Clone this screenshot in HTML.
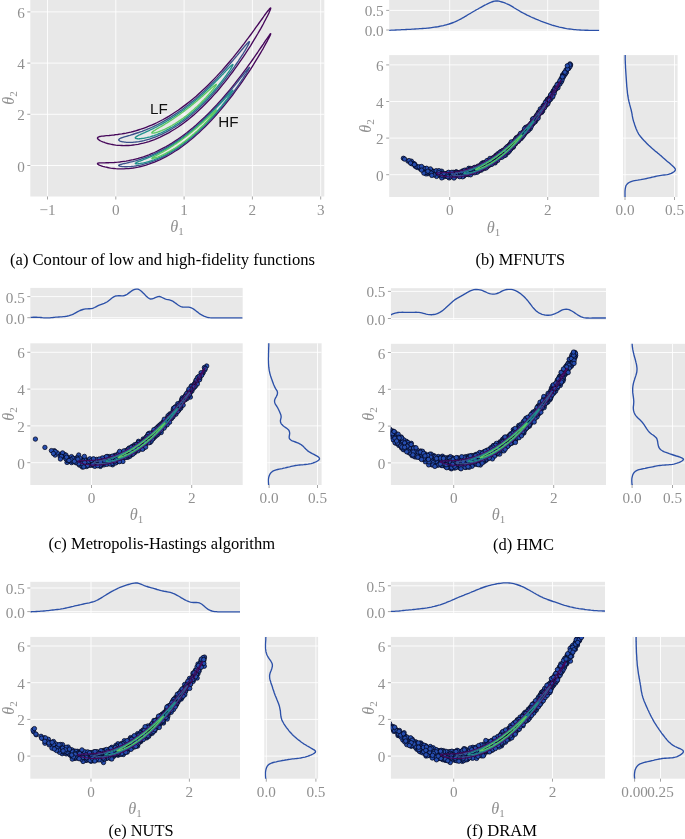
<!DOCTYPE html>
<html lang="en"><head><meta charset="utf-8"><title>MCMC sampler comparison</title>
<style>html,body{margin:0;padding:0;background:#fff}svg{display:block}.tk{font-family:"Liberation Serif",serif;font-size:15.2px;fill:#909090}.th{font-family:"Liberation Serif","DejaVu Serif",serif;font-size:16.2px;fill:#909090}.cap{font-family:"Liberation Serif",serif;font-size:16.6px;fill:#000}.lf{font-family:"Liberation Sans",sans-serif;font-size:15.2px;fill:#111}.dots circle{r:2.2px}</style></head><body>
<svg width="685" height="839" viewBox="0 0 685 839">
<rect width="685" height="839" fill="#fff"/>
<clipPath id="c1"><rect x="30.3" y="-2" width="294" height="198.5"/></clipPath>
<rect x="30.3" y="-2" width="294" height="198.5" fill="#e8e8e8"/>
<path d="M47.5 -2V196.5M115.8 -2V196.5M184.1 -2V196.5M252.4 -2V196.5M320.7 -2V196.5M30.3 165.5H324.3M30.3 114.3H324.3M30.3 63.1H324.3M30.3 11.9H324.3" stroke="#ffffff" stroke-width="0.85" fill="none"/>
<path d="M270.7 8.1L270.7 7.9L270.5 7.9L270.3 8.1L269.9 8.4L269.4 8.9L268.9 9.6L268.2 10.5L267.4 11.5L266.5 12.7L265.5 14L264.4 15.5L263.3 17.2L262 19L260.6 20.9L259.1 23L257.6 25.1L255.9 27.4L254.2 29.9L252.4 32.4L250.5 35L248.5 37.7L246.4 40.4L244.3 43.3L242.1 46.2L239.8 49.1L237.4 52.1L235 55.1L232.6 58.1L230 61.2L227.4 64.3L224.8 67.3L222.1 70.4L219.3 73.4L216.6 76.4L213.7 79.4L210.9 82.3L208 85.2L205.1 88L202.1 90.8L199.1 93.5L196.2 96.2L193.2 98.7L190.1 101.2L187.1 103.6L184.1 105.9L181.1 108.1L178.1 110.3L175 112.3L172 114.2L169.1 116.1L166.1 117.8L163.1 119.5L160.2 121L157.3 122.5L154.5 123.8L151.6 125.1L148.9 126.2L146.1 127.3L143.4 128.3L140.8 129.2L138.2 130L135.6 130.8L133.2 131.5L130.8 132.1L128.4 132.6L126.1 133.1L123.9 133.5L121.8 133.9L119.7 134.2L117.7 134.5L115.8 134.7L114 135L112.3 135.1L110.6 135.3L109.1 135.5L107.6 135.6L106.2 135.7L104.9 135.8L103.8 136L102.7 136.1L101.7 136.2L100.8 136.4L100 136.5L99.3 136.7L98.8 136.9L98.3 137.1L97.9 137.3L97.7 137.5L97.5 137.8L97.5 138.1L97.5 138.4L97.7 138.7L97.9 139L98.3 139.4L98.8 139.8L99.3 140.2L100 140.6L100.8 141L101.7 141.4L102.7 141.8L103.8 142.2L104.9 142.7L106.2 143.1L107.6 143.5L109.1 143.8L110.6 144.2L112.3 144.5L114 144.8L115.8 145.1L117.7 145.3L119.7 145.4L121.8 145.5L123.9 145.6L126.1 145.5L128.4 145.5L130.8 145.3L133.2 145L135.6 144.7L138.2 144.3L140.8 143.7L143.4 143.1L146.1 142.4L148.9 141.6L151.6 140.6L154.5 139.6L157.3 138.4L160.2 137.1L163.1 135.7L166.1 134.2L169.1 132.6L172 130.8L175 129L178.1 127L181.1 124.9L184.1 122.7L187.1 120.4L190.1 117.9L193.2 115.4L196.2 112.8L199.1 110L202.1 107.2L205.1 104.3L208 101.3L210.9 98.3L213.7 95.1L216.6 92L219.3 88.7L222.1 85.4L224.8 82.1L227.4 78.8L230 75.4L232.6 72L235 68.7L237.4 65.3L239.8 61.9L242.1 58.6L244.3 55.3L246.4 52.1L248.5 48.9L250.5 45.8L252.4 42.7L254.2 39.7L255.9 36.8L257.6 34L259.1 31.3L260.6 28.8L262 26.3L263.3 24L264.4 21.8L265.5 19.7L266.5 17.8L267.4 16.1L268.2 14.5L268.9 13.1L269.4 11.8L269.9 10.7L270.3 9.8L270.5 9.1L270.7 8.5L270.7 8.1Z" stroke="#46075a" stroke-width="1.35" fill="none" stroke-linejoin="round" clip-path="url(#c1)"/>
<path d="M249.5 41.8L249.4 41.7L249.3 41.6L249.1 41.7L248.8 41.9L248.5 42.2L248.1 42.6L247.5 43.1L246.9 43.8L246.3 44.5L245.5 45.4L244.7 46.3L243.8 47.4L242.9 48.5L241.8 49.8L240.7 51.1L239.5 52.5L238.3 54L237 55.6L235.6 57.2L234.2 58.9L232.7 60.7L231.1 62.5L229.5 64.4L227.8 66.3L226.1 68.3L224.4 70.2L222.5 72.3L220.7 74.3L218.7 76.4L216.8 78.5L214.8 80.5L212.8 82.6L210.7 84.7L208.6 86.8L206.5 88.8L204.3 90.9L202.1 92.9L199.9 94.9L197.7 96.9L195.5 98.9L193.2 100.8L190.9 102.6L188.7 104.5L186.4 106.2L184.1 108L181.8 109.7L179.5 111.3L177.3 112.9L175 114.4L172.7 115.9L170.5 117.3L168.3 118.6L166.1 119.9L163.9 121.2L161.7 122.4L159.6 123.5L157.5 124.6L155.4 125.6L153.4 126.6L151.4 127.5L149.5 128.3L147.5 129.1L145.7 129.9L143.8 130.6L142.1 131.3L140.4 131.9L138.7 132.5L137.1 133L135.5 133.5L134 134L132.6 134.5L131.2 134.9L129.9 135.3L128.7 135.6L127.5 136L126.4 136.3L125.3 136.6L124.4 136.9L123.5 137.2L122.7 137.5L121.9 137.7L121.3 138L120.7 138.2L120.1 138.5L119.7 138.7L119.4 138.9L119.1 139.2L118.9 139.4L118.8 139.6L118.7 139.9L118.8 140.1L118.9 140.3L119.1 140.5L119.4 140.7L119.7 140.9L120.1 141.1L120.7 141.3L121.3 141.5L121.9 141.6L122.7 141.8L123.5 141.9L124.4 142.1L125.3 142.2L126.4 142.3L127.5 142.3L128.7 142.3L129.9 142.3L131.2 142.3L132.6 142.3L134 142.1L135.5 142L137.1 141.8L138.7 141.6L140.4 141.3L142.1 141L143.8 140.6L145.7 140.1L147.5 139.6L149.5 139.1L151.4 138.4L153.4 137.7L155.4 137L157.5 136.1L159.6 135.2L161.7 134.3L163.9 133.2L166.1 132.1L168.3 130.9L170.5 129.7L172.7 128.3L175 126.9L177.3 125.5L179.5 123.9L181.8 122.3L184.1 120.6L186.4 118.9L188.7 117.1L190.9 115.2L193.2 113.3L195.5 111.3L197.7 109.3L199.9 107.2L202.1 105.1L204.3 102.9L206.5 100.7L208.6 98.5L210.7 96.3L212.8 94L214.8 91.7L216.8 89.4L218.7 87.1L220.7 84.8L222.5 82.5L224.4 80.2L226.1 78L227.8 75.7L229.5 73.5L231.1 71.3L232.7 69.2L234.2 67.1L235.6 65L237 63L238.3 61.1L239.5 59.2L240.7 57.4L241.8 55.7L242.9 54.1L243.8 52.5L244.7 51.1L245.5 49.7L246.3 48.4L246.9 47.3L247.5 46.2L248.1 45.2L248.5 44.4L248.8 43.6L249.1 43L249.3 42.5L249.4 42.1L249.5 41.8Z" stroke="#3b528b" stroke-width="1.35" fill="none" stroke-linejoin="round" clip-path="url(#c1)"/>
<path d="M232.9 64.6L232.9 64.5L232.8 64.5L232.6 64.5L232.4 64.6L232.2 64.8L231.8 65L231.5 65.3L231 65.7L230.5 66.2L230 66.7L229.4 67.4L228.7 68L228 68.8L227.2 69.6L226.4 70.4L225.5 71.4L224.6 72.3L223.6 73.4L222.6 74.4L221.5 75.6L220.4 76.7L219.2 77.9L218 79.2L216.8 80.4L215.5 81.8L214.2 83.1L212.8 84.5L211.4 85.8L210 87.2L208.5 88.6L207 90.1L205.5 91.5L204 92.9L202.4 94.4L200.8 95.8L199.2 97.3L197.6 98.7L195.9 100.1L194.2 101.5L192.6 102.9L190.9 104.3L189.2 105.6L187.5 107L185.8 108.3L184.1 109.6L182.4 110.8L180.7 112.1L179 113.3L177.3 114.5L175.6 115.6L174 116.7L172.3 117.8L170.6 118.9L169 119.9L167.4 120.8L165.8 121.8L164.2 122.7L162.7 123.6L161.2 124.4L159.7 125.2L158.2 126L156.8 126.8L155.4 127.5L154 128.1L152.7 128.8L151.4 129.4L150.2 130L149 130.6L147.8 131.1L146.7 131.6L145.6 132.1L144.6 132.6L143.6 133L142.7 133.4L141.8 133.8L141 134.2L140.2 134.6L139.5 134.9L138.8 135.2L138.2 135.5L137.7 135.8L137.2 136.1L136.7 136.4L136.4 136.6L136 136.8L135.8 137.1L135.6 137.3L135.4 137.5L135.3 137.6L135.3 137.8L135.3 138L135.4 138.1L135.6 138.3L135.8 138.4L136 138.5L136.4 138.6L136.7 138.6L137.2 138.7L137.7 138.7L138.2 138.8L138.8 138.8L139.5 138.7L140.2 138.7L141 138.6L141.8 138.5L142.7 138.4L143.6 138.3L144.6 138.1L145.6 137.9L146.7 137.7L147.8 137.4L149 137.1L150.2 136.8L151.4 136.4L152.7 136L154 135.6L155.4 135.1L156.8 134.6L158.2 134L159.7 133.4L161.2 132.8L162.7 132.1L164.2 131.3L165.8 130.6L167.4 129.7L169 128.9L170.6 127.9L172.3 127L174 126L175.6 124.9L177.3 123.8L179 122.7L180.7 121.5L182.4 120.3L184.1 119L185.8 117.7L187.5 116.4L189.2 115L190.9 113.6L192.6 112.2L194.2 110.7L195.9 109.3L197.6 107.8L199.2 106.2L200.8 104.7L202.4 103.1L204 101.6L205.5 100L207 98.4L208.5 96.8L210 95.2L211.4 93.7L212.8 92.1L214.2 90.5L215.5 89L216.8 87.5L218 86L219.2 84.5L220.4 83L221.5 81.6L222.6 80.3L223.6 78.9L224.6 77.6L225.5 76.4L226.4 75.2L227.2 74L228 72.9L228.7 71.9L229.4 70.9L230 70L230.5 69.1L231 68.3L231.5 67.6L231.8 67L232.2 66.4L232.4 65.9L232.6 65.5L232.8 65.1L232.9 64.8L232.9 64.6Z" stroke="#21918c" stroke-width="1.35" fill="none" stroke-linejoin="round" clip-path="url(#c1)"/>
<path d="M216.4 84.4L216.3 84.3L216.3 84.3L216.2 84.3L216 84.3L215.9 84.4L215.7 84.5L215.4 84.7L215.1 84.9L214.8 85.2L214.4 85.5L214 85.8L213.6 86.2L213.1 86.6L212.6 87L212 87.5L211.5 88L210.8 88.6L210.2 89.2L209.5 89.8L208.8 90.4L208.1 91.1L207.3 91.8L206.5 92.5L205.7 93.2L204.8 94L204 94.8L203.1 95.6L202.1 96.4L201.2 97.2L200.2 98.1L199.2 98.9L198.2 99.8L197.2 100.7L196.2 101.5L195.1 102.4L194.1 103.3L193 104.2L191.9 105.1L190.8 106L189.7 106.9L188.6 107.7L187.5 108.6L186.4 109.5L185.2 110.3L184.1 111.2L183 112L181.8 112.8L180.7 113.7L179.6 114.5L178.5 115.3L177.4 116L176.3 116.8L175.2 117.5L174.1 118.3L173.1 119L172 119.7L171 120.3L170 121L169 121.6L168 122.3L167 122.9L166.1 123.4L165.1 124L164.2 124.6L163.4 125.1L162.5 125.6L161.7 126.1L160.9 126.6L160.1 127L159.4 127.5L158.7 127.9L158 128.3L157.4 128.7L156.7 129L156.2 129.4L155.6 129.7L155.1 130.1L154.6 130.4L154.2 130.6L153.8 130.9L153.4 131.2L153.1 131.4L152.8 131.6L152.5 131.8L152.3 132L152.2 132.2L152 132.4L151.9 132.5L151.9 132.7L151.8 132.8L151.9 132.9L151.9 133L152 133L152.2 133.1L152.3 133.1L152.5 133.1L152.8 133.1L153.1 133.1L153.4 133.1L153.8 133.1L154.2 133L154.6 132.9L155.1 132.8L155.6 132.7L156.2 132.5L156.7 132.4L157.4 132.2L158 132L158.7 131.7L159.4 131.5L160.1 131.2L160.9 130.9L161.7 130.6L162.5 130.2L163.4 129.9L164.2 129.5L165.1 129.1L166.1 128.6L167 128.2L168 127.7L169 127.2L170 126.6L171 126L172 125.5L173.1 124.8L174.1 124.2L175.2 123.5L176.3 122.8L177.4 122.1L178.5 121.4L179.6 120.6L180.7 119.9L181.8 119.1L183 118.3L184.1 117.4L185.2 116.6L186.4 115.7L187.5 114.8L188.6 113.9L189.7 113L190.8 112.1L191.9 111.1L193 110.2L194.1 109.3L195.1 108.3L196.2 107.3L197.2 106.4L198.2 105.4L199.2 104.4L200.2 103.5L201.2 102.5L202.1 101.6L203.1 100.6L204 99.7L204.8 98.8L205.7 97.9L206.5 97L207.3 96.1L208.1 95.3L208.8 94.4L209.5 93.6L210.2 92.8L210.8 92.1L211.5 91.3L212 90.6L212.6 90L213.1 89.3L213.6 88.7L214 88.1L214.4 87.6L214.8 87.1L215.1 86.6L215.4 86.2L215.7 85.8L215.9 85.5L216 85.2L216.2 84.9L216.3 84.7L216.3 84.5L216.4 84.4Z" stroke="#5ec962" stroke-width="1.35" fill="none" stroke-linejoin="round" clip-path="url(#c1)"/>
<path d="M270.7 33.7L270.7 33.7L270.5 33.7L270.3 34L269.9 34.5L269.4 35.1L268.9 35.9L268.2 36.8L267.4 38L266.5 39.3L265.5 40.7L264.4 42.3L263.3 44.1L262 46L260.6 48L259.1 50.2L257.6 52.5L255.9 54.9L254.2 57.4L252.4 60L250.5 62.7L248.5 65.4L246.4 68.3L244.3 71.2L242.1 74.2L239.8 77.2L237.4 80.2L235 83.3L232.6 86.4L230 89.6L227.4 92.7L224.8 95.8L222.1 98.9L219.3 102L216.6 105L213.7 108L210.9 111L208 113.9L205.1 116.8L202.1 119.6L199.1 122.3L196.2 125L193.2 127.6L190.1 130L187.1 132.5L184.1 134.8L181.1 137L178.1 139.1L175 141.1L172 143.1L169.1 144.9L166.1 146.6L163.1 148.2L160.2 149.7L157.3 151.2L154.5 152.5L151.6 153.7L148.9 154.8L146.1 155.8L143.4 156.8L140.8 157.6L138.2 158.4L135.6 159.1L133.2 159.7L130.8 160.2L128.4 160.7L126.1 161.1L123.9 161.4L121.8 161.7L119.7 162L117.7 162.2L115.8 162.3L114 162.5L112.3 162.6L110.6 162.6L109.1 162.7L107.6 162.7L106.2 162.7L104.9 162.8L103.8 162.8L102.7 162.8L101.7 162.8L100.8 162.9L100 162.9L99.3 162.9L98.8 163L98.3 163.1L97.9 163.2L97.7 163.3L97.5 163.5L97.5 163.7L97.5 163.8L97.7 164.1L97.9 164.3L98.3 164.5L98.8 164.8L99.3 165.1L100 165.4L100.8 165.7L101.7 166L102.7 166.3L103.8 166.6L104.9 166.9L106.2 167.2L107.6 167.5L109.1 167.8L110.6 168.1L112.3 168.3L114 168.5L115.8 168.7L117.7 168.8L119.7 168.9L121.8 168.9L123.9 168.8L126.1 168.7L128.4 168.6L130.8 168.3L133.2 168L135.6 167.6L138.2 167.1L140.8 166.5L143.4 165.8L146.1 165.1L148.9 164.2L151.6 163.2L154.5 162.1L157.3 160.9L160.2 159.6L163.1 158.2L166.1 156.6L169.1 155L172 153.2L175 151.3L178.1 149.4L181.1 147.2L184.1 145L187.1 142.7L190.1 140.3L193.2 137.8L196.2 135.1L199.1 132.4L202.1 129.6L205.1 126.8L208 123.8L210.9 120.8L213.7 117.7L216.6 114.5L219.3 111.4L222.1 108.1L224.8 104.9L227.4 101.6L230 98.3L232.6 95L235 91.6L237.4 88.3L239.8 85.1L242.1 81.8L244.3 78.6L246.4 75.4L248.5 72.3L250.5 69.3L252.4 66.3L254.2 63.4L255.9 60.6L257.6 57.9L259.1 55.3L260.6 52.8L262 50.5L263.3 48.3L264.4 46.2L265.5 44.2L266.5 42.4L267.4 40.8L268.2 39.3L268.9 38L269.4 36.9L269.9 35.9L270.3 35.1L270.5 34.5L270.7 34L270.7 33.7Z" stroke="#46075a" stroke-width="1.35" fill="none" stroke-linejoin="round" clip-path="url(#c1)"/>
<path d="M249.5 67.4L249.4 67.4L249.3 67.4L249.1 67.6L248.8 67.8L248.5 68.2L248.1 68.7L247.5 69.3L246.9 70L246.3 70.9L245.5 71.8L244.7 72.8L243.8 74L242.9 75.2L241.8 76.5L240.7 77.9L239.5 79.4L238.3 81L237 82.6L235.6 84.3L234.2 86.1L232.7 87.9L231.1 89.8L229.5 91.7L227.8 93.7L226.1 95.7L224.4 97.8L222.5 99.9L220.7 101.9L218.7 104.1L216.8 106.2L214.8 108.3L212.8 110.4L210.7 112.5L208.6 114.7L206.5 116.8L204.3 118.8L202.1 120.9L199.9 122.9L197.7 124.9L195.5 126.9L193.2 128.8L190.9 130.7L188.7 132.5L186.4 134.3L184.1 136L181.8 137.7L179.5 139.3L177.3 140.9L175 142.4L172.7 143.9L170.5 145.3L168.3 146.6L166.1 147.9L163.9 149.1L161.7 150.3L159.6 151.4L157.5 152.4L155.4 153.4L153.4 154.3L151.4 155.2L149.5 156L147.5 156.8L145.7 157.5L143.8 158.1L142.1 158.7L140.4 159.3L138.7 159.8L137.1 160.3L135.5 160.8L134 161.2L132.6 161.6L131.2 161.9L129.9 162.2L128.7 162.5L127.5 162.8L126.4 163.1L125.3 163.3L124.4 163.5L123.5 163.7L122.7 163.9L121.9 164.1L121.3 164.3L120.7 164.4L120.1 164.6L119.7 164.7L119.4 164.9L119.1 165L118.9 165.2L118.8 165.3L118.7 165.5L118.8 165.6L118.9 165.7L119.1 165.8L119.4 166L119.7 166.1L120.1 166.2L120.7 166.3L121.3 166.4L121.9 166.5L122.7 166.6L123.5 166.6L124.4 166.7L125.3 166.7L126.4 166.7L127.5 166.7L128.7 166.6L129.9 166.6L131.2 166.5L132.6 166.3L134 166.2L135.5 166L137.1 165.7L138.7 165.4L140.4 165.1L142.1 164.7L143.8 164.2L145.7 163.7L147.5 163.2L149.5 162.6L151.4 161.9L153.4 161.2L155.4 160.4L157.5 159.5L159.6 158.6L161.7 157.6L163.9 156.5L166.1 155.4L168.3 154.1L170.5 152.9L172.7 151.5L175 150.1L177.3 148.6L179.5 147.1L181.8 145.5L184.1 143.8L186.4 142L188.7 140.2L190.9 138.4L193.2 136.5L195.5 134.5L197.7 132.5L199.9 130.4L202.1 128.3L204.3 126.2L206.5 124L208.6 121.8L210.7 119.6L212.8 117.4L214.8 115.1L216.8 112.9L218.7 110.6L220.7 108.4L222.5 106.1L224.4 103.9L226.1 101.7L227.8 99.5L229.5 97.3L231.1 95.2L232.7 93.1L234.2 91.1L235.6 89.1L237 87.2L238.3 85.3L239.5 83.5L240.7 81.8L241.8 80.2L242.9 78.6L243.8 77.1L244.7 75.7L245.5 74.5L246.3 73.3L246.9 72.2L247.5 71.2L248.1 70.3L248.5 69.6L248.8 68.9L249.1 68.4L249.3 67.9L249.4 67.6L249.5 67.4Z" stroke="#3b528b" stroke-width="1.35" fill="none" stroke-linejoin="round" clip-path="url(#c1)"/>
<path d="M232.9 90.2L232.9 90.2L232.8 90.2L232.6 90.3L232.4 90.4L232.2 90.7L231.8 91L231.5 91.4L231 91.8L230.5 92.4L230 93L229.4 93.6L228.7 94.4L228 95.2L227.2 96L226.4 97L225.5 97.9L224.6 99L223.6 100L222.6 101.2L221.5 102.3L220.4 103.5L219.2 104.8L218 106.1L216.8 107.4L215.5 108.8L214.2 110.1L212.8 111.5L211.4 112.9L210 114.4L208.5 115.8L207 117.3L205.5 118.7L204 120.2L202.4 121.7L200.8 123.1L199.2 124.6L197.6 126L195.9 127.5L194.2 128.9L192.6 130.3L190.9 131.7L189.2 133.1L187.5 134.4L185.8 135.7L184.1 137L182.4 138.3L180.7 139.5L179 140.7L177.3 141.9L175.6 143L174 144.1L172.3 145.2L170.6 146.2L169 147.2L167.4 148.2L165.8 149.1L164.2 150L162.7 150.8L161.2 151.6L159.7 152.4L158.2 153.2L156.8 153.9L155.4 154.6L154 155.2L152.7 155.8L151.4 156.4L150.2 156.9L149 157.4L147.8 157.9L146.7 158.4L145.6 158.8L144.6 159.2L143.6 159.6L142.7 160L141.8 160.3L141 160.7L140.2 161L139.5 161.2L138.8 161.5L138.2 161.7L137.7 162L137.2 162.2L136.7 162.4L136.4 162.6L136 162.8L135.8 162.9L135.6 163.1L135.4 163.2L135.3 163.3L135.3 163.4L135.3 163.5L135.4 163.6L135.6 163.7L135.8 163.7L136 163.8L136.4 163.8L136.7 163.8L137.2 163.8L137.7 163.8L138.2 163.7L138.8 163.7L139.5 163.6L140.2 163.5L141 163.4L141.8 163.2L142.7 163.1L143.6 162.9L144.6 162.6L145.6 162.4L146.7 162.1L147.8 161.8L149 161.5L150.2 161.1L151.4 160.7L152.7 160.2L154 159.8L155.4 159.2L156.8 158.7L158.2 158.1L159.7 157.4L161.2 156.8L162.7 156L164.2 155.3L165.8 154.5L167.4 153.6L169 152.7L170.6 151.8L172.3 150.8L174 149.8L175.6 148.7L177.3 147.6L179 146.5L180.7 145.3L182.4 144.1L184.1 142.8L185.8 141.5L187.5 140.2L189.2 138.8L190.9 137.4L192.6 136L194.2 134.6L195.9 133.1L197.6 131.6L199.2 130.1L200.8 128.6L202.4 127L204 125.5L205.5 123.9L207 122.4L208.5 120.8L210 119.3L211.4 117.7L212.8 116.2L214.2 114.7L215.5 113.2L216.8 111.7L218 110.3L219.2 108.8L220.4 107.4L221.5 106.1L222.6 104.7L223.6 103.4L224.6 102.2L225.5 101L226.4 99.8L227.2 98.8L228 97.7L228.7 96.7L229.4 95.8L230 95L230.5 94.2L231 93.4L231.5 92.8L231.8 92.2L232.2 91.7L232.4 91.2L232.6 90.9L232.8 90.6L232.9 90.4L232.9 90.2Z" stroke="#21918c" stroke-width="1.35" fill="none" stroke-linejoin="round" clip-path="url(#c1)"/>
<path d="M216.4 110L216.3 110L216.3 110L216.2 110L216 110.1L215.9 110.2L215.7 110.4L215.4 110.6L215.1 110.8L214.8 111.1L214.4 111.5L214 111.8L213.6 112.3L213.1 112.7L212.6 113.2L212 113.7L211.5 114.3L210.8 114.9L210.2 115.5L209.5 116.1L208.8 116.8L208.1 117.5L207.3 118.2L206.5 119L205.7 119.7L204.8 120.5L204 121.3L203.1 122.2L202.1 123L201.2 123.9L200.2 124.7L199.2 125.6L198.2 126.5L197.2 127.4L196.2 128.3L195.1 129.2L194.1 130.1L193 131L191.9 131.9L190.8 132.8L189.7 133.6L188.6 134.5L187.5 135.4L186.4 136.3L185.2 137.1L184.1 138L183 138.8L181.8 139.7L180.7 140.5L179.6 141.3L178.5 142L177.4 142.8L176.3 143.6L175.2 144.3L174.1 145L173.1 145.7L172 146.4L171 147L170 147.7L169 148.3L168 148.9L167 149.5L166.1 150.1L165.1 150.6L164.2 151.1L163.4 151.6L162.5 152.1L161.7 152.6L160.9 153L160.1 153.4L159.4 153.8L158.7 154.2L158 154.6L157.4 155L156.7 155.3L156.2 155.6L155.6 155.9L155.1 156.2L154.6 156.4L154.2 156.7L153.8 156.9L153.4 157.1L153.1 157.3L152.8 157.5L152.5 157.7L152.3 157.8L152.2 158L152 158.1L151.9 158.2L151.9 158.3L151.8 158.4L151.9 158.4L151.9 158.5L152 158.5L152.2 158.5L152.3 158.5L152.5 158.5L152.8 158.5L153.1 158.4L153.4 158.3L153.8 158.2L154.2 158.1L154.6 158L155.1 157.9L155.6 157.7L156.2 157.5L156.7 157.3L157.4 157.1L158 156.9L158.7 156.6L159.4 156.3L160.1 156L160.9 155.7L161.7 155.3L162.5 154.9L163.4 154.6L164.2 154.1L165.1 153.7L166.1 153.2L167 152.7L168 152.2L169 151.7L170 151.1L171 150.5L172 149.9L173.1 149.3L174.1 148.6L175.2 148L176.3 147.3L177.4 146.6L178.5 145.8L179.6 145L180.7 144.3L181.8 143.5L183 142.6L184.1 141.8L185.2 141L186.4 140.1L187.5 139.2L188.6 138.3L189.7 137.4L190.8 136.5L191.9 135.6L193 134.6L194.1 133.7L195.1 132.8L196.2 131.8L197.2 130.9L198.2 129.9L199.2 129L200.2 128L201.2 127.1L202.1 126.2L203.1 125.3L204 124.4L204.8 123.5L205.7 122.6L206.5 121.7L207.3 120.9L208.1 120.1L208.8 119.2L209.5 118.5L210.2 117.7L210.8 117L211.5 116.3L212 115.6L212.6 115L213.1 114.4L213.6 113.8L214 113.3L214.4 112.8L214.8 112.3L215.1 111.9L215.4 111.5L215.7 111.2L215.9 110.9L216 110.6L216.2 110.4L216.3 110.2L216.3 110.1L216.4 110Z" stroke="#5ec962" stroke-width="1.35" fill="none" stroke-linejoin="round" clip-path="url(#c1)"/>
<path d="M47.5 196.5v3M115.8 196.5v3M184.1 196.5v3M252.4 196.5v3M320.7 196.5v3" stroke="#8e8e8e" stroke-width="0.8" fill="none"/>
<text class="tk" x="47.5" y="214.9" text-anchor="middle">−1</text>
<text class="tk" x="115.8" y="214.9" text-anchor="middle">0</text>
<text class="tk" x="184.1" y="214.9" text-anchor="middle">1</text>
<text class="tk" x="252.4" y="214.9" text-anchor="middle">2</text>
<text class="tk" x="320.7" y="214.9" text-anchor="middle">3</text>
<path d="M30.3 165.5h-3M30.3 114.3h-3M30.3 63.1h-3M30.3 11.9h-3" stroke="#8e8e8e" stroke-width="0.8" fill="none"/>
<text class="tk" x="24.8" y="171.5" text-anchor="end">0</text>
<text class="tk" x="24.8" y="120.3" text-anchor="end">2</text>
<text class="tk" x="24.8" y="69.1" text-anchor="end">4</text>
<text class="tk" x="24.8" y="17.9" text-anchor="end">6</text>
<text class="th" x="177" y="231.5" text-anchor="middle"><tspan font-style="italic">θ</tspan><tspan font-size="11" dy="3.4">1</tspan></text>
<text class="th" x="9" y="102.5" text-anchor="middle" transform="rotate(-90 9 98)"><tspan font-style="italic">θ</tspan><tspan font-size="11" dy="3.4">2</tspan></text>
<text class="lf" x="150" y="114.2">LF</text>
<text class="lf" x="218.3" y="126.5">HF</text>
<text class="cap" x="10" y="265" textLength="305" lengthAdjust="spacingAndGlyphs">(a) Contour of low and high-fidelity functions</text>
<clipPath id="c2"><rect x="389.2" y="-3" width="210" height="34"/></clipPath>
<rect x="389.2" y="-3" width="210" height="34" fill="#e8e8e8"/>
<path d="M449.7 -3V31M547.7 -3V31M389.2 30H599.2M389.2 10.4H599.2" stroke="#ffffff" stroke-width="0.85" fill="none"/>
<path d="M388.2 30.3L389.7 30.3L391.2 30.2L392.7 30.1L394.2 30.1L395.7 30L397.2 29.9L398.7 29.9L400.2 29.8L401.7 29.7L403.2 29.6L404.7 29.6L406.2 29.5L407.6 29.4L409.1 29.4L410.6 29.3L412.1 29.2L413.6 29.1L415.1 29L416.6 28.9L418.1 28.8L419.6 28.7L421.1 28.6L422.6 28.5L424.1 28.4L425.6 28.3L427.1 28.1L428.6 28L430.1 27.8L431.6 27.6L433 27.4L434.5 27.2L436 27L437.5 26.8L439 26.5L440.4 26.2L441.9 25.9L443.4 25.6L444.8 25.2L446.3 24.8L447.7 24.4L449.1 24L450.6 23.5L452 23L453.4 22.5L454.8 21.9L456.1 21.3L457.5 20.7L458.8 20L460.1 19.3L461.5 18.6L462.8 17.8L464.1 17.1L465.4 16.3L466.6 15.6L467.9 14.8L469.2 14L470.5 13.3L471.8 12.5L473.1 11.7L474.4 11L475.7 10.2L477 9.5L478.3 8.8L479.6 8L480.9 7.3L482.2 6.6L483.5 5.9L484.8 5.2L486.2 4.5L487.5 3.8L488.9 3.2L490.2 2.6L491.6 2L493.1 1.5L494.5 1.1L496 1L497.5 1L499 1.2L500.5 1.6L501.9 2L503.3 2.4L504.8 2.9L506.1 3.5L507.5 4.1L508.8 4.7L510.2 5.4L511.5 6.1L512.8 6.9L514 7.7L515.3 8.5L516.6 9.3L517.9 10L519.2 10.8L520.5 11.6L521.8 12.3L523.1 13L524.4 13.7L525.8 14.4L527.1 15.1L528.4 15.7L529.8 16.3L531.2 17L532.5 17.6L533.9 18.2L535.3 18.8L536.7 19.4L538 19.9L539.4 20.5L540.8 21.1L542.2 21.6L543.6 22.2L545 22.7L546.4 23.2L547.8 23.7L549.3 24.2L550.7 24.6L552.1 25.1L553.5 25.5L555 25.9L556.4 26.3L557.9 26.7L559.3 27.1L560.8 27.4L562.2 27.7L563.7 28L565.2 28.3L566.7 28.6L568.1 28.8L569.6 29L571.1 29.2L572.6 29.4L574.1 29.6L575.6 29.7L577.1 29.8L578.6 29.9L580.1 30L581.6 30.1L583 30.1L584.5 30.2L586 30.2L587.5 30.2L589 30.3L590.5 30.3L592 30.3L593.5 30.3L595 30.3L596.5 30.3L598 30.3L599.5 30.3" stroke="#2b50a8" stroke-width="1.35" fill="none" stroke-linejoin="round" clip-path="url(#c2)"/>
<path d="M389.2 30h-3M389.2 10.4h-3" stroke="#8e8e8e" stroke-width="0.8" fill="none"/>
<text class="tk" x="383.7" y="36" text-anchor="end">0.0</text>
<text class="tk" x="383.7" y="16.4" text-anchor="end">0.5</text>
<clipPath id="c3"><rect x="389.2" y="55.1" width="210" height="141.9"/></clipPath>
<rect x="389.2" y="55.1" width="210" height="141.9" fill="#e8e8e8"/>
<path d="M449.7 55.1V197M547.7 55.1V197M389.2 174.7H599.2M389.2 138.1H599.2M389.2 101.5H599.2M389.2 64.9H599.2" stroke="#ffffff" stroke-width="0.85" fill="none"/>
<g class="dots" fill="#264eb0" stroke="#03061c" stroke-width="0.75" clip-path="url(#c3)"><circle cx="548.2" cy="98.7" r="2.2"/><circle cx="501" cy="155.7" r="2.2"/><circle cx="489.8" cy="164.2" r="2.2"/><circle cx="492.3" cy="162.1" r="2.2"/><circle cx="493.3" cy="161" r="2.2"/><circle cx="540.6" cy="111.7" r="2.2"/><circle cx="513.8" cy="143.1" r="2.2"/><circle cx="532.7" cy="124" r="2.2"/><circle cx="408" cy="161.1" r="2.2"/><circle cx="509.3" cy="145" r="2.2"/><circle cx="530.8" cy="125.4" r="2.2"/><circle cx="557.7" cy="85.9" r="2.2"/><circle cx="500.6" cy="154.2" r="2.2"/><circle cx="449.2" cy="173.3" r="2.2"/><circle cx="517" cy="141" r="2.2"/><circle cx="482.1" cy="167.9" r="2.2"/><circle cx="447" cy="175.9" r="2.2"/><circle cx="481.5" cy="165.7" r="2.2"/><circle cx="530.8" cy="123.5" r="2.2"/><circle cx="535.1" cy="121.8" r="2.2"/><circle cx="521" cy="138.6" r="2.2"/><circle cx="468.9" cy="173.4" r="2.2"/><circle cx="465.4" cy="174.7" r="2.2"/><circle cx="497.5" cy="156.8" r="2.2"/><circle cx="457.3" cy="174" r="2.2"/><circle cx="538.5" cy="112.3" r="2.2"/><circle cx="525.9" cy="130.3" r="2.2"/><circle cx="502.5" cy="152.1" r="2.2"/><circle cx="497.8" cy="158.2" r="2.2"/><circle cx="505" cy="153.1" r="2.2"/><circle cx="444.3" cy="174.5" r="2.2"/><circle cx="529.1" cy="125.6" r="2.2"/><circle cx="526.7" cy="131.5" r="2.2"/><circle cx="488.3" cy="162.3" r="2.2"/><circle cx="499.5" cy="154.8" r="2.2"/><circle cx="508.7" cy="148.8" r="2.2"/><circle cx="546" cy="103.8" r="2.2"/><circle cx="512.6" cy="144.9" r="2.2"/><circle cx="484.9" cy="164.3" r="2.2"/><circle cx="455.7" cy="175.4" r="2.2"/><circle cx="492.5" cy="159.6" r="2.2"/><circle cx="502.2" cy="156.1" r="2.2"/><circle cx="521.9" cy="137.3" r="2.2"/><circle cx="512.8" cy="143.6" r="2.2"/><circle cx="519.3" cy="138.6" r="2.2"/><circle cx="505.5" cy="151.9" r="2.2"/><circle cx="499.1" cy="157.7" r="2.2"/><circle cx="449.2" cy="175.6" r="2.2"/><circle cx="536.9" cy="117.6" r="2.2"/><circle cx="462.2" cy="173" r="2.2"/><circle cx="524.7" cy="133.3" r="2.2"/><circle cx="501.1" cy="151.5" r="2.2"/><circle cx="472.3" cy="172.5" r="2.2"/><circle cx="531.7" cy="122.8" r="2.2"/><circle cx="505.6" cy="149.8" r="2.2"/><circle cx="503.6" cy="152.6" r="2.2"/><circle cx="524.2" cy="134.5" r="2.2"/><circle cx="506.9" cy="149.3" r="2.2"/><circle cx="454.6" cy="173.2" r="2.2"/><circle cx="488.3" cy="164" r="2.2"/><circle cx="503.3" cy="154.9" r="2.2"/><circle cx="553" cy="94.1" r="2.2"/><circle cx="511.5" cy="145.2" r="2.2"/><circle cx="535.4" cy="117.4" r="2.2"/><circle cx="456.2" cy="171.7" r="2.2"/><circle cx="528.4" cy="127.4" r="2.2"/><circle cx="466.7" cy="172.7" r="2.2"/><circle cx="541.5" cy="108.6" r="2.2"/><circle cx="469.1" cy="171.1" r="2.2"/><circle cx="512.7" cy="142.1" r="2.2"/><circle cx="453.4" cy="175.1" r="2.2"/><circle cx="435" cy="172.5" r="2.2"/><circle cx="487.3" cy="164.5" r="2.2"/><circle cx="480.1" cy="166.1" r="2.2"/><circle cx="492.2" cy="160.9" r="2.2"/><circle cx="493.9" cy="162.4" r="2.2"/><circle cx="482.8" cy="163.8" r="2.2"/><circle cx="528.6" cy="129.6" r="2.2"/><circle cx="527" cy="129.6" r="2.2"/><circle cx="403.4" cy="158.3" r="2.2"/><circle cx="471" cy="171.5" r="2.2"/><circle cx="491.2" cy="159.4" r="2.2"/><circle cx="506.5" cy="150.6" r="2.2"/><circle cx="452.9" cy="173.3" r="2.2"/><circle cx="478.1" cy="169.9" r="2.2"/><circle cx="515.3" cy="142.2" r="2.2"/><circle cx="459" cy="175.5" r="2.2"/><circle cx="537.6" cy="116.1" r="2.2"/><circle cx="552.2" cy="93" r="2.2"/><circle cx="526.8" cy="127.2" r="2.2"/><circle cx="472.8" cy="170.4" r="2.2"/><circle cx="494.9" cy="158.5" r="2.2"/><circle cx="465.5" cy="173.6" r="2.2"/><circle cx="503.8" cy="154" r="2.2"/><circle cx="559.1" cy="84.2" r="2.2"/><circle cx="489.2" cy="163.1" r="2.2"/><circle cx="518.2" cy="138.5" r="2.2"/><circle cx="471.3" cy="172.4" r="2.2"/><circle cx="546.5" cy="104.8" r="2.2"/><circle cx="462.6" cy="174.3" r="2.2"/><circle cx="520.2" cy="136.6" r="2.2"/><circle cx="536" cy="120.4" r="2.2"/><circle cx="510.9" cy="148.9" r="2.2"/><circle cx="564" cy="73.3" r="2.2"/><circle cx="480.3" cy="168.1" r="2.2"/><circle cx="514.5" cy="141" r="2.2"/><circle cx="484.2" cy="165.4" r="2.2"/><circle cx="460.6" cy="172.7" r="2.2"/><circle cx="521.8" cy="134.4" r="2.2"/><circle cx="543.1" cy="107.7" r="2.2"/><circle cx="508.2" cy="147.8" r="2.2"/><circle cx="490.1" cy="161.2" r="2.2"/><circle cx="538.4" cy="115" r="2.2"/><circle cx="495" cy="157.5" r="2.2"/><circle cx="451.5" cy="174.8" r="2.2"/><circle cx="525.6" cy="131.4" r="2.2"/><circle cx="489.1" cy="161.3" r="2.2"/><circle cx="524.7" cy="131.7" r="2.2"/><circle cx="503.7" cy="151.6" r="2.2"/><circle cx="510" cy="146.9" r="2.2"/><circle cx="449.9" cy="174.8" r="2.2"/><circle cx="516.5" cy="139.5" r="2.2"/><circle cx="475.6" cy="167.5" r="2.2"/><circle cx="503" cy="150.3" r="2.2"/><circle cx="529.6" cy="126.5" r="2.2"/><circle cx="508.1" cy="146.3" r="2.2"/><circle cx="546.4" cy="101.2" r="2.2"/><circle cx="427.9" cy="173.7" r="2.2"/><circle cx="495.8" cy="161.1" r="2.2"/><circle cx="510.2" cy="145.7" r="2.2"/><circle cx="534.2" cy="119.4" r="2.2"/><circle cx="444.8" cy="175.5" r="2.2"/><circle cx="490.4" cy="162.6" r="2.2"/><circle cx="476" cy="169.7" r="2.2"/><circle cx="553.3" cy="90.8" r="2.2"/><circle cx="477.3" cy="170.8" r="2.2"/><circle cx="486.1" cy="164.1" r="2.2"/><circle cx="544.8" cy="104.4" r="2.2"/><circle cx="473.3" cy="171.6" r="2.2"/><circle cx="568.7" cy="68.4" r="2.2"/><circle cx="459.6" cy="172.4" r="2.2"/><circle cx="445.7" cy="173.9" r="2.2"/><circle cx="458.8" cy="174.3" r="2.2"/><circle cx="496" cy="159.4" r="2.2"/><circle cx="507.6" cy="148.6" r="2.2"/><circle cx="534" cy="121.4" r="2.2"/><circle cx="478.1" cy="168.5" r="2.2"/><circle cx="550.2" cy="97.1" r="2.2"/><circle cx="519.9" cy="137.8" r="2.2"/><circle cx="442.7" cy="174.7" r="2.2"/><circle cx="461.2" cy="174.6" r="2.2"/><circle cx="476.5" cy="168.7" r="2.2"/><circle cx="475.5" cy="170.6" r="2.2"/><circle cx="557.7" cy="84" r="2.2"/><circle cx="468.3" cy="170.1" r="2.2"/><circle cx="474.2" cy="168.5" r="2.2"/><circle cx="484.6" cy="167" r="2.2"/><circle cx="427.4" cy="170.3" r="2.2"/><circle cx="467.7" cy="171.8" r="2.2"/><circle cx="541.2" cy="109.9" r="2.2"/><circle cx="539.4" cy="113.8" r="2.2"/><circle cx="461.7" cy="175.6" r="2.2"/><circle cx="506.6" cy="151.9" r="2.2"/><circle cx="491.4" cy="162.9" r="2.2"/><circle cx="483.5" cy="167.1" r="2.2"/><circle cx="513.2" cy="147.2" r="2.2"/><circle cx="479.4" cy="169" r="2.2"/><circle cx="498.5" cy="155.2" r="2.2"/><circle cx="415.2" cy="166.3" r="2.2"/><circle cx="472" cy="171.5" r="2.2"/><circle cx="464.4" cy="173" r="2.2"/><circle cx="464.2" cy="171.8" r="2.2"/><circle cx="485.3" cy="162.8" r="2.2"/><circle cx="522.3" cy="132.9" r="2.2"/><circle cx="553.3" cy="92.3" r="2.2"/><circle cx="507.7" cy="151.1" r="2.2"/><circle cx="495.8" cy="155.5" r="2.2"/><circle cx="502.5" cy="153.8" r="2.2"/><circle cx="473" cy="169.2" r="2.2"/><circle cx="512.2" cy="146.1" r="2.2"/><circle cx="493.5" cy="158.7" r="2.2"/><circle cx="485.5" cy="166.4" r="2.2"/><circle cx="467.5" cy="170.8" r="2.2"/><circle cx="487" cy="161.7" r="2.2"/><circle cx="519" cy="135.8" r="2.2"/><circle cx="469.9" cy="173" r="2.2"/><circle cx="520.6" cy="135.3" r="2.2"/><circle cx="433.4" cy="171.2" r="2.2"/><circle cx="479" cy="167.9" r="2.2"/><circle cx="452.9" cy="176.3" r="2.2"/><circle cx="566.5" cy="72.1" r="2.2"/><circle cx="475.7" cy="171.9" r="2.2"/><circle cx="562.5" cy="75.1" r="2.2"/><circle cx="522.9" cy="134.8" r="2.2"/><circle cx="481.4" cy="166.8" r="2.2"/><circle cx="450.9" cy="176.1" r="2.2"/><circle cx="547.4" cy="99.4" r="2.2"/><circle cx="446.7" cy="173.3" r="2.2"/><circle cx="495.1" cy="159.8" r="2.2"/><circle cx="426.5" cy="170.8" r="2.2"/><circle cx="511.1" cy="146.2" r="2.2"/><circle cx="471.8" cy="170.2" r="2.2"/><circle cx="498.8" cy="156.2" r="2.2"/><circle cx="446.1" cy="176.2" r="2.2"/><circle cx="543.2" cy="105.6" r="2.2"/><circle cx="469.1" cy="172.2" r="2.2"/><circle cx="519" cy="137.1" r="2.2"/><circle cx="457.9" cy="173" r="2.2"/><circle cx="533.4" cy="120.4" r="2.2"/><circle cx="501.8" cy="154.5" r="2.2"/><circle cx="473.5" cy="172.6" r="2.2"/><circle cx="544.2" cy="106.6" r="2.2"/><circle cx="456.7" cy="175" r="2.2"/><circle cx="565" cy="74.4" r="2.2"/><circle cx="465.9" cy="170.3" r="2.2"/><circle cx="431.3" cy="170.4" r="2.2"/><circle cx="476.7" cy="167.4" r="2.2"/><circle cx="448.4" cy="174.8" r="2.2"/><circle cx="522.1" cy="135.5" r="2.2"/><circle cx="509.1" cy="146.3" r="2.2"/><circle cx="440.8" cy="174.2" r="2.2"/><circle cx="489.2" cy="165.1" r="2.2"/><circle cx="439.4" cy="171.8" r="2.2"/><circle cx="506.9" cy="146.9" r="2.2"/><circle cx="523.4" cy="133" r="2.2"/><circle cx="518" cy="140.3" r="2.2"/><circle cx="547.8" cy="100.6" r="2.2"/><circle cx="501.2" cy="152.9" r="2.2"/><circle cx="465.6" cy="172.4" r="2.2"/><circle cx="497.1" cy="159" r="2.2"/><circle cx="510.7" cy="147.6" r="2.2"/><circle cx="531.9" cy="124.6" r="2.2"/><circle cx="474.8" cy="169.6" r="2.2"/><circle cx="478.1" cy="166.1" r="2.2"/><circle cx="495.6" cy="156.4" r="2.2"/><circle cx="550.4" cy="95.7" r="2.2"/><circle cx="548.4" cy="101.9" r="2.2"/><circle cx="545.3" cy="105.9" r="2.2"/><circle cx="537.9" cy="117.2" r="2.2"/><circle cx="436" cy="174.3" r="2.2"/><circle cx="482.7" cy="165.7" r="2.2"/><circle cx="483" cy="162.7" r="2.2"/><circle cx="455.2" cy="174.4" r="2.2"/><circle cx="559.5" cy="82.6" r="2.2"/><circle cx="510.7" cy="143.4" r="2.2"/><circle cx="532.8" cy="121.9" r="2.2"/><circle cx="490.9" cy="164.4" r="2.2"/><circle cx="443.7" cy="175.3" r="2.2"/><circle cx="487.2" cy="163.1" r="2.2"/><circle cx="429.5" cy="170.2" r="2.2"/><circle cx="480.6" cy="165" r="2.2"/><circle cx="524.6" cy="130.2" r="2.2"/><circle cx="437.2" cy="173" r="2.2"/><circle cx="547" cy="102.4" r="2.2"/><circle cx="515.9" cy="141" r="2.2"/><circle cx="481.1" cy="168.8" r="2.2"/><circle cx="549.7" cy="98.6" r="2.2"/><circle cx="563.7" cy="74.3" r="2.2"/><circle cx="460.9" cy="176.1" r="2.2"/><circle cx="494.1" cy="160.4" r="2.2"/><circle cx="496.3" cy="157.5" r="2.2"/><circle cx="460.2" cy="174.8" r="2.2"/><circle cx="411.4" cy="161.2" r="2.2"/><circle cx="440.8" cy="173.1" r="2.2"/><circle cx="441.7" cy="171.2" r="2.2"/><circle cx="542.3" cy="110.1" r="2.2"/><circle cx="562.2" cy="78.2" r="2.2"/><circle cx="536.2" cy="116.5" r="2.2"/><circle cx="514.2" cy="142.1" r="2.2"/><circle cx="451.8" cy="173.4" r="2.2"/><circle cx="499.9" cy="156.2" r="2.2"/><circle cx="526" cy="128.6" r="2.2"/><circle cx="426.1" cy="173.9" r="2.2"/><circle cx="434.1" cy="172" r="2.2"/><circle cx="563.8" cy="75.4" r="2.2"/><circle cx="561.1" cy="80.5" r="2.2"/><circle cx="527.2" cy="128.6" r="2.2"/><circle cx="516.5" cy="137.6" r="2.2"/><circle cx="504.2" cy="150.4" r="2.2"/><circle cx="554.3" cy="91.5" r="2.2"/><circle cx="534.9" cy="118.3" r="2.2"/><circle cx="497.5" cy="154.8" r="2.2"/><circle cx="552.2" cy="95.4" r="2.2"/><circle cx="497.7" cy="160.4" r="2.2"/><circle cx="459.8" cy="173.8" r="2.2"/><circle cx="462.6" cy="171" r="2.2"/><circle cx="536.7" cy="115.1" r="2.2"/><circle cx="509.4" cy="148.1" r="2.2"/><circle cx="467.1" cy="173.7" r="2.2"/><circle cx="565" cy="72.1" r="2.2"/><circle cx="544.3" cy="105.5" r="2.2"/><circle cx="471.3" cy="168.9" r="2.2"/><circle cx="481.7" cy="163.6" r="2.2"/><circle cx="491.1" cy="161" r="2.2"/><circle cx="488.1" cy="166.1" r="2.2"/><circle cx="514.5" cy="144" r="2.2"/><circle cx="487.1" cy="166.5" r="2.2"/><circle cx="566.1" cy="69.8" r="2.2"/><circle cx="454.7" cy="177" r="2.2"/><circle cx="540.3" cy="108.9" r="2.2"/><circle cx="543.1" cy="108.7" r="2.2"/><circle cx="452" cy="175.9" r="2.2"/><circle cx="541.6" cy="112.4" r="2.2"/><circle cx="523.9" cy="131" r="2.2"/><circle cx="515.6" cy="143.6" r="2.2"/><circle cx="423.4" cy="169.4" r="2.2"/><circle cx="539.6" cy="111.3" r="2.2"/><circle cx="560" cy="83.9" r="2.2"/><circle cx="497.9" cy="153.7" r="2.2"/><circle cx="425.6" cy="170" r="2.2"/><circle cx="529.5" cy="128" r="2.2"/><circle cx="492.6" cy="158.1" r="2.2"/><circle cx="450.7" cy="174" r="2.2"/><circle cx="463.8" cy="176.1" r="2.2"/><circle cx="463.4" cy="173.2" r="2.2"/><circle cx="449.2" cy="177.9" r="2.2"/><circle cx="478.4" cy="171.2" r="2.2"/><circle cx="530.3" cy="128.6" r="2.2"/><circle cx="453.4" cy="172.4" r="2.2"/><circle cx="508.6" cy="150" r="2.2"/><circle cx="437.2" cy="174" r="2.2"/><circle cx="455.8" cy="172.7" r="2.2"/><circle cx="417.2" cy="167.5" r="2.2"/><circle cx="513.8" cy="145" r="2.2"/><circle cx="484.6" cy="168.4" r="2.2"/><circle cx="525.6" cy="127.4" r="2.2"/><circle cx="420.5" cy="169" r="2.2"/><circle cx="499.3" cy="153.8" r="2.2"/><circle cx="569.2" cy="65.7" r="2.2"/><circle cx="485.8" cy="165.1" r="2.2"/><circle cx="507.8" cy="152.7" r="2.2"/><circle cx="464" cy="174.4" r="2.2"/><circle cx="439.6" cy="173.9" r="2.2"/><circle cx="489.3" cy="160.1" r="2.2"/><circle cx="431.6" cy="171.6" r="2.2"/><circle cx="474.1" cy="171" r="2.2"/><circle cx="434.8" cy="173.7" r="2.2"/><circle cx="495.1" cy="162.9" r="2.2"/><circle cx="468.4" cy="174.6" r="2.2"/><circle cx="470.3" cy="170.7" r="2.2"/><circle cx="518.3" cy="141.3" r="2.2"/><circle cx="550.7" cy="94.7" r="2.2"/><circle cx="562.5" cy="76.4" r="2.2"/><circle cx="519.2" cy="139.7" r="2.2"/><circle cx="528.1" cy="126.4" r="2.2"/><circle cx="510.3" cy="144.4" r="2.2"/><circle cx="478.1" cy="167.1" r="2.2"/><circle cx="542.7" cy="111" r="2.2"/><circle cx="448" cy="173.3" r="2.2"/><circle cx="477.2" cy="172.3" r="2.2"/><circle cx="556.2" cy="87.5" r="2.2"/><circle cx="560.5" cy="81.8" r="2.2"/><circle cx="523.5" cy="132" r="2.2"/><circle cx="483.1" cy="168.3" r="2.2"/><circle cx="540" cy="112.9" r="2.2"/><circle cx="561.5" cy="81.6" r="2.2"/><circle cx="550.5" cy="99.4" r="2.2"/><circle cx="481.4" cy="170.1" r="2.2"/><circle cx="529.9" cy="124.8" r="2.2"/><circle cx="461.8" cy="171.7" r="2.2"/><circle cx="466.6" cy="171.3" r="2.2"/><circle cx="515" cy="140.1" r="2.2"/><circle cx="537.9" cy="114" r="2.2"/><circle cx="425.2" cy="171.1" r="2.2"/><circle cx="469.7" cy="174.1" r="2.2"/><circle cx="568" cy="67.2" r="2.2"/><circle cx="505.6" cy="155.1" r="2.2"/><circle cx="528.2" cy="130.6" r="2.2"/><circle cx="534.4" cy="120.5" r="2.2"/><circle cx="433.5" cy="173.8" r="2.2"/><circle cx="409.1" cy="160.6" r="2.2"/><circle cx="555.5" cy="89.6" r="2.2"/><circle cx="531.2" cy="126.6" r="2.2"/><circle cx="505.6" cy="148.3" r="2.2"/><circle cx="547.8" cy="103.8" r="2.2"/><circle cx="439" cy="175.2" r="2.2"/><circle cx="438.3" cy="171.4" r="2.2"/><circle cx="557" cy="88.1" r="2.2"/><circle cx="442.4" cy="173.3" r="2.2"/><circle cx="432.6" cy="171.8" r="2.2"/><circle cx="565.8" cy="73.1" r="2.2"/><circle cx="516.4" cy="142.2" r="2.2"/><circle cx="511.7" cy="143" r="2.2"/><circle cx="488.3" cy="160.4" r="2.2"/><circle cx="482.5" cy="166.9" r="2.2"/><circle cx="430.4" cy="168.9" r="2.2"/><circle cx="448.6" cy="172.3" r="2.2"/><circle cx="424.7" cy="168.5" r="2.2"/><circle cx="561.2" cy="78.6" r="2.2"/><circle cx="426" cy="172.5" r="2.2"/><circle cx="457.8" cy="175.6" r="2.2"/><circle cx="452.5" cy="174.3" r="2.2"/><circle cx="432.1" cy="173.9" r="2.2"/><circle cx="505.1" cy="151" r="2.2"/><circle cx="450.3" cy="176.9" r="2.2"/><circle cx="525.7" cy="132.5" r="2.2"/><circle cx="456.8" cy="172.5" r="2.2"/><circle cx="443.7" cy="176.9" r="2.2"/><circle cx="504.2" cy="155.7" r="2.2"/><circle cx="436.6" cy="176.4" r="2.2"/><circle cx="429.1" cy="171.8" r="2.2"/><circle cx="486.2" cy="167.9" r="2.2"/><circle cx="494.8" cy="161.9" r="2.2"/><circle cx="413.7" cy="163.5" r="2.2"/><circle cx="554.2" cy="93.4" r="2.2"/><circle cx="462.6" cy="176.8" r="2.2"/><circle cx="534" cy="122.5" r="2.2"/><circle cx="555.2" cy="87.6" r="2.2"/><circle cx="414.7" cy="164.2" r="2.2"/><circle cx="423.8" cy="173.1" r="2.2"/><circle cx="426.6" cy="168.3" r="2.2"/><circle cx="570.6" cy="64.9" r="2.2"/><circle cx="477" cy="169.8" r="2.2"/><circle cx="473.8" cy="170" r="2.2"/><circle cx="436.2" cy="171.8" r="2.2"/><circle cx="517.6" cy="139.3" r="2.2"/><circle cx="446" cy="174.9" r="2.2"/><circle cx="416.4" cy="166.2" r="2.2"/><circle cx="420.1" cy="167.9" r="2.2"/><circle cx="549.2" cy="100.1" r="2.2"/><circle cx="536.2" cy="118.6" r="2.2"/><circle cx="484.2" cy="163.1" r="2.2"/><circle cx="470.6" cy="174.8" r="2.2"/><circle cx="509.3" cy="151.2" r="2.2"/><circle cx="474.7" cy="172.8" r="2.2"/><circle cx="436.2" cy="170.7" r="2.2"/><circle cx="442.7" cy="176" r="2.2"/><circle cx="439" cy="170.7" r="2.2"/><circle cx="554.6" cy="90.3" r="2.2"/><circle cx="438.5" cy="174" r="2.2"/><circle cx="423.2" cy="168.2" r="2.2"/><circle cx="491.9" cy="164.2" r="2.2"/><circle cx="510.2" cy="149.6" r="2.2"/><circle cx="532.5" cy="119.5" r="2.2"/><circle cx="500" cy="152.3" r="2.2"/><circle cx="486.9" cy="160.6" r="2.2"/><circle cx="562.2" cy="79.7" r="2.2"/><circle cx="456.3" cy="173.7" r="2.2"/><circle cx="468.8" cy="168.3" r="2.2"/><circle cx="554.9" cy="88.8" r="2.2"/><circle cx="482.1" cy="164.7" r="2.2"/><circle cx="470.4" cy="168.5" r="2.2"/><circle cx="544.6" cy="107.6" r="2.2"/><circle cx="533.1" cy="118.6" r="2.2"/><circle cx="570" cy="66.6" r="2.2"/><circle cx="552.5" cy="97.1" r="2.2"/><circle cx="524.5" cy="128.8" r="2.2"/><circle cx="567.6" cy="69.1" r="2.2"/><circle cx="411.6" cy="163.7" r="2.2"/><circle cx="490" cy="158.4" r="2.2"/><circle cx="558" cy="87.7" r="2.2"/><circle cx="500.5" cy="157.3" r="2.2"/><circle cx="430.1" cy="172.3" r="2.2"/><circle cx="468.1" cy="172.7" r="2.2"/><circle cx="433.9" cy="174.9" r="2.2"/><circle cx="541.5" cy="111.2" r="2.2"/><circle cx="441.7" cy="177.9" r="2.2"/><circle cx="454.7" cy="175.7" r="2.2"/><circle cx="570" cy="63.9" r="2.2"/><circle cx="520.5" cy="133.4" r="2.2"/><circle cx="459.7" cy="176.7" r="2.2"/><circle cx="447" cy="174.8" r="2.2"/><circle cx="464.6" cy="170.2" r="2.2"/><circle cx="438.8" cy="172.7" r="2.2"/><circle cx="515.8" cy="138.7" r="2.2"/><circle cx="512.1" cy="147.2" r="2.2"/><circle cx="511.8" cy="144.1" r="2.2"/><circle cx="521.2" cy="136.4" r="2.2"/><circle cx="479.8" cy="170.1" r="2.2"/><circle cx="490.5" cy="160.2" r="2.2"/><circle cx="475.3" cy="168.6" r="2.2"/><circle cx="538" cy="118.3" r="2.2"/><circle cx="552.9" cy="96.2" r="2.2"/><circle cx="556.6" cy="86.6" r="2.2"/><circle cx="431.2" cy="173.1" r="2.2"/><circle cx="441.9" cy="175.3" r="2.2"/><circle cx="447.9" cy="176.8" r="2.2"/><circle cx="545.3" cy="102.4" r="2.2"/><circle cx="517.6" cy="137.6" r="2.2"/><circle cx="511.3" cy="141.9" r="2.2"/><circle cx="454" cy="178" r="2.2"/><circle cx="474.4" cy="167.4" r="2.2"/><circle cx="493.8" cy="157.4" r="2.2"/><circle cx="470.2" cy="169.6" r="2.2"/><circle cx="419.1" cy="166.8" r="2.2"/><circle cx="421.5" cy="166.5" r="2.2"/><circle cx="501.9" cy="157.2" r="2.2"/><circle cx="559.9" cy="80.8" r="2.2"/><circle cx="563.6" cy="76.7" r="2.2"/><circle cx="444" cy="173.4" r="2.2"/><circle cx="513.7" cy="146.1" r="2.2"/><circle cx="528.4" cy="128.4" r="2.2"/><circle cx="557" cy="84.8" r="2.2"/><circle cx="523" cy="136.2" r="2.2"/><circle cx="431.8" cy="175.4" r="2.2"/><circle cx="421.6" cy="170.1" r="2.2"/><circle cx="451.9" cy="172.3" r="2.2"/><circle cx="427.9" cy="171.2" r="2.2"/><circle cx="404.6" cy="159.1" r="2.2"/><circle cx="410.5" cy="163" r="2.2"/><circle cx="414.4" cy="164.6" r="2.2"/><circle cx="569.8" cy="64.9" r="2.2"/><circle cx="567.3" cy="65.8" r="2.2"/><circle cx="564.9" cy="72.2" r="2.2"/><circle cx="562.4" cy="76.8" r="2.2"/></g>
<path d="M560.9 80.5L560.8 80.5L560.7 80.5L560.5 80.7L560.3 81L559.9 81.5L559.5 82L559 82.7L558.5 83.5L557.8 84.5L557.1 85.5L556.3 86.7L555.5 87.9L554.6 89.3L553.6 90.7L552.5 92.3L551.4 93.9L550.2 95.6L549 97.4L547.7 99.3L546.3 101.2L544.9 103.2L543.4 105.2L541.9 107.3L540.3 109.4L538.7 111.6L537 113.8L535.2 116L533.5 118.2L531.6 120.4L529.8 122.6L527.9 124.9L526 127.1L524 129.3L522 131.5L520 133.6L517.9 135.7L515.8 137.8L513.7 139.9L511.6 141.9L509.5 143.8L507.4 145.7L505.2 147.6L503 149.4L500.9 151.1L498.7 152.7L496.5 154.3L494.4 155.8L492.2 157.3L490 158.7L487.9 160L485.8 161.2L483.7 162.3L481.6 163.4L479.5 164.4L477.4 165.4L475.4 166.3L473.4 167.1L471.4 167.8L469.5 168.5L467.6 169.1L465.8 169.6L463.9 170.1L462.2 170.5L460.4 170.9L458.7 171.3L457.1 171.6L455.5 171.8L454 172L452.5 172.2L451.1 172.3L449.7 172.4L448.4 172.5L447.2 172.6L446 172.6L444.9 172.7L443.8 172.7L442.8 172.7L441.9 172.7L441.1 172.8L440.3 172.8L439.6 172.8L438.9 172.8L438.4 172.8L437.9 172.9L437.5 172.9L437.1 173L436.9 173.1L436.7 173.2L436.6 173.3L436.5 173.4L436.6 173.5L436.7 173.7L436.9 173.8L437.1 174L437.5 174.2L437.9 174.4L438.4 174.6L438.9 174.8L439.6 175.1L440.3 175.3L441.1 175.5L441.9 175.7L442.8 175.9L443.8 176.2L444.9 176.4L446 176.5L447.2 176.7L448.4 176.8L449.7 177L451.1 177L452.5 177.1L454 177.1L455.5 177.1L457.1 177L458.7 176.9L460.4 176.7L462.2 176.5L463.9 176.2L465.8 175.8L467.6 175.4L469.5 174.9L471.4 174.4L473.4 173.8L475.4 173.1L477.4 172.3L479.5 171.4L481.6 170.5L483.7 169.5L485.8 168.4L487.9 167.2L490 165.9L492.2 164.6L494.4 163.2L496.5 161.7L498.7 160.1L500.9 158.4L503 156.7L505.2 154.9L507.4 153L509.5 151.1L511.6 149.1L513.7 147L515.8 144.9L517.9 142.7L520 140.5L522 138.3L524 136L526 133.7L527.9 131.4L529.8 129L531.6 126.6L533.5 124.3L535.2 121.9L537 119.5L538.7 117.2L540.3 114.9L541.9 112.6L543.4 110.3L544.9 108.1L546.3 105.9L547.7 103.8L549 101.7L550.2 99.7L551.4 97.8L552.5 95.9L553.6 94.2L554.6 92.5L555.5 90.9L556.3 89.4L557.1 88L557.8 86.7L558.5 85.6L559 84.5L559.5 83.6L559.9 82.7L560.3 82L560.5 81.5L560.7 81L560.8 80.7L560.9 80.5Z" stroke="#46075a" stroke-width="1.1" fill="none" stroke-linejoin="round" clip-path="url(#c3)"/>
<path d="M545.6 104.6L545.6 104.5L545.5 104.6L545.3 104.7L545.1 104.9L544.9 105.2L544.6 105.5L544.2 105.9L543.8 106.5L543.3 107.1L542.8 107.7L542.2 108.5L541.5 109.3L540.9 110.2L540.1 111.1L539.3 112.1L538.5 113.2L537.6 114.3L536.6 115.5L535.7 116.7L534.6 117.9L533.6 119.3L532.4 120.6L531.3 122L530.1 123.4L528.8 124.8L527.6 126.3L526.3 127.8L524.9 129.3L523.6 130.8L522.2 132.3L520.7 133.8L519.3 135.3L517.8 136.8L516.3 138.4L514.7 139.9L513.2 141.3L511.6 142.8L510 144.3L508.5 145.7L506.8 147.1L505.2 148.5L503.6 149.8L502 151.1L500.3 152.4L498.7 153.6L497.1 154.8L495.4 156L493.8 157.1L492.2 158.2L490.6 159.3L488.9 160.3L487.4 161.2L485.8 162.1L484.2 163L482.7 163.8L481.1 164.6L479.6 165.3L478.1 166L476.7 166.7L475.2 167.3L473.8 167.9L472.5 168.5L471.1 169L469.8 169.4L468.6 169.9L467.3 170.3L466.1 170.7L465 171L463.8 171.3L462.8 171.6L461.7 171.9L460.8 172.1L459.8 172.4L458.9 172.6L458.1 172.8L457.3 173L456.5 173.1L455.9 173.3L455.2 173.4L454.6 173.6L454.1 173.7L453.6 173.8L453.2 173.9L452.8 174L452.5 174.2L452.3 174.3L452.1 174.4L451.9 174.5L451.8 174.6L451.8 174.7L451.8 174.8L451.9 174.9L452.1 174.9L452.3 175L452.5 175.1L452.8 175.2L453.2 175.3L453.6 175.3L454.1 175.4L454.6 175.5L455.2 175.5L455.9 175.5L456.5 175.6L457.3 175.6L458.1 175.5L458.9 175.5L459.8 175.5L460.8 175.4L461.7 175.3L462.8 175.2L463.8 175L465 174.8L466.1 174.6L467.3 174.4L468.6 174.1L469.8 173.8L471.1 173.4L472.5 173L473.8 172.6L475.2 172.1L476.7 171.6L478.1 171L479.6 170.4L481.1 169.7L482.7 169L484.2 168.3L485.8 167.4L487.4 166.6L488.9 165.7L490.6 164.7L492.2 163.7L493.8 162.6L495.4 161.5L497.1 160.4L498.7 159.2L500.3 157.9L502 156.6L503.6 155.3L505.2 153.9L506.8 152.5L508.5 151.1L510 149.6L511.6 148.1L513.2 146.6L514.7 145.1L516.3 143.5L517.8 141.9L519.3 140.3L520.7 138.7L522.2 137.1L523.6 135.5L524.9 133.9L526.3 132.3L527.6 130.7L528.8 129.1L530.1 127.5L531.3 126L532.4 124.4L533.6 123L534.6 121.5L535.7 120.1L536.6 118.7L537.6 117.4L538.5 116.1L539.3 114.9L540.1 113.7L540.9 112.6L541.5 111.5L542.2 110.5L542.8 109.6L543.3 108.8L543.8 108L544.2 107.3L544.6 106.7L544.9 106.1L545.1 105.6L545.3 105.3L545.5 105L545.6 104.7L545.6 104.6Z" stroke="#3b528b" stroke-width="1.1" fill="none" stroke-linejoin="round" clip-path="url(#c3)"/>
<path d="M533.7 120.9L533.7 120.8L533.6 120.9L533.5 120.9L533.4 121L533.2 121.2L533 121.4L532.7 121.7L532.4 122L532 122.4L531.6 122.9L531.2 123.3L530.7 123.9L530.2 124.4L529.6 125L529 125.7L528.4 126.4L527.7 127.1L527 127.9L526.3 128.7L525.5 129.5L524.7 130.4L523.9 131.3L523 132.2L522.1 133.2L521.2 134.1L520.3 135.1L519.3 136.1L518.3 137.1L517.3 138.2L516.2 139.2L515.1 140.2L514.1 141.3L512.9 142.3L511.8 143.4L510.7 144.4L509.5 145.5L508.4 146.5L507.2 147.5L506 148.5L504.8 149.5L503.6 150.5L502.4 151.5L501.1 152.5L499.9 153.4L498.7 154.3L497.5 155.2L496.3 156.1L495 157L493.8 157.8L492.6 158.6L491.4 159.4L490.2 160.2L489 160.9L487.9 161.6L486.7 162.3L485.6 163L484.5 163.6L483.3 164.2L482.3 164.8L481.2 165.4L480.1 165.9L479.1 166.4L478.1 166.9L477.1 167.3L476.2 167.8L475.3 168.2L474.4 168.6L473.5 168.9L472.7 169.3L471.9 169.6L471.1 169.9L470.4 170.2L469.7 170.5L469 170.8L468.4 171L467.8 171.2L467.2 171.5L466.7 171.7L466.2 171.8L465.8 172L465.4 172.2L465 172.3L464.7 172.5L464.4 172.6L464.2 172.7L464 172.8L463.9 173L463.8 173L463.7 173.1L463.7 173.2L463.7 173.3L463.8 173.3L463.9 173.4L464 173.4L464.2 173.5L464.4 173.5L464.7 173.5L465 173.5L465.4 173.5L465.8 173.4L466.2 173.4L466.7 173.3L467.2 173.3L467.8 173.2L468.4 173.1L469 173L469.7 172.8L470.4 172.7L471.1 172.5L471.9 172.3L472.7 172.1L473.5 171.8L474.4 171.5L475.3 171.3L476.2 170.9L477.1 170.6L478.1 170.2L479.1 169.8L480.1 169.4L481.2 168.9L482.3 168.4L483.3 167.9L484.5 167.4L485.6 166.8L486.7 166.2L487.9 165.6L489 164.9L490.2 164.2L491.4 163.5L492.6 162.7L493.8 161.9L495 161.1L496.3 160.2L497.5 159.4L498.7 158.5L499.9 157.5L501.1 156.6L502.4 155.6L503.6 154.6L504.8 153.6L506 152.6L507.2 151.5L508.4 150.5L509.5 149.4L510.7 148.3L511.8 147.2L512.9 146.1L514.1 145L515.1 143.9L516.2 142.8L517.3 141.7L518.3 140.6L519.3 139.5L520.3 138.4L521.2 137.3L522.1 136.2L523 135.2L523.9 134.2L524.7 133.2L525.5 132.2L526.3 131.3L527 130.3L527.7 129.4L528.4 128.6L529 127.8L529.6 127L530.2 126.2L530.7 125.5L531.2 124.9L531.6 124.3L532 123.7L532.4 123.2L532.7 122.7L533 122.3L533.2 121.9L533.4 121.6L533.5 121.4L533.6 121.1L533.7 121L533.7 120.9Z" stroke="#21918c" stroke-width="1.1" fill="none" stroke-linejoin="round" clip-path="url(#c3)"/>
<path d="M521.8 135L521.8 135L521.8 135L521.7 135L521.6 135.1L521.5 135.2L521.3 135.3L521.2 135.4L520.9 135.6L520.7 135.8L520.5 136.1L520.2 136.3L519.8 136.6L519.5 137L519.1 137.3L518.7 137.7L518.3 138.1L517.9 138.5L517.4 138.9L516.9 139.4L516.4 139.9L515.9 140.4L515.4 140.9L514.8 141.4L514.2 142L513.6 142.6L513 143.1L512.3 143.7L511.6 144.3L511 144.9L510.3 145.6L509.6 146.2L508.8 146.8L508.1 147.4L507.4 148.1L506.6 148.7L505.9 149.4L505.1 150L504.3 150.7L503.5 151.3L502.7 151.9L501.9 152.6L501.1 153.2L500.3 153.8L499.5 154.4L498.7 155L497.9 155.6L497.1 156.2L496.3 156.8L495.5 157.4L494.7 157.9L493.9 158.5L493.1 159L492.3 159.5L491.5 160.1L490.8 160.6L490 161L489.3 161.5L488.6 162L487.8 162.4L487.1 162.8L486.4 163.3L485.8 163.7L485.1 164L484.4 164.4L483.8 164.8L483.2 165.1L482.6 165.5L482 165.8L481.5 166.1L481 166.4L480.5 166.6L480 166.9L479.5 167.2L479.1 167.4L478.7 167.6L478.3 167.8L477.9 168L477.6 168.2L477.2 168.4L476.9 168.6L476.7 168.7L476.5 168.9L476.2 169L476.1 169.1L475.9 169.2L475.8 169.3L475.7 169.4L475.6 169.5L475.6 169.6L475.6 169.6L475.6 169.6L475.6 169.7L475.7 169.7L475.8 169.7L475.9 169.7L476.1 169.7L476.2 169.7L476.5 169.6L476.7 169.6L476.9 169.5L477.2 169.4L477.6 169.3L477.9 169.2L478.3 169.1L478.7 169L479.1 168.8L479.5 168.7L480 168.5L480.5 168.3L481 168.1L481.5 167.9L482 167.7L482.6 167.4L483.2 167.2L483.8 166.9L484.4 166.6L485.1 166.3L485.8 165.9L486.4 165.6L487.1 165.2L487.8 164.8L488.6 164.4L489.3 164L490 163.6L490.8 163.1L491.5 162.7L492.3 162.2L493.1 161.7L493.9 161.2L494.7 160.6L495.5 160.1L496.3 159.5L497.1 158.9L497.9 158.4L498.7 157.8L499.5 157.2L500.3 156.5L501.1 155.9L501.9 155.3L502.7 154.6L503.5 154L504.3 153.3L505.1 152.6L505.9 152L506.6 151.3L507.4 150.6L508.1 149.9L508.8 149.3L509.6 148.6L510.3 147.9L511 147.3L511.6 146.6L512.3 145.9L513 145.3L513.6 144.6L514.2 144L514.8 143.4L515.4 142.8L515.9 142.2L516.4 141.6L516.9 141.1L517.4 140.5L517.9 140L518.3 139.5L518.7 139L519.1 138.6L519.5 138.2L519.8 137.8L520.2 137.4L520.5 137L520.7 136.7L520.9 136.4L521.2 136.1L521.3 135.9L521.5 135.7L521.6 135.5L521.7 135.3L521.8 135.2L521.8 135.1L521.8 135Z" stroke="#5ec962" stroke-width="1.1" fill="none" stroke-linejoin="round" clip-path="url(#c3)"/>
<path d="M449.7 197v3M547.7 197v3" stroke="#8e8e8e" stroke-width="0.8" fill="none"/>
<text class="tk" x="449.7" y="215.4" text-anchor="middle">0</text>
<text class="tk" x="547.7" y="215.4" text-anchor="middle">2</text>
<path d="M389.2 174.7h-3M389.2 138.1h-3M389.2 101.5h-3M389.2 64.9h-3" stroke="#8e8e8e" stroke-width="0.8" fill="none"/>
<text class="tk" x="383.7" y="180.7" text-anchor="end">0</text>
<text class="tk" x="383.7" y="144.1" text-anchor="end">2</text>
<text class="tk" x="383.7" y="107.5" text-anchor="end">4</text>
<text class="tk" x="383.7" y="70.9" text-anchor="end">6</text>
<text class="th" x="493.5" y="232.5" text-anchor="middle"><tspan font-style="italic">θ</tspan><tspan font-size="11" dy="3.4">1</tspan></text>
<text class="th" x="366" y="130.5" text-anchor="middle" transform="rotate(-90 366 126)"><tspan font-style="italic">θ</tspan><tspan font-size="11" dy="3.4">2</tspan></text>
<clipPath id="c4"><rect x="623" y="55.1" width="54.6" height="141.9"/></clipPath>
<rect x="623" y="55.1" width="54.6" height="141.9" fill="#e8e8e8"/>
<path d="M625 55.1V197M674.5 55.1V197M623 174.7H677.6M623 138.1H677.6M623 101.5H677.6M623 64.9H677.6" stroke="#ffffff" stroke-width="0.85" fill="none"/>
<path d="M625.2 53.8L625.2 55.3L625.2 56.8L625.2 58.3L625.2 59.8L625.3 61.2L625.3 62.7L625.4 64.2L625.5 65.7L625.5 67.2L625.6 68.7L625.7 70.2L625.8 71.7L625.9 73.2L626 74.7L626.1 76.2L626.2 77.6L626.3 79.1L626.4 80.6L626.5 82.1L626.6 83.6L626.7 85.1L626.8 86.6L627 88.1L627.1 89.5L627.3 91L627.4 92.5L627.6 94L627.8 95.5L628.1 97L628.3 98.4L628.6 99.9L628.9 101.4L629.3 102.8L629.6 104.2L630 105.7L630.4 107.1L630.8 108.6L631.2 110L631.5 111.5L631.8 112.9L632.1 114.4L632.3 115.9L632.6 117.3L632.9 118.8L633.3 120.3L633.7 121.7L634.2 123.1L634.6 124.5L635.1 125.9L635.6 127.3L636.1 128.7L636.7 130.1L637.3 131.5L638 132.8L638.7 134.1L639.6 135.3L640.5 136.5L641.5 137.7L642.4 138.8L643.5 140L644.5 141.1L645.5 142.1L646.6 143.2L647.6 144.2L648.7 145.3L649.8 146.3L650.9 147.3L652 148.3L653.1 149.2L654.3 150.2L655.4 151.2L656.6 152.1L657.7 153.1L658.9 154L660 155L661.2 155.9L662.3 156.9L663.4 157.9L664.6 158.9L665.7 159.9L666.8 160.9L668 161.9L669.1 162.8L670.2 163.8L671.3 164.8L672.4 165.7L673.5 166.7L674.5 167.8L675.4 169.1L675.2 170.5L674 171.7L672.6 172.6L671.3 173.4L669.8 173.9L668.4 174.4L667 174.7L665.5 174.9L664.1 175L662.6 175.2L661.1 175.4L659.7 175.6L658.2 175.9L656.7 176.2L655.3 176.5L653.8 176.8L652.3 177.1L650.9 177.5L649.4 177.8L648 178.1L646.5 178.5L645 178.8L643.6 179.1L642.1 179.4L640.7 179.7L639.2 179.9L637.7 180.2L636.2 180.4L634.7 180.6L633.3 180.9L631.8 181.3L630.4 181.8L629.1 182.5L627.8 183.4L626.8 184.5L626 185.7L625.6 187.2L625.3 188.6L625.1 190.2L625 191.7L625 193.2L625 194.7L625 196.1L625.1 197.6" stroke="#2b50a8" stroke-width="1.35" fill="none" stroke-linejoin="round" clip-path="url(#c4)"/>
<path d="M625 197v3M674.5 197v3" stroke="#8e8e8e" stroke-width="0.8" fill="none"/>
<text class="tk" x="625" y="215.4" text-anchor="middle">0.0</text>
<text class="tk" x="674.5" y="215.4" text-anchor="middle">0.5</text>
<text class="cap" x="475.5" y="265" textLength="89.5" lengthAdjust="spacingAndGlyphs">(b) MFNUTS</text>
<clipPath id="c5"><rect x="30.3" y="287.9" width="212.4" height="31.1"/></clipPath>
<rect x="30.3" y="287.9" width="212.4" height="31.1" fill="#e8e8e8"/>
<path d="M91.5 287.9V319M191.7 287.9V319M30.3 317.7H242.7M30.3 296.6H242.7" stroke="#ffffff" stroke-width="0.85" fill="none"/>
<path d="M30.4 317.4L31.9 317.3L33.4 317.2L34.9 317.2L36.4 317.2L37.9 317.3L39.4 317.4L40.9 317.5L42.4 317.7L43.9 317.8L45.4 317.9L46.9 317.9L48.4 317.8L49.8 317.8L51.3 317.6L52.8 317.5L54.3 317.3L55.8 317.2L57.3 317.1L58.8 317L60.3 316.9L61.8 316.8L63.3 316.6L64.8 316.5L66.3 316.3L67.8 316L69.2 315.7L70.7 315.2L72.1 314.7L73.4 314.1L74.7 313.3L76 312.6L77.3 311.9L78.7 311.2L80 310.5L81.4 310L82.9 309.5L84.3 309.2L85.8 308.9L87.3 308.8L88.8 308.7L90.3 308.7L91.8 308.5L93.2 308.1L94.6 307.5L95.9 306.8L97.2 306.1L98.6 305.4L100 304.8L101.4 304.3L102.8 303.8L104.2 303.3L105.6 302.7L106.9 302L108.2 301.1L109.3 300.2L110.5 299.2L111.7 298.2L112.9 297.3L114.2 296.6L115.5 296L117 295.8L118.5 295.7L120 295.7L121.6 295.8L123.1 295.8L124.5 295.5L125.9 295L127.2 294.3L128.4 293.4L129.7 292.4L130.9 291.5L132.1 290.6L133.4 289.9L134.8 289.4L136.3 289.1L137.8 289.2L139.2 289.7L140.5 290.5L141.6 291.4L142.7 292.5L143.7 293.6L144.8 294.6L145.8 295.7L146.9 296.7L148.1 297.8L149.4 298.6L150.7 299L152.2 298.9L153.7 298.4L155.2 297.7L156.6 297.1L158 296.6L159.4 296.5L160.8 296.9L162.1 297.5L163.5 298.2L165 298.9L166.4 299.3L167.9 299.6L169.4 299.9L170.8 300.3L172.1 300.8L173.4 301.6L174.6 302.5L175.9 303.4L177.1 304.3L178.4 305.2L179.7 306L181 306.6L182.5 307L183.9 307.1L185.4 307.1L187 307.1L188.5 307.1L189.9 307.4L191.3 307.9L192.7 308.5L194 309.4L195.2 310.3L196.4 311.2L197.6 312.1L198.7 313L199.9 313.9L201.2 314.7L202.5 315.4L203.9 316.1L205.3 316.6L206.7 317.1L208.2 317.5L209.6 317.7L211.1 317.8L212.6 317.9L214.1 317.9L215.6 317.9L217.1 317.9L218.6 317.9L220.1 317.9L221.6 317.9L223.1 317.9L224.6 317.9L226.1 317.9L227.6 317.9L229.1 317.9L230.6 317.9L232.1 317.9L233.6 317.9L235.1 317.9L236.6 317.9L238.1 317.9L239.6 317.9L241.1 317.9L242.6 317.9" stroke="#2b50a8" stroke-width="1.35" fill="none" stroke-linejoin="round" clip-path="url(#c5)"/>
<path d="M30.3 317.7h-3M30.3 296.6h-3" stroke="#8e8e8e" stroke-width="0.8" fill="none"/>
<text class="tk" x="24.8" y="323.7" text-anchor="end">0.0</text>
<text class="tk" x="24.8" y="302.6" text-anchor="end">0.5</text>
<clipPath id="c6"><rect x="30.3" y="343.3" width="212.4" height="141.7"/></clipPath>
<rect x="30.3" y="343.3" width="212.4" height="141.7" fill="#e8e8e8"/>
<path d="M91.5 343.3V485M191.7 343.3V485M30.3 462.7H242.7M30.3 425.9H242.7M30.3 389.1H242.7M30.3 352.3H242.7" stroke="#ffffff" stroke-width="0.85" fill="none"/>
<g class="dots" fill="#264eb0" stroke="#03061c" stroke-width="0.75" clip-path="url(#c6)"><circle cx="121.1" cy="458.8" r="2.2"/><circle cx="120.8" cy="457.6" r="2.2"/><circle cx="127.1" cy="455.9" r="2.2"/><circle cx="142.7" cy="444" r="2.2"/><circle cx="156" cy="433.4" r="2.2"/><circle cx="80.7" cy="464" r="2.2"/><circle cx="187.8" cy="394.8" r="2.2"/><circle cx="123.2" cy="453.6" r="2.2"/><circle cx="78.6" cy="460.2" r="2.2"/><circle cx="134.3" cy="449.9" r="2.2"/><circle cx="144.3" cy="442.4" r="2.2"/><circle cx="181.4" cy="405.6" r="2.2"/><circle cx="206.7" cy="366" r="2.2"/><circle cx="129.8" cy="450.9" r="2.2"/><circle cx="134.8" cy="447.8" r="2.2"/><circle cx="157.7" cy="428.3" r="2.2"/><circle cx="136.1" cy="451" r="2.2"/><circle cx="164.2" cy="421.2" r="2.2"/><circle cx="109.2" cy="459.9" r="2.2"/><circle cx="77.1" cy="461.3" r="2.2"/><circle cx="154.7" cy="431.4" r="2.2"/><circle cx="158.8" cy="429.8" r="2.2"/><circle cx="113.5" cy="461.3" r="2.2"/><circle cx="159.5" cy="428.4" r="2.2"/><circle cx="158.2" cy="431.2" r="2.2"/><circle cx="112.5" cy="459.7" r="2.2"/><circle cx="146.9" cy="439.4" r="2.2"/><circle cx="115.3" cy="457.3" r="2.2"/><circle cx="106.1" cy="460.1" r="2.2"/><circle cx="96.2" cy="461" r="2.2"/><circle cx="133.2" cy="453" r="2.2"/><circle cx="109.2" cy="458.5" r="2.2"/><circle cx="79.8" cy="463.4" r="2.2"/><circle cx="90.1" cy="463.6" r="2.2"/><circle cx="159.3" cy="431.2" r="2.2"/><circle cx="115.6" cy="460.5" r="2.2"/><circle cx="93.7" cy="463.9" r="2.2"/><circle cx="113.1" cy="456.8" r="2.2"/><circle cx="100.4" cy="466.4" r="2.2"/><circle cx="128.3" cy="456" r="2.2"/><circle cx="128.7" cy="451" r="2.2"/><circle cx="78.8" cy="462.4" r="2.2"/><circle cx="76.9" cy="459.9" r="2.2"/><circle cx="168.9" cy="419.8" r="2.2"/><circle cx="178" cy="406.7" r="2.2"/><circle cx="110.8" cy="461.4" r="2.2"/><circle cx="162.5" cy="427" r="2.2"/><circle cx="55.7" cy="453.1" r="2.2"/><circle cx="163.9" cy="427" r="2.2"/><circle cx="98.2" cy="460.8" r="2.2"/><circle cx="115" cy="455.3" r="2.2"/><circle cx="117.5" cy="459.1" r="2.2"/><circle cx="99" cy="463.4" r="2.2"/><circle cx="147" cy="442.1" r="2.2"/><circle cx="117" cy="458.1" r="2.2"/><circle cx="156.5" cy="430" r="2.2"/><circle cx="135.8" cy="448.6" r="2.2"/><circle cx="129.3" cy="452.4" r="2.2"/><circle cx="190.4" cy="397.1" r="2.2"/><circle cx="173" cy="413.6" r="2.2"/><circle cx="100.5" cy="464.5" r="2.2"/><circle cx="179.3" cy="406.8" r="2.2"/><circle cx="161.2" cy="426.6" r="2.2"/><circle cx="177.7" cy="408.1" r="2.2"/><circle cx="152.2" cy="434.5" r="2.2"/><circle cx="86.6" cy="459.9" r="2.2"/><circle cx="128" cy="457.2" r="2.2"/><circle cx="68" cy="461.7" r="2.2"/><circle cx="98.1" cy="459.5" r="2.2"/><circle cx="118.6" cy="456.6" r="2.2"/><circle cx="176.1" cy="411.7" r="2.2"/><circle cx="140.2" cy="446" r="2.2"/><circle cx="145.3" cy="441.6" r="2.2"/><circle cx="97.4" cy="462.6" r="2.2"/><circle cx="145.4" cy="444" r="2.2"/><circle cx="110.8" cy="457.4" r="2.2"/><circle cx="122.2" cy="455.1" r="2.2"/><circle cx="131.8" cy="451.8" r="2.2"/><circle cx="156.7" cy="434.1" r="2.2"/><circle cx="180.6" cy="404.7" r="2.2"/><circle cx="132.4" cy="446.3" r="2.2"/><circle cx="191.6" cy="385.8" r="2.2"/><circle cx="191.8" cy="389.8" r="2.2"/><circle cx="128.4" cy="454.6" r="2.2"/><circle cx="147.8" cy="440.9" r="2.2"/><circle cx="114.2" cy="458.2" r="2.2"/><circle cx="124" cy="452.9" r="2.2"/><circle cx="101.8" cy="462.4" r="2.2"/><circle cx="150.6" cy="437.1" r="2.2"/><circle cx="143.2" cy="439" r="2.2"/><circle cx="150" cy="442.5" r="2.2"/><circle cx="121.8" cy="452.6" r="2.2"/><circle cx="179.7" cy="403.4" r="2.2"/><circle cx="117" cy="457" r="2.2"/><circle cx="154.5" cy="432.5" r="2.2"/><circle cx="112" cy="460.8" r="2.2"/><circle cx="161.2" cy="432.5" r="2.2"/><circle cx="118.1" cy="457.9" r="2.2"/><circle cx="116.3" cy="456" r="2.2"/><circle cx="136.7" cy="447.3" r="2.2"/><circle cx="134.8" cy="452.5" r="2.2"/><circle cx="103.2" cy="461.5" r="2.2"/><circle cx="93.3" cy="460.9" r="2.2"/><circle cx="191.9" cy="391.1" r="2.2"/><circle cx="127.5" cy="449.9" r="2.2"/><circle cx="185.4" cy="399.7" r="2.2"/><circle cx="148.4" cy="436.7" r="2.2"/><circle cx="122.1" cy="459.7" r="2.2"/><circle cx="171.4" cy="414.8" r="2.2"/><circle cx="129.2" cy="448" r="2.2"/><circle cx="164.9" cy="422.4" r="2.2"/><circle cx="158" cy="432.3" r="2.2"/><circle cx="190.2" cy="391.8" r="2.2"/><circle cx="168.5" cy="421" r="2.2"/><circle cx="138.5" cy="441.3" r="2.2"/><circle cx="107.6" cy="459.8" r="2.2"/><circle cx="130" cy="456.2" r="2.2"/><circle cx="184.4" cy="398.7" r="2.2"/><circle cx="125.8" cy="456" r="2.2"/><circle cx="71" cy="460.8" r="2.2"/><circle cx="163.1" cy="421.9" r="2.2"/><circle cx="160.2" cy="429.5" r="2.2"/><circle cx="99.7" cy="460.5" r="2.2"/><circle cx="134.2" cy="451.3" r="2.2"/><circle cx="148.3" cy="439.4" r="2.2"/><circle cx="162.9" cy="426" r="2.2"/><circle cx="142.5" cy="441.1" r="2.2"/><circle cx="181.2" cy="406.7" r="2.2"/><circle cx="141.2" cy="446.4" r="2.2"/><circle cx="186.6" cy="396.9" r="2.2"/><circle cx="176.4" cy="409.6" r="2.2"/><circle cx="120.5" cy="456.5" r="2.2"/><circle cx="119.4" cy="459.4" r="2.2"/><circle cx="141.1" cy="448.7" r="2.2"/><circle cx="98.2" cy="461.9" r="2.2"/><circle cx="91.1" cy="462.4" r="2.2"/><circle cx="92.1" cy="465.1" r="2.2"/><circle cx="81.7" cy="460.6" r="2.2"/><circle cx="192.4" cy="387.6" r="2.2"/><circle cx="100.4" cy="463.1" r="2.2"/><circle cx="148.7" cy="437.7" r="2.2"/><circle cx="140.4" cy="442.6" r="2.2"/><circle cx="169.6" cy="418.6" r="2.2"/><circle cx="152.4" cy="433.3" r="2.2"/><circle cx="122.1" cy="458" r="2.2"/><circle cx="133.4" cy="450.6" r="2.2"/><circle cx="167.2" cy="418.3" r="2.2"/><circle cx="157.6" cy="427.2" r="2.2"/><circle cx="88.7" cy="461.5" r="2.2"/><circle cx="118.3" cy="455.5" r="2.2"/><circle cx="122.6" cy="456.7" r="2.2"/><circle cx="170.7" cy="417.2" r="2.2"/><circle cx="193.4" cy="385.9" r="2.2"/><circle cx="138.7" cy="445.4" r="2.2"/><circle cx="124.5" cy="456.4" r="2.2"/><circle cx="81.8" cy="462.8" r="2.2"/><circle cx="97.2" cy="464.2" r="2.2"/><circle cx="104.2" cy="459.2" r="2.2"/><circle cx="138.5" cy="447" r="2.2"/><circle cx="127.3" cy="453.8" r="2.2"/><circle cx="197.8" cy="379.6" r="2.2"/><circle cx="102.3" cy="460.1" r="2.2"/><circle cx="114.4" cy="460.1" r="2.2"/><circle cx="85.4" cy="460.8" r="2.2"/><circle cx="152.4" cy="436.3" r="2.2"/><circle cx="80.3" cy="462.1" r="2.2"/><circle cx="167.5" cy="420.7" r="2.2"/><circle cx="149.4" cy="438.9" r="2.2"/><circle cx="178.7" cy="410.3" r="2.2"/><circle cx="110.7" cy="459.6" r="2.2"/><circle cx="165.7" cy="419.9" r="2.2"/><circle cx="88.9" cy="463.1" r="2.2"/><circle cx="80.7" cy="460.5" r="2.2"/><circle cx="156" cy="431.9" r="2.2"/><circle cx="130.9" cy="449.5" r="2.2"/><circle cx="90.1" cy="465.4" r="2.2"/><circle cx="83.2" cy="463.3" r="2.2"/><circle cx="124.5" cy="454.3" r="2.2"/><circle cx="192.3" cy="388.9" r="2.2"/><circle cx="141.7" cy="444.5" r="2.2"/><circle cx="119.8" cy="455.7" r="2.2"/><circle cx="189.1" cy="392.2" r="2.2"/><circle cx="133.5" cy="448" r="2.2"/><circle cx="104.6" cy="458" r="2.2"/><circle cx="154.8" cy="430.2" r="2.2"/><circle cx="173.7" cy="411.1" r="2.2"/><circle cx="194.5" cy="383.6" r="2.2"/><circle cx="174.9" cy="412.3" r="2.2"/><circle cx="159.4" cy="427.3" r="2.2"/><circle cx="138.7" cy="448.8" r="2.2"/><circle cx="137.6" cy="443.4" r="2.2"/><circle cx="176.6" cy="407.2" r="2.2"/><circle cx="54.3" cy="450.7" r="2.2"/><circle cx="144.7" cy="439.4" r="2.2"/><circle cx="185.6" cy="395.3" r="2.2"/><circle cx="113.5" cy="462.7" r="2.2"/><circle cx="138.7" cy="444.2" r="2.2"/><circle cx="96" cy="462.9" r="2.2"/><circle cx="182.6" cy="402.4" r="2.2"/><circle cx="153.6" cy="433.5" r="2.2"/><circle cx="138.4" cy="442.7" r="2.2"/><circle cx="172.2" cy="416" r="2.2"/><circle cx="131.1" cy="453.4" r="2.2"/><circle cx="100.9" cy="460.7" r="2.2"/><circle cx="199.7" cy="378.5" r="2.2"/><circle cx="190" cy="393.1" r="2.2"/><circle cx="117.3" cy="461.7" r="2.2"/><circle cx="167.1" cy="421.7" r="2.2"/><circle cx="109.9" cy="462.5" r="2.2"/><circle cx="126.7" cy="452.9" r="2.2"/><circle cx="87" cy="464.1" r="2.2"/><circle cx="138.1" cy="450.8" r="2.2"/><circle cx="83.5" cy="460" r="2.2"/><circle cx="144" cy="444.5" r="2.2"/><circle cx="200.1" cy="376.5" r="2.2"/><circle cx="108.6" cy="461.4" r="2.2"/><circle cx="95.8" cy="465.8" r="2.2"/><circle cx="151.1" cy="438.3" r="2.2"/><circle cx="181.6" cy="404.1" r="2.2"/><circle cx="129.9" cy="454.2" r="2.2"/><circle cx="89.3" cy="459.9" r="2.2"/><circle cx="144.9" cy="445.9" r="2.2"/><circle cx="132.6" cy="449.2" r="2.2"/><circle cx="112" cy="458" r="2.2"/><circle cx="162.9" cy="424.8" r="2.2"/><circle cx="175.9" cy="413.1" r="2.2"/><circle cx="187.1" cy="396" r="2.2"/><circle cx="158.7" cy="426" r="2.2"/><circle cx="73" cy="460.2" r="2.2"/><circle cx="162" cy="429.1" r="2.2"/><circle cx="195.8" cy="381" r="2.2"/><circle cx="76.4" cy="457.9" r="2.2"/><circle cx="181.9" cy="400.7" r="2.2"/><circle cx="164" cy="424.2" r="2.2"/><circle cx="105.8" cy="461.2" r="2.2"/><circle cx="180.6" cy="408.3" r="2.2"/><circle cx="195.4" cy="383" r="2.2"/><circle cx="143.2" cy="442.9" r="2.2"/><circle cx="123.9" cy="457.3" r="2.2"/><circle cx="126.3" cy="454.5" r="2.2"/><circle cx="175.5" cy="406.7" r="2.2"/><circle cx="90.1" cy="460.7" r="2.2"/><circle cx="106.2" cy="458.8" r="2.2"/><circle cx="160" cy="425.1" r="2.2"/><circle cx="111.7" cy="457" r="2.2"/><circle cx="89.9" cy="458.8" r="2.2"/><circle cx="169.7" cy="415.5" r="2.2"/><circle cx="134.7" cy="444.7" r="2.2"/><circle cx="141.7" cy="443" r="2.2"/><circle cx="135.3" cy="446.9" r="2.2"/><circle cx="91.6" cy="464.2" r="2.2"/><circle cx="119.4" cy="458" r="2.2"/><circle cx="175.4" cy="409.9" r="2.2"/><circle cx="143.9" cy="441.3" r="2.2"/><circle cx="84.5" cy="463.9" r="2.2"/><circle cx="139.5" cy="447.7" r="2.2"/><circle cx="107.2" cy="461.5" r="2.2"/><circle cx="164.5" cy="425.2" r="2.2"/><circle cx="69.7" cy="460.8" r="2.2"/><circle cx="97" cy="461.5" r="2.2"/><circle cx="103.9" cy="464.9" r="2.2"/><circle cx="182.9" cy="401.3" r="2.2"/><circle cx="174.9" cy="411.1" r="2.2"/><circle cx="129.1" cy="449.8" r="2.2"/><circle cx="165.5" cy="423.8" r="2.2"/><circle cx="155.1" cy="435" r="2.2"/><circle cx="197.1" cy="382.3" r="2.2"/><circle cx="102.8" cy="463.6" r="2.2"/><circle cx="150" cy="436" r="2.2"/><circle cx="167.2" cy="419.3" r="2.2"/><circle cx="92.7" cy="463" r="2.2"/><circle cx="108" cy="463.8" r="2.2"/><circle cx="135.3" cy="450.5" r="2.2"/><circle cx="143" cy="447.1" r="2.2"/><circle cx="78.7" cy="455" r="2.2"/><circle cx="109.5" cy="456.6" r="2.2"/><circle cx="133" cy="451.7" r="2.2"/><circle cx="154.1" cy="435.6" r="2.2"/><circle cx="181.1" cy="401.4" r="2.2"/><circle cx="126.6" cy="451.6" r="2.2"/><circle cx="77.4" cy="458" r="2.2"/><circle cx="151" cy="435.9" r="2.2"/><circle cx="131.2" cy="450.8" r="2.2"/><circle cx="71.6" cy="462.6" r="2.2"/><circle cx="88" cy="463.8" r="2.2"/><circle cx="132.1" cy="448.3" r="2.2"/><circle cx="123.2" cy="454.9" r="2.2"/><circle cx="136.7" cy="446" r="2.2"/><circle cx="179.4" cy="404.4" r="2.2"/><circle cx="197.3" cy="384.1" r="2.2"/><circle cx="122.9" cy="461.5" r="2.2"/><circle cx="172.8" cy="415.3" r="2.2"/><circle cx="137.1" cy="448.8" r="2.2"/><circle cx="62.3" cy="456.5" r="2.2"/><circle cx="94.1" cy="460.1" r="2.2"/><circle cx="161" cy="428.1" r="2.2"/><circle cx="140.1" cy="444.4" r="2.2"/><circle cx="166.2" cy="422.9" r="2.2"/><circle cx="71.4" cy="457.9" r="2.2"/><circle cx="155.2" cy="436.6" r="2.2"/><circle cx="153.2" cy="434.6" r="2.2"/><circle cx="175.9" cy="414.2" r="2.2"/><circle cx="115.7" cy="458.4" r="2.2"/><circle cx="169.8" cy="414" r="2.2"/><circle cx="83.8" cy="462" r="2.2"/><circle cx="181.7" cy="399.3" r="2.2"/><circle cx="112.6" cy="464.8" r="2.2"/><circle cx="116.4" cy="462.2" r="2.2"/><circle cx="177.7" cy="403.7" r="2.2"/><circle cx="188.9" cy="395.6" r="2.2"/><circle cx="181.6" cy="402.5" r="2.2"/><circle cx="64.7" cy="454.6" r="2.2"/><circle cx="95" cy="464.1" r="2.2"/><circle cx="173.2" cy="409.9" r="2.2"/><circle cx="179.1" cy="408.7" r="2.2"/><circle cx="171.5" cy="418.6" r="2.2"/><circle cx="152.1" cy="437.6" r="2.2"/><circle cx="127.3" cy="450.9" r="2.2"/><circle cx="149" cy="441.3" r="2.2"/><circle cx="150.9" cy="434.6" r="2.2"/><circle cx="153.1" cy="432.3" r="2.2"/><circle cx="66" cy="457" r="2.2"/><circle cx="148.6" cy="433.6" r="2.2"/><circle cx="196.2" cy="379.9" r="2.2"/><circle cx="128.2" cy="453.3" r="2.2"/><circle cx="123.5" cy="456" r="2.2"/><circle cx="128.3" cy="449" r="2.2"/><circle cx="203.2" cy="372.6" r="2.2"/><circle cx="195.3" cy="386.4" r="2.2"/><circle cx="166.8" cy="423.8" r="2.2"/><circle cx="94.9" cy="461.3" r="2.2"/><circle cx="150.8" cy="439.5" r="2.2"/><circle cx="146.8" cy="438.3" r="2.2"/><circle cx="157" cy="435.1" r="2.2"/><circle cx="98.2" cy="464.6" r="2.2"/><circle cx="93.6" cy="462.2" r="2.2"/><circle cx="106.1" cy="457.7" r="2.2"/><circle cx="91.5" cy="460.5" r="2.2"/><circle cx="86.4" cy="465.2" r="2.2"/><circle cx="79.4" cy="465.1" r="2.2"/><circle cx="86.9" cy="461.7" r="2.2"/><circle cx="173.2" cy="412.4" r="2.2"/><circle cx="99.7" cy="462.3" r="2.2"/><circle cx="142.7" cy="445.8" r="2.2"/><circle cx="110.5" cy="458.6" r="2.2"/><circle cx="168" cy="415.7" r="2.2"/><circle cx="143.4" cy="448.3" r="2.2"/><circle cx="82.4" cy="467.1" r="2.2"/><circle cx="96.5" cy="459.4" r="2.2"/><circle cx="153.5" cy="436.4" r="2.2"/><circle cx="105.6" cy="462.9" r="2.2"/><circle cx="74.2" cy="458.8" r="2.2"/><circle cx="121" cy="454.5" r="2.2"/><circle cx="132.2" cy="450.4" r="2.2"/><circle cx="136.6" cy="444.4" r="2.2"/><circle cx="161" cy="423.9" r="2.2"/><circle cx="182.4" cy="397.8" r="2.2"/><circle cx="191" cy="386.8" r="2.2"/><circle cx="187.3" cy="398.4" r="2.2"/><circle cx="113.6" cy="459" r="2.2"/><circle cx="148.2" cy="442" r="2.2"/><circle cx="156.4" cy="428.2" r="2.2"/><circle cx="153.9" cy="429.6" r="2.2"/><circle cx="67" cy="462.4" r="2.2"/><circle cx="67.5" cy="460.5" r="2.2"/><circle cx="126.3" cy="457.3" r="2.2"/><circle cx="188.5" cy="393.4" r="2.2"/><circle cx="165.6" cy="421.4" r="2.2"/><circle cx="169.3" cy="416.9" r="2.2"/><circle cx="151.3" cy="433.3" r="2.2"/><circle cx="133.8" cy="446.6" r="2.2"/><circle cx="125" cy="457.6" r="2.2"/><circle cx="125" cy="453.3" r="2.2"/><circle cx="108.4" cy="462.9" r="2.2"/><circle cx="131.9" cy="454.4" r="2.2"/><circle cx="188.3" cy="391.3" r="2.2"/><circle cx="174.1" cy="413.8" r="2.2"/><circle cx="84.5" cy="459.3" r="2.2"/><circle cx="111.5" cy="463.6" r="2.2"/><circle cx="119.7" cy="454.1" r="2.2"/><circle cx="85.8" cy="464.3" r="2.2"/><circle cx="177.4" cy="409.1" r="2.2"/><circle cx="81.9" cy="465.8" r="2.2"/><circle cx="62" cy="454" r="2.2"/><circle cx="76.4" cy="462.9" r="2.2"/><circle cx="101.5" cy="464.6" r="2.2"/><circle cx="70.2" cy="459.2" r="2.2"/><circle cx="182.8" cy="399.3" r="2.2"/><circle cx="67.9" cy="457.7" r="2.2"/><circle cx="66.7" cy="459.4" r="2.2"/><circle cx="127.8" cy="452.3" r="2.2"/><circle cx="184.4" cy="397.6" r="2.2"/><circle cx="146.1" cy="437.2" r="2.2"/><circle cx="55.1" cy="455.1" r="2.2"/><circle cx="106.7" cy="464.3" r="2.2"/><circle cx="157.6" cy="430" r="2.2"/><circle cx="82.8" cy="460.9" r="2.2"/><circle cx="82.1" cy="463.8" r="2.2"/><circle cx="131.3" cy="447.3" r="2.2"/><circle cx="173.1" cy="416.7" r="2.2"/><circle cx="151.2" cy="441.3" r="2.2"/><circle cx="125.8" cy="450.6" r="2.2"/><circle cx="140" cy="449" r="2.2"/><circle cx="107.3" cy="458.5" r="2.2"/><circle cx="171.9" cy="412.9" r="2.2"/><circle cx="147.6" cy="435.6" r="2.2"/><circle cx="144.7" cy="440.6" r="2.2"/><circle cx="162" cy="424.2" r="2.2"/><circle cx="146.6" cy="440.4" r="2.2"/><circle cx="104.2" cy="462.4" r="2.2"/><circle cx="60.5" cy="454.6" r="2.2"/><circle cx="80" cy="459.4" r="2.2"/><circle cx="178.4" cy="405.2" r="2.2"/><circle cx="142.6" cy="449.3" r="2.2"/><circle cx="118.3" cy="460.5" r="2.2"/><circle cx="101.5" cy="463.5" r="2.2"/><circle cx="163.3" cy="423.3" r="2.2"/><circle cx="121.6" cy="456.7" r="2.2"/><circle cx="116.2" cy="459.6" r="2.2"/><circle cx="145.7" cy="447.1" r="2.2"/><circle cx="145.5" cy="442.6" r="2.2"/><circle cx="100.1" cy="465.4" r="2.2"/><circle cx="204.9" cy="369.8" r="2.2"/><circle cx="101.3" cy="459.3" r="2.2"/><circle cx="134.4" cy="448.9" r="2.2"/><circle cx="93.5" cy="465.1" r="2.2"/><circle cx="168.2" cy="417.4" r="2.2"/><circle cx="202.4" cy="373.5" r="2.2"/><circle cx="65.6" cy="458.5" r="2.2"/><circle cx="150" cy="433.1" r="2.2"/><circle cx="78.8" cy="463.8" r="2.2"/><circle cx="110.1" cy="464" r="2.2"/><circle cx="183.2" cy="405.1" r="2.2"/><circle cx="193.6" cy="388.1" r="2.2"/><circle cx="199.6" cy="379.7" r="2.2"/><circle cx="84.4" cy="456.4" r="2.2"/><circle cx="175.8" cy="408.5" r="2.2"/><circle cx="102.4" cy="457.9" r="2.2"/><circle cx="94.7" cy="466.3" r="2.2"/><circle cx="173.5" cy="408.3" r="2.2"/><circle cx="197.6" cy="377.4" r="2.2"/><circle cx="176.8" cy="410.5" r="2.2"/><circle cx="88" cy="462.6" r="2.2"/><circle cx="161.7" cy="425.5" r="2.2"/><circle cx="116.8" cy="455" r="2.2"/><circle cx="93.5" cy="458.8" r="2.2"/><circle cx="104" cy="460.7" r="2.2"/><circle cx="64.9" cy="455.8" r="2.2"/><circle cx="164.9" cy="426.1" r="2.2"/><circle cx="61.2" cy="456.2" r="2.2"/><circle cx="112.7" cy="463.4" r="2.2"/><circle cx="158.1" cy="434.1" r="2.2"/><circle cx="148.7" cy="440.3" r="2.2"/><circle cx="186.1" cy="398.1" r="2.2"/><circle cx="86.7" cy="466.5" r="2.2"/><circle cx="62.6" cy="452.9" r="2.2"/><circle cx="130.5" cy="451.8" r="2.2"/><circle cx="87.6" cy="465.4" r="2.2"/><circle cx="162.4" cy="428" r="2.2"/><circle cx="71.5" cy="456.6" r="2.2"/><circle cx="180.3" cy="406.2" r="2.2"/><circle cx="72.9" cy="461.7" r="2.2"/><circle cx="129.3" cy="455.1" r="2.2"/><circle cx="164.1" cy="428.1" r="2.2"/><circle cx="125.5" cy="452.3" r="2.2"/><circle cx="148.1" cy="434.4" r="2.2"/><circle cx="79.9" cy="458.1" r="2.2"/><circle cx="194" cy="386.8" r="2.2"/><circle cx="137.9" cy="448" r="2.2"/><circle cx="66" cy="455.1" r="2.2"/><circle cx="148.7" cy="442.9" r="2.2"/><circle cx="115.5" cy="463" r="2.2"/><circle cx="159" cy="432.2" r="2.2"/><circle cx="72.7" cy="458.2" r="2.2"/><circle cx="147.1" cy="436.7" r="2.2"/><circle cx="75.7" cy="462.2" r="2.2"/><circle cx="190.7" cy="389" r="2.2"/><circle cx="204.4" cy="367.5" r="2.2"/><circle cx="153.4" cy="438.4" r="2.2"/><circle cx="119.4" cy="461.7" r="2.2"/><circle cx="109.9" cy="460.7" r="2.2"/><circle cx="133" cy="454" r="2.2"/><circle cx="188.9" cy="389.1" r="2.2"/><circle cx="120" cy="453" r="2.2"/><circle cx="170.7" cy="416.1" r="2.2"/><circle cx="201.4" cy="374.7" r="2.2"/><circle cx="108.2" cy="457.8" r="2.2"/><circle cx="177.8" cy="411.4" r="2.2"/><circle cx="161.3" cy="430.1" r="2.2"/><circle cx="174.5" cy="407.7" r="2.2"/><circle cx="57.3" cy="452.9" r="2.2"/><circle cx="201.1" cy="372.7" r="2.2"/><circle cx="125.1" cy="455.1" r="2.2"/><circle cx="99.2" cy="459" r="2.2"/><circle cx="92.8" cy="464.4" r="2.2"/><circle cx="107.4" cy="456.5" r="2.2"/><circle cx="71.2" cy="459.8" r="2.2"/><circle cx="83.8" cy="466.9" r="2.2"/><circle cx="55.2" cy="451.6" r="2.2"/><circle cx="106.4" cy="456.6" r="2.2"/><circle cx="154.8" cy="433.6" r="2.2"/><circle cx="157.1" cy="433" r="2.2"/><circle cx="100.6" cy="461.8" r="2.2"/><circle cx="60.1" cy="456.3" r="2.2"/><circle cx="186.6" cy="393.5" r="2.2"/><circle cx="172.1" cy="414" r="2.2"/><circle cx="169.6" cy="422.2" r="2.2"/><circle cx="118.7" cy="453.2" r="2.2"/><circle cx="97.7" cy="465.7" r="2.2"/><circle cx="189.4" cy="394.2" r="2.2"/><circle cx="122.2" cy="453.5" r="2.2"/><circle cx="199.6" cy="377.5" r="2.2"/><circle cx="84.7" cy="462.5" r="2.2"/><circle cx="119.6" cy="451.4" r="2.2"/><circle cx="74.4" cy="461.3" r="2.2"/><circle cx="123.8" cy="450.9" r="2.2"/><circle cx="171.9" cy="417.2" r="2.2"/><circle cx="152.5" cy="439" r="2.2"/><circle cx="185.3" cy="396.4" r="2.2"/><circle cx="114.7" cy="461.3" r="2.2"/><circle cx="167.2" cy="424.8" r="2.2"/><circle cx="77.9" cy="459.2" r="2.2"/><circle cx="164.3" cy="419.2" r="2.2"/><circle cx="112.4" cy="456.1" r="2.2"/><circle cx="35.4" cy="439.1" r="2.2"/><circle cx="44.9" cy="447.4" r="2.2"/><circle cx="51.4" cy="450.6" r="2.2"/><circle cx="53.4" cy="453.5" r="2.2"/><circle cx="61.4" cy="456.4" r="2.2"/><circle cx="60.4" cy="459" r="2.2"/><circle cx="66.5" cy="457.2" r="2.2"/><circle cx="69" cy="460.5" r="2.2"/><circle cx="205.2" cy="368.5" r="2.2"/><circle cx="201.7" cy="375.3" r="2.2"/><circle cx="199.2" cy="376.2" r="2.2"/></g>
<path d="M205.2 368L205.1 367.9L205 368L204.8 368.2L204.5 368.5L204.2 369L203.8 369.5L203.3 370.2L202.7 371L202 372L201.3 373L200.5 374.2L199.7 375.4L198.7 376.8L197.7 378.3L196.6 379.8L195.5 381.5L194.3 383.2L193 385L191.7 386.8L190.3 388.8L188.8 390.8L187.3 392.8L185.8 394.9L184.1 397.1L182.5 399.2L180.7 401.4L179 403.6L177.1 405.9L175.3 408.1L173.4 410.4L171.4 412.6L169.5 414.8L167.5 417L165.4 419.2L163.3 421.4L161.2 423.5L159.1 425.6L157 427.7L154.8 429.7L152.6 431.7L150.4 433.6L148.2 435.4L146 437.2L143.8 438.9L141.6 440.6L139.4 442.2L137.2 443.7L135 445.2L132.8 446.6L130.6 447.9L128.4 449.1L126.2 450.3L124.1 451.4L122 452.4L119.9 453.3L117.8 454.2L115.7 455L113.7 455.8L111.8 456.4L109.8 457L107.9 457.6L106.1 458.1L104.2 458.5L102.5 458.9L100.7 459.2L99.1 459.5L97.4 459.8L95.9 460L94.4 460.2L92.9 460.3L91.5 460.4L90.2 460.5L88.9 460.6L87.7 460.6L86.6 460.7L85.5 460.7L84.5 460.7L83.5 460.7L82.7 460.7L81.9 460.8L81.2 460.8L80.5 460.8L79.9 460.8L79.4 460.9L79 460.9L78.7 461L78.4 461.1L78.2 461.1L78.1 461.3L78 461.4L78.1 461.5L78.2 461.7L78.4 461.8L78.7 462L79 462.2L79.4 462.4L79.9 462.6L80.5 462.8L81.2 463.1L81.9 463.3L82.7 463.5L83.5 463.7L84.5 464L85.5 464.2L86.6 464.4L87.7 464.5L88.9 464.7L90.2 464.9L91.5 465L92.9 465.1L94.4 465.1L95.9 465.1L97.4 465.1L99.1 465L100.7 464.9L102.5 464.7L104.2 464.5L106.1 464.2L107.9 463.9L109.8 463.4L111.8 462.9L113.7 462.4L115.7 461.8L117.8 461.1L119.9 460.3L122 459.4L124.1 458.5L126.2 457.4L128.4 456.3L130.6 455.1L132.8 453.9L135 452.5L137.2 451.1L139.4 449.6L141.6 448L143.8 446.3L146 444.6L148.2 442.8L150.4 440.9L152.6 438.9L154.8 436.9L157 434.9L159.1 432.7L161.2 430.6L163.3 428.3L165.4 426.1L167.5 423.8L169.5 421.5L171.4 419.1L173.4 416.8L175.3 414.4L177.1 412L179 409.6L180.7 407.2L182.5 404.9L184.1 402.5L185.8 400.2L187.3 398L188.8 395.7L190.3 393.5L191.7 391.4L193 389.3L194.3 387.3L195.5 385.4L196.6 383.5L197.7 381.7L198.7 380L199.7 378.4L200.5 376.9L201.3 375.5L202 374.3L202.7 373.1L203.3 372L203.8 371.1L204.2 370.2L204.5 369.5L204.8 369L205 368.5L205.1 368.2L205.2 368Z" stroke="#46075a" stroke-width="1.1" fill="none" stroke-linejoin="round" clip-path="url(#c6)"/>
<path d="M189.6 392.2L189.5 392.2L189.4 392.2L189.3 392.3L189.1 392.5L188.8 392.8L188.5 393.1L188.1 393.6L187.7 394.1L187.2 394.7L186.7 395.4L186.1 396.1L185.4 396.9L184.7 397.8L183.9 398.7L183.1 399.8L182.3 400.8L181.4 402L180.4 403.1L179.4 404.4L178.3 405.6L177.2 406.9L176.1 408.3L174.9 409.7L173.7 411.1L172.4 412.6L171.1 414L169.8 415.5L168.4 417L167 418.5L165.6 420.1L164.1 421.6L162.6 423.1L161.1 424.6L159.6 426.2L158 427.7L156.4 429.2L154.8 430.6L153.2 432.1L151.6 433.5L149.9 434.9L148.3 436.3L146.6 437.7L144.9 439L143.3 440.3L141.6 441.5L139.9 442.7L138.3 443.9L136.6 445L134.9 446.1L133.3 447.2L131.6 448.2L130 449.1L128.4 450.1L126.8 450.9L125.2 451.8L123.6 452.5L122.1 453.3L120.6 454L119.1 454.7L117.6 455.3L116.2 455.9L114.8 456.4L113.4 456.9L112.1 457.4L110.8 457.8L109.5 458.3L108.3 458.6L107.1 459L106 459.3L104.9 459.6L103.8 459.9L102.8 460.1L101.8 460.4L100.9 460.6L100.1 460.8L99.3 461L98.5 461.1L97.8 461.3L97.1 461.4L96.5 461.6L96 461.7L95.5 461.8L95.1 461.9L94.7 462L94.4 462.2L94.1 462.3L93.9 462.4L93.8 462.5L93.7 462.6L93.6 462.7L93.7 462.8L93.8 462.9L93.9 462.9L94.1 463L94.4 463.1L94.7 463.2L95.1 463.3L95.5 463.4L96 463.4L96.5 463.5L97.1 463.5L97.8 463.5L98.5 463.6L99.3 463.6L100.1 463.6L100.9 463.5L101.8 463.5L102.8 463.4L103.8 463.3L104.9 463.2L106 463L107.1 462.8L108.3 462.6L109.5 462.4L110.8 462.1L112.1 461.8L113.4 461.4L114.8 461L116.2 460.6L117.6 460.1L119.1 459.6L120.6 459L122.1 458.4L123.6 457.7L125.2 457L126.8 456.2L128.4 455.4L130 454.5L131.6 453.6L133.3 452.7L134.9 451.6L136.6 450.6L138.3 449.5L139.9 448.3L141.6 447.1L143.3 445.8L144.9 444.5L146.6 443.2L148.3 441.8L149.9 440.4L151.6 439L153.2 437.5L154.8 436L156.4 434.5L158 432.9L159.6 431.3L161.1 429.7L162.6 428.1L164.1 426.5L165.6 424.9L167 423.3L168.4 421.6L169.8 420L171.1 418.4L172.4 416.8L173.7 415.2L174.9 413.7L176.1 412.2L177.2 410.7L178.3 409.2L179.4 407.8L180.4 406.4L181.4 405.1L182.3 403.8L183.1 402.5L183.9 401.4L184.7 400.2L185.4 399.2L186.1 398.2L186.7 397.3L187.2 396.4L187.7 395.6L188.1 394.9L188.5 394.3L188.8 393.7L189.1 393.3L189.3 392.9L189.4 392.6L189.5 392.4L189.6 392.2Z" stroke="#3b528b" stroke-width="1.1" fill="none" stroke-linejoin="round" clip-path="url(#c6)"/>
<path d="M177.4 408.6L177.4 408.6L177.3 408.6L177.2 408.6L177.1 408.7L176.9 408.9L176.6 409.1L176.3 409.4L176 409.8L175.7 410.1L175.2 410.6L174.8 411.1L174.3 411.6L173.8 412.2L173.2 412.8L172.6 413.4L172 414.1L171.3 414.9L170.6 415.6L169.8 416.5L169 417.3L168.2 418.2L167.4 419.1L166.5 420L165.6 420.9L164.6 421.9L163.6 422.9L162.6 423.9L161.6 424.9L160.6 426L159.5 427L158.4 428L157.3 429.1L156.2 430.1L155 431.2L153.8 432.3L152.7 433.3L151.5 434.3L150.3 435.4L149 436.4L147.8 437.4L146.6 438.4L145.3 439.4L144.1 440.3L142.8 441.3L141.6 442.2L140.4 443.1L139.1 444L137.9 444.9L136.6 445.7L135.4 446.5L134.2 447.3L132.9 448.1L131.7 448.8L130.5 449.6L129.4 450.2L128.2 450.9L127 451.5L125.9 452.2L124.8 452.7L123.7 453.3L122.6 453.8L121.6 454.3L120.6 454.8L119.6 455.3L118.6 455.7L117.6 456.1L116.7 456.5L115.8 456.9L115 457.3L114.2 457.6L113.4 457.9L112.6 458.2L111.9 458.5L111.2 458.7L110.6 459L110 459.2L109.4 459.4L108.9 459.6L108.4 459.8L108 460L107.5 460.2L107.2 460.3L106.9 460.5L106.6 460.6L106.3 460.7L106.1 460.8L106 460.9L105.9 461L105.8 461.1L105.8 461.2L105.8 461.3L105.9 461.3L106 461.4L106.1 461.4L106.3 461.4L106.6 461.5L106.9 461.5L107.2 461.5L107.5 461.5L108 461.4L108.4 461.4L108.9 461.3L109.4 461.3L110 461.2L110.6 461.1L111.2 460.9L111.9 460.8L112.6 460.6L113.4 460.5L114.2 460.3L115 460L115.8 459.8L116.7 459.5L117.6 459.2L118.6 458.9L119.6 458.6L120.6 458.2L121.6 457.8L122.6 457.4L123.7 456.9L124.8 456.4L125.9 455.9L127 455.3L128.2 454.8L129.4 454.2L130.5 453.5L131.7 452.8L132.9 452.1L134.2 451.4L135.4 450.6L136.6 449.8L137.9 449L139.1 448.2L140.4 447.3L141.6 446.4L142.8 445.4L144.1 444.5L145.3 443.5L146.6 442.5L147.8 441.5L149 440.5L150.3 439.4L151.5 438.3L152.7 437.3L153.8 436.2L155 435.1L156.2 433.9L157.3 432.8L158.4 431.7L159.5 430.6L160.6 429.5L161.6 428.4L162.6 427.3L163.6 426.2L164.6 425.1L165.6 424L166.5 423L167.4 422L168.2 421L169 420L169.8 419L170.6 418.1L171.3 417.2L172 416.3L172.6 415.5L173.2 414.7L173.8 414L174.3 413.3L174.8 412.6L175.2 412L175.7 411.4L176 410.9L176.3 410.4L176.6 410L176.9 409.6L177.1 409.3L177.2 409.1L177.3 408.9L177.4 408.7L177.4 408.6Z" stroke="#21918c" stroke-width="1.1" fill="none" stroke-linejoin="round" clip-path="url(#c6)"/>
<path d="M165.3 422.8L165.3 422.8L165.2 422.8L165.1 422.8L165 422.9L164.9 423L164.7 423.1L164.6 423.2L164.3 423.4L164.1 423.6L163.8 423.9L163.5 424.1L163.2 424.4L162.9 424.8L162.5 425.1L162.1 425.5L161.7 425.9L161.2 426.3L160.7 426.7L160.2 427.2L159.7 427.7L159.2 428.2L158.6 428.7L158 429.3L157.4 429.8L156.8 430.4L156.2 431L155.5 431.6L154.8 432.2L154.1 432.8L153.4 433.4L152.7 434L152 434.7L151.2 435.3L150.5 435.9L149.7 436.6L148.9 437.2L148.1 437.9L147.3 438.5L146.5 439.2L145.7 439.8L144.9 440.4L144.1 441.1L143.3 441.7L142.4 442.3L141.6 442.9L140.8 443.5L139.9 444.1L139.1 444.7L138.3 445.3L137.5 445.8L136.7 446.4L135.9 446.9L135.1 447.5L134.3 448L133.5 448.5L132.7 449L132 449.4L131.2 449.9L130.5 450.3L129.8 450.8L129.1 451.2L128.4 451.6L127.7 452L127 452.4L126.4 452.7L125.8 453.1L125.2 453.4L124.6 453.7L124 454L123.5 454.3L123 454.6L122.5 454.9L122 455.1L121.5 455.4L121.1 455.6L120.7 455.8L120.3 456L120 456.2L119.7 456.4L119.4 456.5L119.1 456.7L118.9 456.8L118.6 457L118.5 457.1L118.3 457.2L118.2 457.3L118.1 457.4L118 457.5L117.9 457.5L117.9 457.6L117.9 457.6L118 457.7L118.1 457.7L118.2 457.7L118.3 457.7L118.5 457.7L118.6 457.6L118.9 457.6L119.1 457.5L119.4 457.5L119.7 457.4L120 457.3L120.3 457.2L120.7 457.1L121.1 457L121.5 456.8L122 456.7L122.5 456.5L123 456.3L123.5 456.1L124 455.9L124.6 455.6L125.2 455.4L125.8 455.1L126.4 454.8L127 454.5L127.7 454.2L128.4 453.9L129.1 453.5L129.8 453.2L130.5 452.8L131.2 452.4L132 451.9L132.7 451.5L133.5 451.1L134.3 450.6L135.1 450.1L135.9 449.6L136.7 449.1L137.5 448.5L138.3 448L139.1 447.4L139.9 446.9L140.8 446.3L141.6 445.7L142.4 445.1L143.3 444.4L144.1 443.8L144.9 443.2L145.7 442.5L146.5 441.9L147.3 441.2L148.1 440.5L148.9 439.8L149.7 439.2L150.5 438.5L151.2 437.8L152 437.1L152.7 436.4L153.4 435.8L154.1 435.1L154.8 434.4L155.5 433.8L156.2 433.1L156.8 432.5L157.4 431.9L158 431.2L158.6 430.6L159.2 430L159.7 429.5L160.2 428.9L160.7 428.4L161.2 427.8L161.7 427.3L162.1 426.9L162.5 426.4L162.9 426L163.2 425.6L163.5 425.2L163.8 424.8L164.1 424.5L164.3 424.2L164.6 423.9L164.7 423.7L164.9 423.4L165 423.3L165.1 423.1L165.2 423L165.3 422.9L165.3 422.8Z" stroke="#5ec962" stroke-width="1.1" fill="none" stroke-linejoin="round" clip-path="url(#c6)"/>
<path d="M91.5 485v3M191.7 485v3" stroke="#8e8e8e" stroke-width="0.8" fill="none"/>
<text class="tk" x="91.5" y="503.4" text-anchor="middle">0</text>
<text class="tk" x="191.7" y="503.4" text-anchor="middle">2</text>
<path d="M30.3 462.7h-3M30.3 425.9h-3M30.3 389.1h-3M30.3 352.3h-3" stroke="#8e8e8e" stroke-width="0.8" fill="none"/>
<text class="tk" x="24.8" y="468.7" text-anchor="end">0</text>
<text class="tk" x="24.8" y="431.9" text-anchor="end">2</text>
<text class="tk" x="24.8" y="395.1" text-anchor="end">4</text>
<text class="tk" x="24.8" y="358.3" text-anchor="end">6</text>
<text class="th" x="136.5" y="520" text-anchor="middle"><tspan font-style="italic">θ</tspan><tspan font-size="11" dy="3.4">1</tspan></text>
<text class="th" x="9" y="418.5" text-anchor="middle" transform="rotate(-90 9 414)"><tspan font-style="italic">θ</tspan><tspan font-size="11" dy="3.4">2</tspan></text>
<clipPath id="c7"><rect x="267.3" y="343.3" width="54.3" height="141.7"/></clipPath>
<rect x="267.3" y="343.3" width="54.3" height="141.7" fill="#e8e8e8"/>
<path d="M269.1 343.3V485M317.5 343.3V485M267.3 462.7H321.6M267.3 425.9H321.6M267.3 389.1H321.6M267.3 352.3H321.6" stroke="#ffffff" stroke-width="0.85" fill="none"/>
<path d="M268.8 341.8L268.8 343.3L268.8 344.8L268.8 346.3L268.7 347.8L268.7 349.3L268.6 350.8L268.6 352.3L268.5 353.8L268.5 355.3L268.5 356.8L268.4 358.3L268.4 359.8L268.5 361.3L268.5 362.8L268.6 364.2L268.7 365.7L268.8 367.2L269 368.7L269.2 370.2L269.5 371.7L269.8 373.1L270.2 374.6L270.6 376L271.1 377.4L271.6 378.9L272.1 380.3L272.6 381.7L273.1 383.1L273.6 384.5L274.2 385.8L274.8 387.2L275.6 388.6L276.4 389.9L277.2 391.2L277.5 392.6L277.4 394L276.9 395.4L276.2 396.8L275.4 398.2L274.8 399.6L274.5 401L274.7 402.4L275.2 403.8L276 405.2L276.9 406.5L277.7 407.8L278.4 409.2L279 410.5L279.6 411.8L280.2 413.2L280.8 414.7L281.1 416.1L281.1 417.6L280.7 419.1L280.4 420.6L280.5 422L281 423.3L281.9 424.6L283.1 425.7L284.4 426.7L285.7 427.6L287 428.5L288.1 429.4L289 430.5L289.5 431.9L289.7 433.4L289.5 435L289.2 436.5L289.2 437.9L289.7 439.1L290.8 440L292.2 440.8L293.8 441.4L295.4 442L296.9 442.6L298.4 443.2L299.7 443.8L300.9 444.5L302.1 445.4L303.2 446.3L304.2 447.4L305.3 448.5L306.3 449.6L307.4 450.6L308.5 451.4L309.7 452.2L310.9 452.9L312.3 453.7L313.9 454.4L315.6 455.3L317.2 456.2L318.6 457.1L319.4 458.1L319.5 459.1L318.8 460L317.5 461L315.9 461.8L314.3 462.5L312.7 463.1L311.1 463.6L309.6 463.9L308.1 464.2L306.7 464.4L305.2 464.5L303.8 464.7L302.4 464.8L301 464.9L299.6 465L298.2 465.1L296.8 465.3L295.4 465.5L293.9 465.8L292.5 466.1L291.1 466.4L289.6 466.8L288.2 467.1L286.7 467.5L285.2 467.9L283.7 468.2L282.2 468.6L280.7 468.9L279.2 469.2L277.6 469.5L276.1 469.9L274.7 470.4L273.3 470.9L272.1 471.7L271 472.7L270.1 473.9L269.4 475.3L268.9 476.7L268.6 478.2L268.4 479.6L268.4 481.1L268.5 482.6L268.6 484.2L268.8 485.7" stroke="#2b50a8" stroke-width="1.35" fill="none" stroke-linejoin="round" clip-path="url(#c7)"/>
<path d="M269.1 485v3M317.5 485v3" stroke="#8e8e8e" stroke-width="0.8" fill="none"/>
<text class="tk" x="269.1" y="503.4" text-anchor="middle">0.0</text>
<text class="tk" x="317.5" y="503.4" text-anchor="middle">0.5</text>
<text class="cap" x="48.5" y="548.5" textLength="226.5" lengthAdjust="spacingAndGlyphs">(c) Metropolis-Hastings algorithm</text>
<clipPath id="c8"><rect x="390.9" y="288.2" width="215.1" height="31.5"/></clipPath>
<rect x="390.9" y="288.2" width="215.1" height="31.5" fill="#e8e8e8"/>
<path d="M453.7 288.2V319.7M553.7 288.2V319.7M390.9 318.5H606M390.9 291.4H606" stroke="#ffffff" stroke-width="0.85" fill="none"/>
<path d="M390.9 314.8L392.2 314.2L393.6 313.6L395.1 313.2L396.5 312.8L398 312.5L399.5 312.4L401 312.3L402.5 312.2L403.9 312.3L405.4 312.3L406.9 312.4L408.4 312.4L409.9 312.4L411.4 312.4L412.9 312.3L414.4 312.3L415.9 312.2L417.4 312.3L418.9 312.4L420.4 312.6L421.8 312.9L423.3 313.3L424.7 313.7L426.2 314.1L427.6 314.4L429.1 314.6L430.6 314.7L432.1 314.7L433.6 314.5L435.1 314.3L436.5 313.9L437.9 313.3L439.3 312.7L440.6 311.9L441.8 311.1L443 310.2L444.2 309.2L445.3 308.3L446.4 307.3L447.5 306.3L448.6 305.3L449.7 304.2L450.8 303.2L451.9 302.2L453 301.2L454.2 300.3L455.4 299.4L456.7 298.6L458 297.8L459.3 297.1L460.6 296.4L461.9 295.6L463.2 294.9L464.5 294.1L465.8 293.4L467 292.6L468.4 291.9L469.7 291.2L471 290.6L472.4 290.1L473.9 289.7L475.4 289.5L476.9 289.5L478.4 289.6L479.9 289.8L481.3 290.2L482.7 290.7L484.1 291.3L485.5 291.9L486.8 292.5L488.2 293.1L489.6 293.6L491.1 293.9L492.6 294.1L494.1 294.1L495.6 293.9L497 293.5L498.4 293L499.8 292.3L501.1 291.6L502.4 290.9L503.8 290.3L505.2 289.9L506.7 289.5L508.2 289.3L509.7 289.3L511.2 289.4L512.7 289.7L514.1 290.1L515.5 290.7L516.9 291.3L518.2 292.1L519.4 292.9L520.7 293.8L521.8 294.7L523 295.7L524.1 296.7L525.1 297.8L526.1 298.9L527.1 300L528.1 301.1L529 302.3L529.9 303.5L530.8 304.7L531.7 305.9L532.6 307.1L533.6 308.2L534.6 309.3L535.7 310.4L536.8 311.4L538 312.3L539.3 313.1L540.6 313.7L542 314.3L543.5 314.7L544.9 315L546.4 315.2L547.9 315.2L549.4 315.2L550.9 315L552.4 314.7L553.8 314.2L555.2 313.7L556.5 313L557.9 312.3L559.2 311.6L560.5 310.9L561.8 310.2L563.2 309.7L564.7 309.3L566.2 309.2L567.7 309.4L569.1 309.7L570.5 310.3L571.8 311L573.1 311.8L574.4 312.6L575.6 313.5L576.8 314.3L578.1 315.2L579.4 315.9L580.7 316.6L582.1 317.1L583.5 317.6L585 317.8L586.5 318L588 318L589.5 318.1L591 318.1L592.5 318L594 318L595.5 318L596.9 318L598.4 318L599.9 318L601.4 318L602.9 318L604.4 318L605.9 318" stroke="#2b50a8" stroke-width="1.35" fill="none" stroke-linejoin="round" clip-path="url(#c8)"/>
<path d="M390.9 318.5h-3M390.9 291.4h-3" stroke="#8e8e8e" stroke-width="0.8" fill="none"/>
<text class="tk" x="385.4" y="324.5" text-anchor="end">0.0</text>
<text class="tk" x="385.4" y="297.4" text-anchor="end">0.5</text>
<clipPath id="c9"><rect x="390.9" y="343.8" width="215.1" height="141.2"/></clipPath>
<rect x="390.9" y="343.8" width="215.1" height="141.2" fill="#e8e8e8"/>
<path d="M453.7 343.8V485M553.7 343.8V485M390.9 462.9H606M390.9 426.1H606M390.9 389.3H606M390.9 352.5H606" stroke="#ffffff" stroke-width="0.85" fill="none"/>
<g class="dots" fill="#264eb0" stroke="#03061c" stroke-width="0.75" clip-path="url(#c9)"><circle cx="429.4" cy="458.7" r="2.2"/><circle cx="475.1" cy="460.2" r="2.2"/><circle cx="492.9" cy="453.8" r="2.2"/><circle cx="519.1" cy="432.7" r="2.2"/><circle cx="479.3" cy="458.7" r="2.2"/><circle cx="488.6" cy="450.9" r="2.2"/><circle cx="470.5" cy="462.5" r="2.2"/><circle cx="564.8" cy="374.5" r="2.2"/><circle cx="500.5" cy="445.1" r="2.2"/><circle cx="477.6" cy="457.1" r="2.2"/><circle cx="532" cy="421" r="2.2"/><circle cx="497.1" cy="448.8" r="2.2"/><circle cx="514.2" cy="435.8" r="2.2"/><circle cx="473.5" cy="457.9" r="2.2"/><circle cx="493.1" cy="452.6" r="2.2"/><circle cx="464.2" cy="461.2" r="2.2"/><circle cx="560.3" cy="385.4" r="2.2"/><circle cx="441.3" cy="463.7" r="2.2"/><circle cx="404" cy="445.2" r="2.2"/><circle cx="487.6" cy="456.2" r="2.2"/><circle cx="490.1" cy="452" r="2.2"/><circle cx="572.9" cy="360" r="2.2"/><circle cx="517.5" cy="433.6" r="2.2"/><circle cx="523.7" cy="426" r="2.2"/><circle cx="495.3" cy="450.4" r="2.2"/><circle cx="479.1" cy="463" r="2.2"/><circle cx="457" cy="463.5" r="2.2"/><circle cx="407.3" cy="447.3" r="2.2"/><circle cx="469.6" cy="461.1" r="2.2"/><circle cx="447.7" cy="457.6" r="2.2"/><circle cx="545" cy="401.9" r="2.2"/><circle cx="398.9" cy="439.1" r="2.2"/><circle cx="454.5" cy="462.7" r="2.2"/><circle cx="395.9" cy="438.6" r="2.2"/><circle cx="420.7" cy="451" r="2.2"/><circle cx="390" cy="431.4" r="2.2"/><circle cx="504" cy="445.6" r="2.2"/><circle cx="498.9" cy="447.5" r="2.2"/><circle cx="476.7" cy="457.4" r="2.2"/><circle cx="392.7" cy="435.6" r="2.2"/><circle cx="572.5" cy="356.3" r="2.2"/><circle cx="570.6" cy="362.2" r="2.2"/><circle cx="472.1" cy="457.8" r="2.2"/><circle cx="454" cy="461.4" r="2.2"/><circle cx="468.5" cy="463.6" r="2.2"/><circle cx="469.3" cy="458.9" r="2.2"/><circle cx="571.9" cy="365" r="2.2"/><circle cx="556.8" cy="383.7" r="2.2"/><circle cx="558.3" cy="382.3" r="2.2"/><circle cx="473.7" cy="459.4" r="2.2"/><circle cx="533.7" cy="415.9" r="2.2"/><circle cx="501.8" cy="446.9" r="2.2"/><circle cx="481" cy="460" r="2.2"/><circle cx="514" cy="437.6" r="2.2"/><circle cx="451.5" cy="463.7" r="2.2"/><circle cx="510.9" cy="439.4" r="2.2"/><circle cx="500.9" cy="443.9" r="2.2"/><circle cx="449.5" cy="460.5" r="2.2"/><circle cx="506.2" cy="438.8" r="2.2"/><circle cx="507.8" cy="440.9" r="2.2"/><circle cx="491.8" cy="449.8" r="2.2"/><circle cx="498.7" cy="448.9" r="2.2"/><circle cx="521.6" cy="428.2" r="2.2"/><circle cx="492.4" cy="451.6" r="2.2"/><circle cx="412.1" cy="452.2" r="2.2"/><circle cx="529" cy="421.6" r="2.2"/><circle cx="494.4" cy="452.6" r="2.2"/><circle cx="443.2" cy="461.2" r="2.2"/><circle cx="543.2" cy="406.3" r="2.2"/><circle cx="509.9" cy="438.1" r="2.2"/><circle cx="455.6" cy="463.4" r="2.2"/><circle cx="518.9" cy="430.9" r="2.2"/><circle cx="430.9" cy="461.1" r="2.2"/><circle cx="528" cy="422.7" r="2.2"/><circle cx="493.8" cy="450.2" r="2.2"/><circle cx="567.3" cy="369.8" r="2.2"/><circle cx="524" cy="428.8" r="2.2"/><circle cx="512.2" cy="440.6" r="2.2"/><circle cx="520.6" cy="429.9" r="2.2"/><circle cx="559.9" cy="377.4" r="2.2"/><circle cx="467.4" cy="459.5" r="2.2"/><circle cx="459.5" cy="463.9" r="2.2"/><circle cx="486.6" cy="452.5" r="2.2"/><circle cx="462.3" cy="460.9" r="2.2"/><circle cx="401.2" cy="442.3" r="2.2"/><circle cx="494.1" cy="447.1" r="2.2"/><circle cx="474.9" cy="458" r="2.2"/><circle cx="391.2" cy="434.4" r="2.2"/><circle cx="536.1" cy="415.4" r="2.2"/><circle cx="472.2" cy="458.9" r="2.2"/><circle cx="524.2" cy="422.5" r="2.2"/><circle cx="533.1" cy="412" r="2.2"/><circle cx="501.2" cy="446" r="2.2"/><circle cx="567.8" cy="366.7" r="2.2"/><circle cx="470.6" cy="460.9" r="2.2"/><circle cx="486.6" cy="454.5" r="2.2"/><circle cx="485.9" cy="455.4" r="2.2"/><circle cx="464.3" cy="464.3" r="2.2"/><circle cx="513.1" cy="437.3" r="2.2"/><circle cx="414.8" cy="447.7" r="2.2"/><circle cx="510" cy="437.1" r="2.2"/><circle cx="502.9" cy="444.8" r="2.2"/><circle cx="463.4" cy="460.2" r="2.2"/><circle cx="519.3" cy="434.9" r="2.2"/><circle cx="481.8" cy="461.1" r="2.2"/><circle cx="524.5" cy="425.2" r="2.2"/><circle cx="495.5" cy="452.2" r="2.2"/><circle cx="450.3" cy="459.1" r="2.2"/><circle cx="485" cy="454.6" r="2.2"/><circle cx="416.8" cy="450.4" r="2.2"/><circle cx="478.4" cy="462" r="2.2"/><circle cx="504.4" cy="446.7" r="2.2"/><circle cx="392.4" cy="432.2" r="2.2"/><circle cx="477.9" cy="458.6" r="2.2"/><circle cx="481.4" cy="453" r="2.2"/><circle cx="516" cy="435.8" r="2.2"/><circle cx="400.1" cy="443.5" r="2.2"/><circle cx="466.5" cy="457.8" r="2.2"/><circle cx="464.6" cy="465.8" r="2.2"/><circle cx="503.2" cy="443.2" r="2.2"/><circle cx="516.6" cy="436.9" r="2.2"/><circle cx="465.2" cy="461.8" r="2.2"/><circle cx="507.2" cy="442.2" r="2.2"/><circle cx="464.6" cy="462.7" r="2.2"/><circle cx="454.9" cy="464.6" r="2.2"/><circle cx="438.3" cy="456.5" r="2.2"/><circle cx="390.3" cy="433" r="2.2"/><circle cx="515.5" cy="440.5" r="2.2"/><circle cx="498.5" cy="450.2" r="2.2"/><circle cx="539" cy="411.7" r="2.2"/><circle cx="512.3" cy="439" r="2.2"/><circle cx="503.9" cy="441.4" r="2.2"/><circle cx="513.3" cy="429.6" r="2.2"/><circle cx="460.4" cy="463.1" r="2.2"/><circle cx="503" cy="440.7" r="2.2"/><circle cx="571.3" cy="359.7" r="2.2"/><circle cx="517.1" cy="432.6" r="2.2"/><circle cx="514.1" cy="434.4" r="2.2"/><circle cx="563.4" cy="376.8" r="2.2"/><circle cx="535" cy="415.4" r="2.2"/><circle cx="395.9" cy="442.1" r="2.2"/><circle cx="481.3" cy="454.9" r="2.2"/><circle cx="393.7" cy="433.1" r="2.2"/><circle cx="509" cy="441.5" r="2.2"/><circle cx="506" cy="444.4" r="2.2"/><circle cx="488.3" cy="454.5" r="2.2"/><circle cx="476" cy="456.6" r="2.2"/><circle cx="493.2" cy="456" r="2.2"/><circle cx="527.8" cy="424.4" r="2.2"/><circle cx="461.1" cy="462.2" r="2.2"/><circle cx="510.1" cy="441" r="2.2"/><circle cx="563.5" cy="379.3" r="2.2"/><circle cx="490.6" cy="454.3" r="2.2"/><circle cx="478.5" cy="461" r="2.2"/><circle cx="540.4" cy="405" r="2.2"/><circle cx="406.4" cy="443" r="2.2"/><circle cx="520.4" cy="431.5" r="2.2"/><circle cx="498.1" cy="445.5" r="2.2"/><circle cx="417.6" cy="453.5" r="2.2"/><circle cx="472.3" cy="462.7" r="2.2"/><circle cx="569.4" cy="362.8" r="2.2"/><circle cx="506.2" cy="446.5" r="2.2"/><circle cx="411.3" cy="449.9" r="2.2"/><circle cx="410.4" cy="447.7" r="2.2"/><circle cx="525" cy="421.6" r="2.2"/><circle cx="479.5" cy="455.9" r="2.2"/><circle cx="566.6" cy="365.5" r="2.2"/><circle cx="399.4" cy="441.1" r="2.2"/><circle cx="497.7" cy="447" r="2.2"/><circle cx="458.5" cy="462.1" r="2.2"/><circle cx="489.2" cy="456.8" r="2.2"/><circle cx="482.4" cy="456.9" r="2.2"/><circle cx="418.6" cy="454.3" r="2.2"/><circle cx="523.2" cy="430.5" r="2.2"/><circle cx="533.8" cy="418.4" r="2.2"/><circle cx="447" cy="464.1" r="2.2"/><circle cx="561.8" cy="379.1" r="2.2"/><circle cx="537" cy="413.4" r="2.2"/><circle cx="485.9" cy="453.7" r="2.2"/><circle cx="405.8" cy="448.2" r="2.2"/><circle cx="426.1" cy="455.7" r="2.2"/><circle cx="459.5" cy="462.4" r="2.2"/><circle cx="405.4" cy="443.8" r="2.2"/><circle cx="473.1" cy="461.5" r="2.2"/><circle cx="495.7" cy="448" r="2.2"/><circle cx="528.9" cy="420.1" r="2.2"/><circle cx="518.7" cy="425.5" r="2.2"/><circle cx="402.8" cy="444.8" r="2.2"/><circle cx="447.8" cy="466" r="2.2"/><circle cx="518" cy="429.7" r="2.2"/><circle cx="483.7" cy="455.9" r="2.2"/><circle cx="507.9" cy="439.6" r="2.2"/><circle cx="462.4" cy="458.8" r="2.2"/><circle cx="430" cy="455.7" r="2.2"/><circle cx="459.2" cy="465.5" r="2.2"/><circle cx="483.5" cy="453.8" r="2.2"/><circle cx="411.8" cy="448.4" r="2.2"/><circle cx="504.2" cy="443.3" r="2.2"/><circle cx="538.1" cy="406" r="2.2"/><circle cx="393.8" cy="434.6" r="2.2"/><circle cx="509.1" cy="439.3" r="2.2"/><circle cx="415" cy="453" r="2.2"/><circle cx="515.5" cy="438.2" r="2.2"/><circle cx="491.5" cy="452.9" r="2.2"/><circle cx="511.9" cy="441.8" r="2.2"/><circle cx="469.9" cy="460.1" r="2.2"/><circle cx="420.6" cy="456.5" r="2.2"/><circle cx="403.3" cy="442.7" r="2.2"/><circle cx="511.7" cy="436.4" r="2.2"/><circle cx="408.4" cy="446" r="2.2"/><circle cx="515.6" cy="432.8" r="2.2"/><circle cx="522.7" cy="427" r="2.2"/><circle cx="571" cy="363.8" r="2.2"/><circle cx="524" cy="423.8" r="2.2"/><circle cx="502.4" cy="446" r="2.2"/><circle cx="525.6" cy="425.1" r="2.2"/><circle cx="502.1" cy="442.7" r="2.2"/><circle cx="534.2" cy="413.5" r="2.2"/><circle cx="480.4" cy="458.2" r="2.2"/><circle cx="567.3" cy="367.8" r="2.2"/><circle cx="466.7" cy="462.9" r="2.2"/><circle cx="567.9" cy="365.1" r="2.2"/><circle cx="466.4" cy="460.7" r="2.2"/><circle cx="502.5" cy="439.5" r="2.2"/><circle cx="543.1" cy="402.9" r="2.2"/><circle cx="539.5" cy="409.5" r="2.2"/><circle cx="562.8" cy="375.3" r="2.2"/><circle cx="461.8" cy="464.7" r="2.2"/><circle cx="500.4" cy="449.7" r="2.2"/><circle cx="478.3" cy="459.7" r="2.2"/><circle cx="458.2" cy="463.9" r="2.2"/><circle cx="539.4" cy="407.4" r="2.2"/><circle cx="502.6" cy="447.9" r="2.2"/><circle cx="571.6" cy="360.9" r="2.2"/><circle cx="428.8" cy="457.2" r="2.2"/><circle cx="547.9" cy="397.3" r="2.2"/><circle cx="547.8" cy="399.8" r="2.2"/><circle cx="499.9" cy="441.9" r="2.2"/><circle cx="575.2" cy="357.1" r="2.2"/><circle cx="397.8" cy="440.9" r="2.2"/><circle cx="572.8" cy="357.4" r="2.2"/><circle cx="525" cy="424.1" r="2.2"/><circle cx="449.5" cy="466" r="2.2"/><circle cx="479.6" cy="460.9" r="2.2"/><circle cx="462.8" cy="463.1" r="2.2"/><circle cx="573.1" cy="358.6" r="2.2"/><circle cx="504" cy="440.3" r="2.2"/><circle cx="468.6" cy="460.1" r="2.2"/><circle cx="506.1" cy="440.7" r="2.2"/><circle cx="482.7" cy="458.3" r="2.2"/><circle cx="411.2" cy="451.8" r="2.2"/><circle cx="541.2" cy="406.8" r="2.2"/><circle cx="388" cy="429.5" r="2.2"/><circle cx="466" cy="458.9" r="2.2"/><circle cx="561" cy="374.8" r="2.2"/><circle cx="484.7" cy="457.7" r="2.2"/><circle cx="430.2" cy="459.3" r="2.2"/><circle cx="487.6" cy="459.1" r="2.2"/><circle cx="528.2" cy="419.4" r="2.2"/><circle cx="453.2" cy="465.6" r="2.2"/><circle cx="531.6" cy="417.1" r="2.2"/><circle cx="531" cy="418.5" r="2.2"/><circle cx="574.4" cy="356.1" r="2.2"/><circle cx="541.5" cy="405.4" r="2.2"/><circle cx="527.1" cy="421.8" r="2.2"/><circle cx="465.2" cy="459.8" r="2.2"/><circle cx="547.9" cy="396" r="2.2"/><circle cx="532.7" cy="415.1" r="2.2"/><circle cx="491.7" cy="456" r="2.2"/><circle cx="456" cy="461.8" r="2.2"/><circle cx="439.4" cy="460.5" r="2.2"/><circle cx="474.1" cy="460.6" r="2.2"/><circle cx="466.5" cy="464.4" r="2.2"/><circle cx="521.6" cy="431.9" r="2.2"/><circle cx="509" cy="443.9" r="2.2"/><circle cx="515.3" cy="439.3" r="2.2"/><circle cx="410" cy="450.9" r="2.2"/><circle cx="549.5" cy="395.1" r="2.2"/><circle cx="538.3" cy="409.1" r="2.2"/><circle cx="520.6" cy="433.9" r="2.2"/><circle cx="562.5" cy="376.2" r="2.2"/><circle cx="495.3" cy="446.4" r="2.2"/><circle cx="444" cy="463.1" r="2.2"/><circle cx="506" cy="443.1" r="2.2"/><circle cx="497.4" cy="451.5" r="2.2"/><circle cx="494.2" cy="445.4" r="2.2"/><circle cx="403.5" cy="446.6" r="2.2"/><circle cx="539" cy="405.4" r="2.2"/><circle cx="506.4" cy="437.1" r="2.2"/><circle cx="490.2" cy="449.9" r="2.2"/><circle cx="555.6" cy="391.2" r="2.2"/><circle cx="450.6" cy="466.6" r="2.2"/><circle cx="466.5" cy="465.7" r="2.2"/><circle cx="507.5" cy="443.5" r="2.2"/><circle cx="517" cy="431.6" r="2.2"/><circle cx="497.3" cy="454" r="2.2"/><circle cx="519.4" cy="429.6" r="2.2"/><circle cx="483.1" cy="459.4" r="2.2"/><circle cx="488.4" cy="452.9" r="2.2"/><circle cx="476.2" cy="459.1" r="2.2"/><circle cx="450.3" cy="463.3" r="2.2"/><circle cx="484" cy="458.6" r="2.2"/><circle cx="416.2" cy="455.4" r="2.2"/><circle cx="406.2" cy="445.8" r="2.2"/><circle cx="527.6" cy="425.4" r="2.2"/><circle cx="485.7" cy="456.4" r="2.2"/><circle cx="556.3" cy="388.4" r="2.2"/><circle cx="428.3" cy="460.7" r="2.2"/><circle cx="465.9" cy="467.5" r="2.2"/><circle cx="511.8" cy="438" r="2.2"/><circle cx="530.1" cy="420.4" r="2.2"/><circle cx="568.2" cy="363.1" r="2.2"/><circle cx="565.4" cy="370.1" r="2.2"/><circle cx="405.1" cy="446.2" r="2.2"/><circle cx="500.6" cy="447.5" r="2.2"/><circle cx="560.8" cy="380.8" r="2.2"/><circle cx="449.1" cy="462.3" r="2.2"/><circle cx="522.7" cy="428.1" r="2.2"/><circle cx="559.5" cy="376.4" r="2.2"/><circle cx="397.5" cy="439.1" r="2.2"/><circle cx="474.3" cy="464.3" r="2.2"/><circle cx="541.1" cy="403.4" r="2.2"/><circle cx="489.6" cy="454.8" r="2.2"/><circle cx="534.9" cy="412.8" r="2.2"/><circle cx="506" cy="441.9" r="2.2"/><circle cx="526.4" cy="426.1" r="2.2"/><circle cx="409" cy="449.8" r="2.2"/><circle cx="391.5" cy="433" r="2.2"/><circle cx="557.4" cy="385" r="2.2"/><circle cx="546.2" cy="400.2" r="2.2"/><circle cx="404.8" cy="448.4" r="2.2"/><circle cx="505.4" cy="445.4" r="2.2"/><circle cx="457.1" cy="461.5" r="2.2"/><circle cx="534.8" cy="417.4" r="2.2"/><circle cx="467.7" cy="457.7" r="2.2"/><circle cx="478.7" cy="457.8" r="2.2"/><circle cx="513.5" cy="431.6" r="2.2"/><circle cx="447.2" cy="462.4" r="2.2"/><circle cx="480.9" cy="456.4" r="2.2"/><circle cx="441.5" cy="459.3" r="2.2"/><circle cx="424.1" cy="457.4" r="2.2"/><circle cx="432.1" cy="457.2" r="2.2"/><circle cx="549" cy="398.2" r="2.2"/><circle cx="472.1" cy="460.7" r="2.2"/><circle cx="463.4" cy="465.1" r="2.2"/><circle cx="481.5" cy="458.1" r="2.2"/><circle cx="565.7" cy="373.8" r="2.2"/><circle cx="517.8" cy="436.3" r="2.2"/><circle cx="470.4" cy="459.1" r="2.2"/><circle cx="441" cy="462.6" r="2.2"/><circle cx="489.3" cy="453.8" r="2.2"/><circle cx="551.4" cy="388.1" r="2.2"/><circle cx="504.2" cy="447.8" r="2.2"/><circle cx="563.2" cy="371.5" r="2.2"/><circle cx="447.2" cy="461.1" r="2.2"/><circle cx="465.5" cy="465.4" r="2.2"/><circle cx="477.1" cy="461.3" r="2.2"/><circle cx="400" cy="442.2" r="2.2"/><circle cx="471.7" cy="464.8" r="2.2"/><circle cx="573.6" cy="362.3" r="2.2"/><circle cx="514.3" cy="439.1" r="2.2"/><circle cx="508.4" cy="438.6" r="2.2"/><circle cx="406.4" cy="441.3" r="2.2"/><circle cx="559.5" cy="379.4" r="2.2"/><circle cx="451.6" cy="461.5" r="2.2"/><circle cx="535.6" cy="413.8" r="2.2"/><circle cx="480.9" cy="461.6" r="2.2"/><circle cx="452" cy="457.6" r="2.2"/><circle cx="558.3" cy="381.2" r="2.2"/><circle cx="511.9" cy="434" r="2.2"/><circle cx="538.3" cy="407" r="2.2"/><circle cx="478.6" cy="453.8" r="2.2"/><circle cx="525.8" cy="427.2" r="2.2"/><circle cx="490.9" cy="450.6" r="2.2"/><circle cx="425.3" cy="456.9" r="2.2"/><circle cx="458" cy="460.8" r="2.2"/><circle cx="444.6" cy="459.1" r="2.2"/><circle cx="480.1" cy="459.4" r="2.2"/><circle cx="477.7" cy="455.4" r="2.2"/><circle cx="529.9" cy="422.6" r="2.2"/><circle cx="394.4" cy="436.2" r="2.2"/><circle cx="493.6" cy="449.1" r="2.2"/><circle cx="555.6" cy="385.7" r="2.2"/><circle cx="515.9" cy="429.6" r="2.2"/><circle cx="516.7" cy="434.5" r="2.2"/><circle cx="452.7" cy="460.5" r="2.2"/><circle cx="388.9" cy="432" r="2.2"/><circle cx="562.3" cy="372.4" r="2.2"/><circle cx="468.7" cy="462" r="2.2"/><circle cx="408.2" cy="448.9" r="2.2"/><circle cx="499.7" cy="446.4" r="2.2"/><circle cx="394.3" cy="437.5" r="2.2"/><circle cx="437.8" cy="463" r="2.2"/><circle cx="571.5" cy="356.5" r="2.2"/><circle cx="565.4" cy="371.4" r="2.2"/><circle cx="395.8" cy="440.3" r="2.2"/><circle cx="561.8" cy="377.2" r="2.2"/><circle cx="510.8" cy="435.9" r="2.2"/><circle cx="496.6" cy="450.6" r="2.2"/><circle cx="475.8" cy="461" r="2.2"/><circle cx="568.4" cy="367.7" r="2.2"/><circle cx="526.5" cy="423" r="2.2"/><circle cx="458" cy="459.2" r="2.2"/><circle cx="414.4" cy="451.3" r="2.2"/><circle cx="395.9" cy="437.4" r="2.2"/><circle cx="526.9" cy="419.9" r="2.2"/><circle cx="538" cy="410.2" r="2.2"/><circle cx="500" cy="450.8" r="2.2"/><circle cx="460.7" cy="465.3" r="2.2"/><circle cx="528" cy="421" r="2.2"/><circle cx="422.3" cy="453.5" r="2.2"/><circle cx="459.8" cy="461.2" r="2.2"/><circle cx="575.7" cy="355.4" r="2.2"/><circle cx="420.9" cy="453.7" r="2.2"/><circle cx="529.6" cy="416.9" r="2.2"/><circle cx="476.8" cy="460.1" r="2.2"/><circle cx="569.1" cy="366.4" r="2.2"/><circle cx="392.2" cy="438.4" r="2.2"/><circle cx="453.6" cy="458.4" r="2.2"/><circle cx="438.9" cy="463.8" r="2.2"/><circle cx="504.8" cy="442.1" r="2.2"/><circle cx="511.8" cy="435.2" r="2.2"/><circle cx="398.4" cy="444.1" r="2.2"/><circle cx="426.1" cy="458.1" r="2.2"/><circle cx="531.4" cy="415.7" r="2.2"/><circle cx="523.9" cy="427.7" r="2.2"/><circle cx="485.6" cy="459.4" r="2.2"/><circle cx="460.2" cy="458.9" r="2.2"/><circle cx="392.5" cy="430.9" r="2.2"/><circle cx="532.4" cy="416.3" r="2.2"/><circle cx="521.9" cy="432.8" r="2.2"/><circle cx="434.5" cy="461" r="2.2"/><circle cx="565.2" cy="372.8" r="2.2"/><circle cx="422.8" cy="457" r="2.2"/><circle cx="432.5" cy="459.8" r="2.2"/><circle cx="418.8" cy="451.8" r="2.2"/><circle cx="426.9" cy="458.8" r="2.2"/><circle cx="476.6" cy="462.3" r="2.2"/><circle cx="564.2" cy="375.4" r="2.2"/><circle cx="508.2" cy="436.8" r="2.2"/><circle cx="416.5" cy="451.6" r="2.2"/><circle cx="453.3" cy="467.1" r="2.2"/><circle cx="444.5" cy="461.1" r="2.2"/><circle cx="452.1" cy="466" r="2.2"/><circle cx="439.5" cy="462.6" r="2.2"/><circle cx="474.9" cy="457" r="2.2"/><circle cx="521.2" cy="425.8" r="2.2"/><circle cx="402.1" cy="443.5" r="2.2"/><circle cx="400.4" cy="440.2" r="2.2"/><circle cx="570.4" cy="360.7" r="2.2"/><circle cx="574.9" cy="352.4" r="2.2"/><circle cx="488.6" cy="455.5" r="2.2"/><circle cx="415.3" cy="450.5" r="2.2"/><circle cx="514.9" cy="436.9" r="2.2"/><circle cx="480" cy="457.1" r="2.2"/><circle cx="528" cy="418.3" r="2.2"/><circle cx="437.5" cy="465.2" r="2.2"/><circle cx="423" cy="454.3" r="2.2"/><circle cx="514.8" cy="433.5" r="2.2"/><circle cx="500.1" cy="443.1" r="2.2"/><circle cx="473.6" cy="456.8" r="2.2"/><circle cx="568.3" cy="369.1" r="2.2"/><circle cx="424" cy="456.1" r="2.2"/><circle cx="409.3" cy="446.8" r="2.2"/><circle cx="494.9" cy="449.1" r="2.2"/><circle cx="501.6" cy="444.6" r="2.2"/><circle cx="416.5" cy="453.6" r="2.2"/><circle cx="570.2" cy="359.4" r="2.2"/><circle cx="414.2" cy="449.8" r="2.2"/><circle cx="525.1" cy="428.2" r="2.2"/><circle cx="515" cy="435" r="2.2"/><circle cx="453.2" cy="462" r="2.2"/><circle cx="460.5" cy="464.1" r="2.2"/><circle cx="466.6" cy="461.9" r="2.2"/><circle cx="410.3" cy="449.1" r="2.2"/><circle cx="413.4" cy="453.2" r="2.2"/><circle cx="550.5" cy="392.9" r="2.2"/><circle cx="554.4" cy="389.6" r="2.2"/><circle cx="563.3" cy="372.8" r="2.2"/><circle cx="558.4" cy="384.9" r="2.2"/><circle cx="472.8" cy="463.7" r="2.2"/><circle cx="547.9" cy="402" r="2.2"/><circle cx="563.2" cy="374" r="2.2"/><circle cx="532" cy="418.8" r="2.2"/><circle cx="486.3" cy="457.9" r="2.2"/><circle cx="462.7" cy="464.2" r="2.2"/><circle cx="436.1" cy="462.8" r="2.2"/><circle cx="424.1" cy="454.5" r="2.2"/><circle cx="518.5" cy="433.9" r="2.2"/><circle cx="445.1" cy="465.8" r="2.2"/><circle cx="462.1" cy="462.3" r="2.2"/><circle cx="453.7" cy="464.1" r="2.2"/><circle cx="564.1" cy="372" r="2.2"/><circle cx="526.6" cy="424.2" r="2.2"/><circle cx="427.6" cy="456.5" r="2.2"/><circle cx="443.8" cy="464.3" r="2.2"/><circle cx="484.1" cy="451.6" r="2.2"/><circle cx="566.4" cy="370.8" r="2.2"/><circle cx="523.1" cy="429.2" r="2.2"/><circle cx="438.1" cy="461.5" r="2.2"/><circle cx="393.4" cy="438.1" r="2.2"/><circle cx="543.9" cy="401.7" r="2.2"/><circle cx="426.9" cy="460" r="2.2"/><circle cx="503.4" cy="448.8" r="2.2"/><circle cx="462.4" cy="459.9" r="2.2"/><circle cx="439.9" cy="461.4" r="2.2"/><circle cx="438.1" cy="460.5" r="2.2"/><circle cx="456.4" cy="464.3" r="2.2"/><circle cx="476" cy="454.4" r="2.2"/><circle cx="457" cy="466.7" r="2.2"/><circle cx="480.3" cy="454.4" r="2.2"/><circle cx="507" cy="445.1" r="2.2"/><circle cx="559" cy="380.4" r="2.2"/><circle cx="543.9" cy="404.7" r="2.2"/><circle cx="559.3" cy="383.5" r="2.2"/><circle cx="564.5" cy="369.6" r="2.2"/><circle cx="555" cy="387.5" r="2.2"/><circle cx="445.7" cy="462" r="2.2"/><circle cx="414.9" cy="455.3" r="2.2"/><circle cx="513.7" cy="442" r="2.2"/><circle cx="539.1" cy="413.6" r="2.2"/><circle cx="520.4" cy="427.6" r="2.2"/><circle cx="433.9" cy="455.6" r="2.2"/><circle cx="457.4" cy="465.6" r="2.2"/><circle cx="552.2" cy="391" r="2.2"/><circle cx="397.4" cy="435.8" r="2.2"/><circle cx="505.1" cy="439.3" r="2.2"/><circle cx="455.2" cy="458.8" r="2.2"/><circle cx="556.4" cy="386.2" r="2.2"/><circle cx="503" cy="446.9" r="2.2"/><circle cx="545.6" cy="398" r="2.2"/><circle cx="469.6" cy="463.3" r="2.2"/><circle cx="451.4" cy="468.8" r="2.2"/><circle cx="513.2" cy="438.3" r="2.2"/><circle cx="492.5" cy="448.6" r="2.2"/><circle cx="559.7" cy="382.2" r="2.2"/><circle cx="557.3" cy="380.1" r="2.2"/><circle cx="404.5" cy="444.3" r="2.2"/><circle cx="558.9" cy="378" r="2.2"/><circle cx="456.8" cy="460.4" r="2.2"/><circle cx="486.9" cy="450.4" r="2.2"/><circle cx="496.5" cy="444.8" r="2.2"/><circle cx="490.6" cy="455.3" r="2.2"/><circle cx="440.5" cy="459.8" r="2.2"/><circle cx="493.2" cy="445.6" r="2.2"/><circle cx="574.7" cy="354.7" r="2.2"/><circle cx="407.2" cy="443.8" r="2.2"/><circle cx="442.4" cy="456.2" r="2.2"/><circle cx="438.6" cy="458.7" r="2.2"/><circle cx="496.3" cy="449.6" r="2.2"/><circle cx="570.1" cy="364.7" r="2.2"/><circle cx="550.9" cy="393.8" r="2.2"/><circle cx="472.5" cy="456.1" r="2.2"/><circle cx="417.8" cy="455" r="2.2"/><circle cx="474.2" cy="462.3" r="2.2"/><circle cx="565.5" cy="368.4" r="2.2"/><circle cx="533.3" cy="416.9" r="2.2"/><circle cx="408" cy="442.5" r="2.2"/><circle cx="459.2" cy="459.6" r="2.2"/><circle cx="571.3" cy="366.3" r="2.2"/><circle cx="541.2" cy="408" r="2.2"/><circle cx="396" cy="435.6" r="2.2"/><circle cx="430" cy="460.2" r="2.2"/><circle cx="517" cy="429.6" r="2.2"/><circle cx="553.2" cy="387.7" r="2.2"/><circle cx="543.5" cy="398.8" r="2.2"/><circle cx="413" cy="449.5" r="2.2"/><circle cx="522.6" cy="425.1" r="2.2"/><circle cx="484.8" cy="455.8" r="2.2"/><circle cx="407.3" cy="445.2" r="2.2"/><circle cx="460.4" cy="459.9" r="2.2"/><circle cx="448.8" cy="459.5" r="2.2"/><circle cx="524.9" cy="426.6" r="2.2"/><circle cx="415.5" cy="448.8" r="2.2"/><circle cx="562.9" cy="377.8" r="2.2"/><circle cx="551.5" cy="389.9" r="2.2"/><circle cx="392.2" cy="434.6" r="2.2"/><circle cx="509.7" cy="442.4" r="2.2"/><circle cx="529.3" cy="419" r="2.2"/><circle cx="471.1" cy="457.5" r="2.2"/><circle cx="532.5" cy="417.8" r="2.2"/><circle cx="394.8" cy="434" r="2.2"/><circle cx="536" cy="412.1" r="2.2"/><circle cx="544.2" cy="407.6" r="2.2"/><circle cx="536.6" cy="409.5" r="2.2"/><circle cx="506.8" cy="439.6" r="2.2"/><circle cx="441.4" cy="465.5" r="2.2"/><circle cx="489" cy="451.9" r="2.2"/><circle cx="462.3" cy="466.2" r="2.2"/><circle cx="500" cy="448.7" r="2.2"/><circle cx="405.1" cy="445.2" r="2.2"/><circle cx="448.1" cy="464.5" r="2.2"/><circle cx="454" cy="460.3" r="2.2"/><circle cx="491.6" cy="454.7" r="2.2"/><circle cx="498.7" cy="443.6" r="2.2"/><circle cx="430.8" cy="462.5" r="2.2"/><circle cx="425.4" cy="454" r="2.2"/><circle cx="431.7" cy="464.8" r="2.2"/><circle cx="467.4" cy="463.9" r="2.2"/><circle cx="520.1" cy="428.7" r="2.2"/><circle cx="518.6" cy="427.9" r="2.2"/><circle cx="467.8" cy="465.1" r="2.2"/><circle cx="575.5" cy="353.4" r="2.2"/><circle cx="535.2" cy="411" r="2.2"/><circle cx="426.5" cy="461.4" r="2.2"/><circle cx="545.2" cy="399.5" r="2.2"/><circle cx="537.7" cy="411.4" r="2.2"/><circle cx="434.9" cy="458.4" r="2.2"/><circle cx="412.2" cy="455.7" r="2.2"/><circle cx="534" cy="414.5" r="2.2"/><circle cx="445.1" cy="463.4" r="2.2"/><circle cx="516.6" cy="437.9" r="2.2"/><circle cx="412.4" cy="447.5" r="2.2"/><circle cx="484.4" cy="460.4" r="2.2"/><circle cx="494.6" cy="451.4" r="2.2"/><circle cx="433.5" cy="457.9" r="2.2"/><circle cx="445.8" cy="460.4" r="2.2"/><circle cx="537.3" cy="415.4" r="2.2"/><circle cx="490.3" cy="457" r="2.2"/><circle cx="566.2" cy="369.3" r="2.2"/><circle cx="433.3" cy="461.2" r="2.2"/><circle cx="501.4" cy="441.9" r="2.2"/><circle cx="496.8" cy="452.7" r="2.2"/><circle cx="513" cy="435.8" r="2.2"/><circle cx="417.3" cy="452.2" r="2.2"/><circle cx="482" cy="459.1" r="2.2"/><circle cx="401.1" cy="439" r="2.2"/><circle cx="523.9" cy="433" r="2.2"/><circle cx="505" cy="440.7" r="2.2"/><circle cx="501.1" cy="451.2" r="2.2"/><circle cx="541.8" cy="402.4" r="2.2"/><circle cx="431" cy="458.4" r="2.2"/><circle cx="540" cy="402.2" r="2.2"/><circle cx="392.7" cy="436.9" r="2.2"/><circle cx="530.2" cy="419.4" r="2.2"/><circle cx="448" cy="463.4" r="2.2"/><circle cx="496.8" cy="445.9" r="2.2"/><circle cx="450.3" cy="456.6" r="2.2"/><circle cx="418.5" cy="456.3" r="2.2"/><circle cx="390" cy="434" r="2.2"/><circle cx="485.5" cy="460.8" r="2.2"/><circle cx="389.2" cy="428.5" r="2.2"/><circle cx="390.5" cy="436.4" r="2.2"/><circle cx="467.5" cy="461.4" r="2.2"/><circle cx="409.9" cy="445.6" r="2.2"/><circle cx="464.7" cy="467.2" r="2.2"/><circle cx="450.1" cy="464.9" r="2.2"/><circle cx="406.3" cy="447" r="2.2"/><circle cx="482.3" cy="454.9" r="2.2"/><circle cx="529.5" cy="426.1" r="2.2"/><circle cx="448.2" cy="460.5" r="2.2"/><circle cx="433.8" cy="459" r="2.2"/><circle cx="546.2" cy="397" r="2.2"/><circle cx="494.4" cy="448.1" r="2.2"/><circle cx="431.5" cy="456.1" r="2.2"/><circle cx="461.3" cy="458.3" r="2.2"/><circle cx="398.8" cy="442" r="2.2"/><circle cx="408.4" cy="447.2" r="2.2"/><circle cx="447.7" cy="458.6" r="2.2"/><circle cx="402.3" cy="440.9" r="2.2"/><circle cx="436.7" cy="460.5" r="2.2"/><circle cx="434.9" cy="462.5" r="2.2"/><circle cx="525.4" cy="429.5" r="2.2"/><circle cx="477.1" cy="463.2" r="2.2"/><circle cx="425.9" cy="459.2" r="2.2"/><circle cx="544.3" cy="405.6" r="2.2"/><circle cx="403.6" cy="441.2" r="2.2"/><circle cx="502.3" cy="443.7" r="2.2"/><circle cx="394" cy="439" r="2.2"/><circle cx="422.5" cy="451.3" r="2.2"/><circle cx="557.1" cy="381.7" r="2.2"/><circle cx="483.5" cy="462" r="2.2"/><circle cx="483.9" cy="457" r="2.2"/><circle cx="537" cy="412.3" r="2.2"/><circle cx="570.2" cy="366.4" r="2.2"/><circle cx="462.9" cy="457.9" r="2.2"/><circle cx="557.3" cy="388.3" r="2.2"/><circle cx="502" cy="448.9" r="2.2"/><circle cx="439.5" cy="459.2" r="2.2"/><circle cx="572.1" cy="354.6" r="2.2"/><circle cx="449.4" cy="463.8" r="2.2"/><circle cx="522" cy="429.5" r="2.2"/><circle cx="569.2" cy="364.1" r="2.2"/><circle cx="459.5" cy="467.1" r="2.2"/><circle cx="411.3" cy="443.3" r="2.2"/><circle cx="521.5" cy="430.8" r="2.2"/><circle cx="461" cy="460.9" r="2.2"/><circle cx="531.6" cy="413.8" r="2.2"/><circle cx="401.6" cy="448" r="2.2"/><circle cx="564.3" cy="373.5" r="2.2"/><circle cx="510.8" cy="433.8" r="2.2"/><circle cx="551.3" cy="396.5" r="2.2"/><circle cx="527.4" cy="423.5" r="2.2"/><circle cx="495.3" cy="454" r="2.2"/><circle cx="442.3" cy="462.3" r="2.2"/><circle cx="460.2" cy="468.1" r="2.2"/><circle cx="475.3" cy="463.5" r="2.2"/><circle cx="442.7" cy="459.1" r="2.2"/><circle cx="552.6" cy="392.7" r="2.2"/><circle cx="480.4" cy="465" r="2.2"/><circle cx="470.2" cy="464.5" r="2.2"/><circle cx="550.4" cy="391.2" r="2.2"/><circle cx="563" cy="381.1" r="2.2"/><circle cx="463.9" cy="458.9" r="2.2"/><circle cx="546.6" cy="402.8" r="2.2"/><circle cx="572.6" cy="361.9" r="2.2"/><circle cx="403.1" cy="447.7" r="2.2"/><circle cx="400.3" cy="444.8" r="2.2"/><circle cx="565.5" cy="367" r="2.2"/><circle cx="441.3" cy="457.2" r="2.2"/><circle cx="432.2" cy="458.9" r="2.2"/><circle cx="446.5" cy="459.7" r="2.2"/><circle cx="527.4" cy="427.4" r="2.2"/><circle cx="454.4" cy="468" r="2.2"/><circle cx="496.7" cy="447.4" r="2.2"/><circle cx="515.1" cy="431.2" r="2.2"/><circle cx="552.7" cy="385.7" r="2.2"/><circle cx="410.9" cy="454.1" r="2.2"/><circle cx="503.9" cy="439.2" r="2.2"/><circle cx="435.3" cy="464.2" r="2.2"/><circle cx="473.9" cy="463.4" r="2.2"/><circle cx="541.5" cy="409.1" r="2.2"/><circle cx="511" cy="437.3" r="2.2"/><circle cx="491.3" cy="451.6" r="2.2"/><circle cx="446.4" cy="458.5" r="2.2"/><circle cx="401" cy="441.2" r="2.2"/><circle cx="450.1" cy="467.9" r="2.2"/><circle cx="549" cy="396.8" r="2.2"/><circle cx="461.7" cy="463.2" r="2.2"/><circle cx="508.9" cy="445" r="2.2"/><circle cx="408.8" cy="452.6" r="2.2"/><circle cx="401.7" cy="446" r="2.2"/><circle cx="526" cy="420.6" r="2.2"/><circle cx="546.8" cy="397.9" r="2.2"/><circle cx="492.5" cy="456.9" r="2.2"/><circle cx="391.7" cy="436.5" r="2.2"/><circle cx="540.7" cy="410.4" r="2.2"/><circle cx="561.1" cy="376.2" r="2.2"/><circle cx="518.7" cy="436.6" r="2.2"/><circle cx="420.6" cy="455.3" r="2.2"/><circle cx="428.7" cy="464.9" r="2.2"/><circle cx="553" cy="389.7" r="2.2"/><circle cx="573.2" cy="353.7" r="2.2"/><circle cx="470" cy="457.7" r="2.2"/><circle cx="517.9" cy="431.4" r="2.2"/><circle cx="390.3" cy="437.8" r="2.2"/><circle cx="478.6" cy="456.6" r="2.2"/><circle cx="436.3" cy="461.5" r="2.2"/><circle cx="424.8" cy="458.3" r="2.2"/><circle cx="448.1" cy="461.6" r="2.2"/><circle cx="539.4" cy="410.7" r="2.2"/><circle cx="435" cy="459.4" r="2.2"/><circle cx="391.3" cy="431.3" r="2.2"/><circle cx="544.4" cy="403.2" r="2.2"/><circle cx="542.1" cy="406.3" r="2.2"/><circle cx="465.8" cy="456.6" r="2.2"/><circle cx="389" cy="433.7" r="2.2"/><circle cx="532" cy="419.9" r="2.2"/><circle cx="451.8" cy="460" r="2.2"/><circle cx="569.2" cy="359.3" r="2.2"/><circle cx="520.3" cy="432.9" r="2.2"/><circle cx="449.7" cy="458.2" r="2.2"/><circle cx="448.5" cy="466.9" r="2.2"/><circle cx="441.8" cy="460.9" r="2.2"/><circle cx="479.7" cy="452.5" r="2.2"/><circle cx="432.1" cy="461.2" r="2.2"/><circle cx="431.1" cy="454.1" r="2.2"/><circle cx="451.4" cy="464.8" r="2.2"/><circle cx="433.1" cy="462.7" r="2.2"/><circle cx="468.4" cy="456.1" r="2.2"/><circle cx="497.6" cy="449.7" r="2.2"/><circle cx="485.2" cy="452.4" r="2.2"/><circle cx="433.6" cy="456.7" r="2.2"/><circle cx="474" cy="455.4" r="2.2"/><circle cx="574.3" cy="358.7" r="2.2"/><circle cx="554.4" cy="385.3" r="2.2"/><circle cx="465.4" cy="464.1" r="2.2"/><circle cx="508.3" cy="442.3" r="2.2"/><circle cx="521.7" cy="426.7" r="2.2"/><circle cx="560.7" cy="379.4" r="2.2"/><circle cx="528.1" cy="426.6" r="2.2"/><circle cx="407.5" cy="450.1" r="2.2"/><circle cx="542.1" cy="403.9" r="2.2"/><circle cx="490.3" cy="448.8" r="2.2"/><circle cx="551" cy="395.6" r="2.2"/><circle cx="530.8" cy="423.5" r="2.2"/><circle cx="388" cy="431.2" r="2.2"/><circle cx="536.6" cy="411.3" r="2.2"/><circle cx="412.4" cy="450.6" r="2.2"/><circle cx="419.9" cy="454" r="2.2"/><circle cx="421.6" cy="457" r="2.2"/><circle cx="403.4" cy="449.7" r="2.2"/><circle cx="476.9" cy="464.4" r="2.2"/><circle cx="442.5" cy="465.5" r="2.2"/><circle cx="530.4" cy="416.2" r="2.2"/><circle cx="513.5" cy="439.8" r="2.2"/><circle cx="549.3" cy="393.4" r="2.2"/><circle cx="553.8" cy="393.2" r="2.2"/><circle cx="419.9" cy="457.8" r="2.2"/><circle cx="573.9" cy="357.4" r="2.2"/><circle cx="460.9" cy="466.4" r="2.2"/><circle cx="567.9" cy="364.1" r="2.2"/><circle cx="401.4" cy="440.2" r="2.2"/><circle cx="543.8" cy="396.5" r="2.2"/><circle cx="494.3" cy="454.2" r="2.2"/><circle cx="445.6" cy="466.8" r="2.2"/><circle cx="403.7" cy="439.8" r="2.2"/><circle cx="509.9" cy="439.9" r="2.2"/><circle cx="484.6" cy="453.3" r="2.2"/><circle cx="433" cy="464.9" r="2.2"/><circle cx="561" cy="383.1" r="2.2"/><circle cx="456.5" cy="459.4" r="2.2"/><circle cx="452.2" cy="463" r="2.2"/><circle cx="555.1" cy="384.6" r="2.2"/><circle cx="455.4" cy="466" r="2.2"/><circle cx="560.8" cy="377.9" r="2.2"/><circle cx="513.9" cy="432.8" r="2.2"/><circle cx="526.4" cy="428.1" r="2.2"/><circle cx="543.6" cy="400" r="2.2"/><circle cx="398.8" cy="445.4" r="2.2"/><circle cx="499.8" cy="444.3" r="2.2"/><circle cx="508.8" cy="440.4" r="2.2"/><circle cx="562" cy="380.5" r="2.2"/><circle cx="419.6" cy="455.2" r="2.2"/><circle cx="517.7" cy="435" r="2.2"/><circle cx="525.9" cy="418.3" r="2.2"/><circle cx="553.9" cy="390.5" r="2.2"/><circle cx="566.9" cy="372.4" r="2.2"/><circle cx="438.8" cy="464.8" r="2.2"/><circle cx="429.8" cy="454.2" r="2.2"/><circle cx="531.3" cy="422.2" r="2.2"/><circle cx="425.3" cy="461.8" r="2.2"/><circle cx="413.5" cy="448.3" r="2.2"/><circle cx="529.9" cy="418.3" r="2.2"/><circle cx="471.5" cy="459.6" r="2.2"/><circle cx="463.9" cy="457.3" r="2.2"/><circle cx="402.5" cy="442" r="2.2"/><circle cx="422" cy="455.1" r="2.2"/><circle cx="529.2" cy="423.4" r="2.2"/><circle cx="449.9" cy="461.6" r="2.2"/><circle cx="401.7" cy="444.9" r="2.2"/><circle cx="487.8" cy="451.8" r="2.2"/><circle cx="545.4" cy="403.6" r="2.2"/><circle cx="409.4" cy="448.1" r="2.2"/><circle cx="401.2" cy="437" r="2.2"/><circle cx="496.4" cy="443.4" r="2.2"/><circle cx="446.8" cy="465.9" r="2.2"/><circle cx="429" cy="461.9" r="2.2"/><circle cx="542.8" cy="405.2" r="2.2"/><circle cx="482.6" cy="455.8" r="2.2"/><circle cx="414.7" cy="456.8" r="2.2"/><circle cx="415.7" cy="454.3" r="2.2"/><circle cx="416.3" cy="457" r="2.2"/><circle cx="504.8" cy="444.2" r="2.2"/><circle cx="537.5" cy="408.4" r="2.2"/><circle cx="450.7" cy="460.7" r="2.2"/><circle cx="548" cy="393.4" r="2.2"/><circle cx="523.5" cy="421.5" r="2.2"/><circle cx="455.4" cy="459.8" r="2.2"/><circle cx="405" cy="449.6" r="2.2"/><circle cx="395.2" cy="432.6" r="2.2"/><circle cx="444.9" cy="464.4" r="2.2"/><circle cx="488.3" cy="457.4" r="2.2"/><circle cx="483.8" cy="454.8" r="2.2"/><circle cx="490.5" cy="453.2" r="2.2"/><circle cx="409.8" cy="452.7" r="2.2"/><circle cx="511.8" cy="443.3" r="2.2"/><circle cx="443" cy="463.7" r="2.2"/><circle cx="557.9" cy="383.7" r="2.2"/><circle cx="538" cy="412.6" r="2.2"/><circle cx="398.4" cy="440" r="2.2"/><circle cx="395.9" cy="443.2" r="2.2"/><circle cx="471.3" cy="463.7" r="2.2"/><circle cx="427.5" cy="458" r="2.2"/><circle cx="533.1" cy="413.2" r="2.2"/><circle cx="487.4" cy="453.5" r="2.2"/><circle cx="451.7" cy="467.7" r="2.2"/><circle cx="454.9" cy="460.8" r="2.2"/><circle cx="502.3" cy="449.9" r="2.2"/><circle cx="398.2" cy="438.2" r="2.2"/><circle cx="502.8" cy="441.9" r="2.2"/><circle cx="545" cy="400.6" r="2.2"/><circle cx="510.7" cy="442" r="2.2"/><circle cx="513" cy="434.5" r="2.2"/><circle cx="398.2" cy="434.2" r="2.2"/><circle cx="511.1" cy="441" r="2.2"/><circle cx="571.3" cy="358.6" r="2.2"/><circle cx="417.8" cy="450.8" r="2.2"/><circle cx="404.6" cy="443" r="2.2"/><circle cx="492.8" cy="449.7" r="2.2"/><circle cx="472.1" cy="466.2" r="2.2"/><circle cx="535.8" cy="416.7" r="2.2"/><circle cx="499" cy="451.2" r="2.2"/><circle cx="406.5" cy="449.4" r="2.2"/><circle cx="415.5" cy="452" r="2.2"/><circle cx="446.8" cy="467.7" r="2.2"/><circle cx="537.1" cy="416.9" r="2.2"/><circle cx="507.4" cy="438" r="2.2"/><circle cx="398.9" cy="443.2" r="2.2"/><circle cx="418.5" cy="452.8" r="2.2"/><circle cx="542.3" cy="407.5" r="2.2"/><circle cx="440.3" cy="464" r="2.2"/><circle cx="515.6" cy="434.2" r="2.2"/><circle cx="554.5" cy="386.4" r="2.2"/><circle cx="408.8" cy="444.9" r="2.2"/><circle cx="416" cy="447.8" r="2.2"/><circle cx="519" cy="437.7" r="2.2"/><circle cx="536.6" cy="414.3" r="2.2"/><circle cx="420.3" cy="452.1" r="2.2"/><circle cx="558.2" cy="379" r="2.2"/><circle cx="505.5" cy="447.8" r="2.2"/><circle cx="572.4" cy="363" r="2.2"/><circle cx="401.7" cy="437.9" r="2.2"/><circle cx="389.5" cy="430.4" r="2.2"/><circle cx="529.1" cy="424.9" r="2.2"/><circle cx="549.8" cy="399.7" r="2.2"/><circle cx="456.4" cy="465.3" r="2.2"/><circle cx="495.5" cy="445.3" r="2.2"/><circle cx="490.8" cy="447.8" r="2.2"/><circle cx="499.2" cy="445.3" r="2.2"/><circle cx="435.5" cy="457" r="2.2"/><circle cx="463.1" cy="461.7" r="2.2"/><circle cx="527.8" cy="417.2" r="2.2"/><circle cx="444.4" cy="457.5" r="2.2"/><circle cx="417" cy="456" r="2.2"/><circle cx="407.1" cy="446.2" r="2.2"/><circle cx="475" cy="461.7" r="2.2"/><circle cx="446.1" cy="464.7" r="2.2"/><circle cx="519.4" cy="427" r="2.2"/><circle cx="482.8" cy="460.6" r="2.2"/><circle cx="426.6" cy="456.8" r="2.2"/><circle cx="509.5" cy="435.2" r="2.2"/><circle cx="422.1" cy="457.9" r="2.2"/><circle cx="522.9" cy="433" r="2.2"/><circle cx="535" cy="418.6" r="2.2"/><circle cx="440.3" cy="458.1" r="2.2"/><circle cx="546.2" cy="399.2" r="2.2"/><circle cx="424.2" cy="459.5" r="2.2"/><circle cx="411.1" cy="444.5" r="2.2"/><circle cx="557.8" cy="386.6" r="2.2"/><circle cx="450.7" cy="462.3" r="2.2"/><circle cx="471.4" cy="455.6" r="2.2"/><circle cx="504.2" cy="437.8" r="2.2"/><circle cx="520.1" cy="425.6" r="2.2"/><circle cx="562.2" cy="374.4" r="2.2"/><circle cx="453.2" cy="459.3" r="2.2"/><circle cx="488.1" cy="449.9" r="2.2"/><circle cx="494.5" cy="456.2" r="2.2"/><circle cx="389.4" cy="435.1" r="2.2"/><circle cx="569" cy="365.3" r="2.2"/><circle cx="397.8" cy="441.9" r="2.2"/><circle cx="548.4" cy="394.9" r="2.2"/><circle cx="461" cy="468.8" r="2.2"/><circle cx="493.6" cy="451.3" r="2.2"/><circle cx="521.2" cy="424.2" r="2.2"/><circle cx="540.9" cy="412.3" r="2.2"/><circle cx="472.6" cy="459.8" r="2.2"/><circle cx="388.2" cy="428.2" r="2.2"/><circle cx="430.7" cy="457.1" r="2.2"/><circle cx="436.5" cy="458.5" r="2.2"/><circle cx="408" cy="451.2" r="2.2"/><circle cx="469.4" cy="456.6" r="2.2"/><circle cx="469.2" cy="467.3" r="2.2"/><circle cx="499.7" cy="454.1" r="2.2"/><circle cx="394.3" cy="440.2" r="2.2"/><circle cx="573.7" cy="355.3" r="2.2"/><circle cx="482.1" cy="463.1" r="2.2"/><circle cx="553.6" cy="392.2" r="2.2"/><circle cx="523" cy="424.1" r="2.2"/><circle cx="393.1" cy="439.8" r="2.2"/><circle cx="524" cy="431.2" r="2.2"/><circle cx="434.9" cy="466.4" r="2.2"/><circle cx="521.3" cy="434.6" r="2.2"/><circle cx="395" cy="442.7" r="2.2"/><circle cx="497.8" cy="453" r="2.2"/><circle cx="551.5" cy="392" r="2.2"/><circle cx="569.4" cy="368.1" r="2.2"/><circle cx="482.4" cy="453.2" r="2.2"/><circle cx="510.6" cy="443.4" r="2.2"/><circle cx="457.9" cy="457.8" r="2.2"/><circle cx="512.7" cy="433" r="2.2"/><circle cx="510.6" cy="434.9" r="2.2"/><circle cx="507.6" cy="446.5" r="2.2"/><circle cx="455.8" cy="467.7" r="2.2"/><circle cx="505.3" cy="438.1" r="2.2"/><circle cx="423.7" cy="458.5" r="2.2"/><circle cx="398.4" cy="437.2" r="2.2"/><circle cx="468.8" cy="457.8" r="2.2"/><circle cx="492.4" cy="458.9" r="2.2"/><circle cx="534.2" cy="422" r="2.2"/><circle cx="573.5" cy="352.1" r="2.2"/><circle cx="457.5" cy="462.6" r="2.2"/><circle cx="454.4" cy="466.2" r="2.2"/><circle cx="394.9" cy="438.3" r="2.2"/><circle cx="392.7" cy="433.5" r="2.2"/><circle cx="550.6" cy="398.6" r="2.2"/><circle cx="486.6" cy="459" r="2.2"/><circle cx="413.3" cy="452" r="2.2"/><circle cx="443.8" cy="460" r="2.2"/><circle cx="468" cy="466.7" r="2.2"/><circle cx="503.9" cy="450.9" r="2.2"/><circle cx="519.5" cy="433.7" r="2.2"/><circle cx="487.5" cy="455.2" r="2.2"/><circle cx="400.5" cy="445.8" r="2.2"/><circle cx="556.3" cy="384.8" r="2.2"/><circle cx="550.1" cy="397.7" r="2.2"/><circle cx="475.1" cy="459.2" r="2.2"/><circle cx="493" cy="447.1" r="2.2"/><circle cx="397.5" cy="443" r="2.2"/><circle cx="443.5" cy="458.4" r="2.2"/><circle cx="389.3" cy="436.7" r="2.2"/><circle cx="406.7" cy="451.8" r="2.2"/><circle cx="530.9" cy="414.7" r="2.2"/><circle cx="516.5" cy="430.6" r="2.2"/><circle cx="399.2" cy="437.9" r="2.2"/><circle cx="486.8" cy="457" r="2.2"/><circle cx="561.1" cy="372.3" r="2.2"/><circle cx="567.5" cy="371.3" r="2.2"/><circle cx="417.9" cy="457.2" r="2.2"/><circle cx="396.6" cy="441" r="2.2"/><circle cx="514.9" cy="430" r="2.2"/><circle cx="412.9" cy="454.9" r="2.2"/><circle cx="394.1" cy="431.5" r="2.2"/><circle cx="477.3" cy="454.3" r="2.2"/><circle cx="427.6" cy="455.4" r="2.2"/><circle cx="401.9" cy="447" r="2.2"/><circle cx="515.2" cy="428.4" r="2.2"/><circle cx="515.4" cy="442.4" r="2.2"/><circle cx="524.8" cy="420.1" r="2.2"/><circle cx="554.9" cy="388.6" r="2.2"/><circle cx="497.9" cy="448" r="2.2"/><circle cx="566.7" cy="367" r="2.2"/><circle cx="453.2" cy="463" r="2.2"/><circle cx="491.5" cy="448.8" r="2.2"/><circle cx="485.3" cy="451.1" r="2.2"/><circle cx="537" cy="407.5" r="2.2"/><circle cx="553.3" cy="384.9" r="2.2"/><circle cx="475.5" cy="455.6" r="2.2"/><circle cx="471.3" cy="461.7" r="2.2"/><circle cx="574.1" cy="360.8" r="2.2"/><circle cx="489.3" cy="458" r="2.2"/><circle cx="478.3" cy="464.7" r="2.2"/><circle cx="540" cy="406.3" r="2.2"/><circle cx="555.9" cy="383.1" r="2.2"/><circle cx="505" cy="437" r="2.2"/><circle cx="423.6" cy="453.4" r="2.2"/><circle cx="574" cy="363.4" r="2.2"/><circle cx="547.4" cy="398.8" r="2.2"/><circle cx="421.5" cy="459.5" r="2.2"/><circle cx="522.7" cy="431.9" r="2.2"/><circle cx="561.5" cy="382" r="2.2"/><circle cx="425" cy="455.9" r="2.2"/><circle cx="452.7" cy="464.3" r="2.2"/><circle cx="457" cy="458.5" r="2.2"/><circle cx="456.3" cy="457.6" r="2.2"/><circle cx="521.5" cy="435.8" r="2.2"/><circle cx="563.4" cy="369" r="2.2"/><circle cx="461.7" cy="456.7" r="2.2"/><circle cx="496.4" cy="451.8" r="2.2"/><circle cx="552.1" cy="394.9" r="2.2"/><circle cx="505.1" cy="449.3" r="2.2"/><circle cx="428.4" cy="459.4" r="2.2"/><circle cx="470.3" cy="455.9" r="2.2"/><circle cx="389.8" cy="429.4" r="2.2"/><circle cx="404.6" cy="447.3" r="2.2"/><circle cx="542.5" cy="400.8" r="2.2"/><circle cx="568.2" cy="372.5" r="2.2"/></g>
<path d="M567.1 368.2L567.1 368.1L567 368.2L566.8 368.4L566.5 368.7L566.2 369.2L565.7 369.7L565.2 370.4L564.7 371.2L564 372.2L563.3 373.2L562.5 374.4L561.6 375.6L560.7 377L559.7 378.5L558.6 380L557.5 381.7L556.3 383.4L555 385.2L553.7 387L552.3 389L550.8 391L549.3 393L547.8 395.1L546.1 397.3L544.5 399.4L542.8 401.6L541 403.8L539.2 406.1L537.3 408.3L535.4 410.6L533.5 412.8L531.5 415L529.5 417.2L527.5 419.4L525.4 421.6L523.3 423.7L521.2 425.8L519 427.9L516.9 429.9L514.7 431.9L512.5 433.8L510.3 435.6L508.1 437.4L505.9 439.1L503.7 440.8L501.5 442.4L499.3 443.9L497.1 445.4L494.9 446.8L492.7 448.1L490.5 449.3L488.4 450.5L486.2 451.6L484.1 452.6L482 453.5L479.9 454.4L477.9 455.2L475.9 456L473.9 456.6L472 457.2L470.1 457.8L468.2 458.3L466.4 458.7L464.6 459.1L462.9 459.4L461.3 459.7L459.6 460L458.1 460.2L456.6 460.4L455.1 460.5L453.7 460.6L452.4 460.7L451.1 460.8L449.9 460.8L448.8 460.9L447.7 460.9L446.7 460.9L445.8 460.9L444.9 460.9L444.1 461L443.4 461L442.7 461L442.2 461L441.7 461.1L441.2 461.1L440.9 461.2L440.6 461.3L440.4 461.3L440.3 461.5L440.3 461.6L440.3 461.7L440.4 461.9L440.6 462L440.9 462.2L441.2 462.4L441.7 462.6L442.2 462.8L442.7 463L443.4 463.3L444.1 463.5L444.9 463.7L445.8 463.9L446.7 464.2L447.7 464.4L448.8 464.6L449.9 464.7L451.1 464.9L452.4 465.1L453.7 465.2L455.1 465.3L456.6 465.3L458.1 465.3L459.6 465.3L461.3 465.2L462.9 465.1L464.6 464.9L466.4 464.7L468.2 464.4L470.1 464.1L472 463.6L473.9 463.1L475.9 462.6L477.9 462L479.9 461.3L482 460.5L484.1 459.6L486.2 458.7L488.4 457.6L490.5 456.5L492.7 455.3L494.9 454.1L497.1 452.7L499.3 451.3L501.5 449.8L503.7 448.2L505.9 446.5L508.1 444.8L510.3 443L512.5 441.1L514.7 439.1L516.9 437.1L519 435.1L521.2 432.9L523.3 430.8L525.4 428.5L527.5 426.3L529.5 424L531.5 421.7L533.5 419.3L535.4 417L537.3 414.6L539.2 412.2L541 409.8L542.8 407.4L544.5 405.1L546.1 402.7L547.8 400.4L549.3 398.2L550.8 395.9L552.3 393.7L553.7 391.6L555 389.5L556.3 387.5L557.5 385.6L558.6 383.7L559.7 381.9L560.7 380.2L561.6 378.6L562.5 377.1L563.3 375.7L564 374.5L564.7 373.3L565.2 372.2L565.7 371.3L566.2 370.4L566.5 369.7L566.8 369.2L567 368.7L567.1 368.4L567.1 368.2Z" stroke="#46075a" stroke-width="1.1" fill="none" stroke-linejoin="round" clip-path="url(#c9)"/>
<path d="M551.6 392.4L551.5 392.4L551.4 392.4L551.3 392.5L551.1 392.7L550.8 393L550.5 393.3L550.1 393.8L549.7 394.3L549.2 394.9L548.7 395.6L548.1 396.3L547.4 397.1L546.7 398L546 398.9L545.1 400L544.3 401L543.4 402.2L542.4 403.3L541.4 404.6L540.4 405.8L539.3 407.1L538.1 408.5L536.9 409.9L535.7 411.3L534.5 412.8L533.2 414.2L531.8 415.7L530.5 417.2L529.1 418.7L527.6 420.3L526.2 421.8L524.7 423.3L523.2 424.8L521.6 426.4L520.1 427.9L518.5 429.4L516.9 430.8L515.3 432.3L513.7 433.7L512 435.1L510.4 436.5L508.7 437.9L507 439.2L505.4 440.5L503.7 441.7L502 442.9L500.4 444.1L498.7 445.2L497 446.3L495.4 447.4L493.7 448.4L492.1 449.3L490.5 450.3L488.9 451.1L487.3 452L485.8 452.7L484.2 453.5L482.7 454.2L481.2 454.9L479.8 455.5L478.3 456.1L476.9 456.6L475.6 457.1L474.2 457.6L472.9 458L471.7 458.5L470.5 458.8L469.3 459.2L468.1 459.5L467 459.8L466 460.1L465 460.3L464 460.6L463.1 460.8L462.3 461L461.4 461.2L460.7 461.3L460 461.5L459.3 461.6L458.7 461.8L458.2 461.9L457.7 462L457.3 462.1L456.9 462.2L456.6 462.4L456.3 462.5L456.1 462.6L456 462.7L455.9 462.8L455.8 462.9L455.9 463L456 463.1L456.1 463.1L456.3 463.2L456.6 463.3L456.9 463.4L457.3 463.5L457.7 463.6L458.2 463.6L458.7 463.7L459.3 463.7L460 463.7L460.7 463.8L461.4 463.8L462.3 463.8L463.1 463.7L464 463.7L465 463.6L466 463.5L467 463.4L468.1 463.2L469.3 463L470.5 462.8L471.7 462.6L472.9 462.3L474.2 462L475.6 461.6L476.9 461.2L478.3 460.8L479.8 460.3L481.2 459.8L482.7 459.2L484.2 458.6L485.8 457.9L487.3 457.2L488.9 456.4L490.5 455.6L492.1 454.7L493.7 453.8L495.4 452.9L497 451.8L498.7 450.8L500.4 449.7L502 448.5L503.7 447.3L505.4 446L507 444.7L508.7 443.4L510.4 442L512 440.6L513.7 439.2L515.3 437.7L516.9 436.2L518.5 434.7L520.1 433.1L521.6 431.5L523.2 429.9L524.7 428.3L526.2 426.7L527.6 425.1L529.1 423.5L530.5 421.8L531.8 420.2L533.2 418.6L534.5 417L535.7 415.4L536.9 413.9L538.1 412.4L539.3 410.9L540.4 409.4L541.4 408L542.4 406.6L543.4 405.3L544.3 404L545.1 402.7L546 401.6L546.7 400.4L547.4 399.4L548.1 398.4L548.7 397.5L549.2 396.6L549.7 395.8L550.1 395.1L550.5 394.5L550.8 393.9L551.1 393.5L551.3 393.1L551.4 392.8L551.5 392.6L551.6 392.4Z" stroke="#3b528b" stroke-width="1.1" fill="none" stroke-linejoin="round" clip-path="url(#c9)"/>
<path d="M539.4 408.8L539.4 408.8L539.3 408.8L539.2 408.8L539.1 408.9L538.9 409.1L538.7 409.3L538.4 409.6L538.1 410L537.7 410.3L537.3 410.8L536.8 411.3L536.3 411.8L535.8 412.4L535.3 413L534.6 413.6L534 414.3L533.3 415.1L532.6 415.8L531.9 416.7L531.1 417.5L530.3 418.4L529.4 419.3L528.5 420.2L527.6 421.1L526.7 422.1L525.7 423.1L524.7 424.1L523.7 425.1L522.6 426.2L521.6 427.2L520.5 428.2L519.4 429.3L518.2 430.3L517.1 431.4L515.9 432.5L514.7 433.5L513.6 434.5L512.3 435.6L511.1 436.6L509.9 437.6L508.7 438.6L507.4 439.6L506.2 440.5L504.9 441.5L503.7 442.4L502.5 443.3L501.2 444.2L500 445.1L498.7 445.9L497.5 446.7L496.3 447.5L495.1 448.3L493.8 449L492.7 449.8L491.5 450.4L490.3 451.1L489.2 451.7L488 452.4L486.9 452.9L485.8 453.5L484.8 454L483.7 454.5L482.7 455L481.7 455.5L480.7 455.9L479.8 456.3L478.9 456.7L478 457.1L477.1 457.5L476.3 457.8L475.5 458.1L474.8 458.4L474.1 458.7L473.4 458.9L472.8 459.2L472.1 459.4L471.6 459.6L471.1 459.8L470.6 460L470.1 460.2L469.7 460.4L469.3 460.5L469 460.7L468.7 460.8L468.5 460.9L468.3 461L468.2 461.1L468.1 461.2L468 461.3L468 461.4L468 461.5L468.1 461.5L468.2 461.6L468.3 461.6L468.5 461.6L468.7 461.7L469 461.7L469.3 461.7L469.7 461.7L470.1 461.6L470.6 461.6L471.1 461.5L471.6 461.5L472.1 461.4L472.8 461.3L473.4 461.1L474.1 461L474.8 460.8L475.5 460.7L476.3 460.5L477.1 460.2L478 460L478.9 459.7L479.8 459.4L480.7 459.1L481.7 458.8L482.7 458.4L483.7 458L484.8 457.6L485.8 457.1L486.9 456.6L488 456.1L489.2 455.5L490.3 455L491.5 454.4L492.7 453.7L493.8 453L495.1 452.3L496.3 451.6L497.5 450.8L498.7 450L500 449.2L501.2 448.4L502.5 447.5L503.7 446.6L504.9 445.6L506.2 444.7L507.4 443.7L508.7 442.7L509.9 441.7L511.1 440.7L512.3 439.6L513.6 438.5L514.7 437.5L515.9 436.4L517.1 435.3L518.2 434.1L519.4 433L520.5 431.9L521.6 430.8L522.6 429.7L523.7 428.6L524.7 427.5L525.7 426.4L526.7 425.3L527.6 424.2L528.5 423.2L529.4 422.2L530.3 421.2L531.1 420.2L531.9 419.2L532.6 418.3L533.3 417.4L534 416.5L534.6 415.7L535.3 414.9L535.8 414.2L536.3 413.5L536.8 412.8L537.3 412.2L537.7 411.6L538.1 411.1L538.4 410.6L538.7 410.2L538.9 409.8L539.1 409.5L539.2 409.3L539.3 409.1L539.4 408.9L539.4 408.8Z" stroke="#21918c" stroke-width="1.1" fill="none" stroke-linejoin="round" clip-path="url(#c9)"/>
<path d="M527.3 423L527.3 423L527.3 423L527.2 423L527.1 423.1L527 423.2L526.8 423.3L526.6 423.4L526.4 423.6L526.2 423.8L525.9 424.1L525.6 424.3L525.3 424.6L524.9 425L524.6 425.3L524.2 425.7L523.7 426.1L523.3 426.5L522.8 426.9L522.3 427.4L521.8 427.9L521.3 428.4L520.7 428.9L520.1 429.5L519.5 430L518.9 430.6L518.2 431.2L517.6 431.8L516.9 432.4L516.2 433L515.5 433.6L514.8 434.2L514.1 434.9L513.3 435.5L512.5 436.1L511.8 436.8L511 437.4L510.2 438.1L509.4 438.7L508.6 439.4L507.8 440L507 440.6L506.2 441.3L505.3 441.9L504.5 442.5L503.7 443.1L502.9 443.7L502.1 444.3L501.2 444.9L500.4 445.5L499.6 446L498.8 446.6L498 447.1L497.2 447.7L496.4 448.2L495.6 448.7L494.9 449.2L494.1 449.6L493.3 450.1L492.6 450.5L491.9 451L491.2 451.4L490.5 451.8L489.8 452.2L489.2 452.6L488.5 452.9L487.9 453.3L487.3 453.6L486.7 453.9L486.1 454.2L485.6 454.5L485.1 454.8L484.6 455.1L484.1 455.3L483.7 455.6L483.2 455.8L482.8 456L482.5 456.2L482.1 456.4L481.8 456.6L481.5 456.7L481.2 456.9L481 457L480.8 457.2L480.6 457.3L480.4 457.4L480.3 457.5L480.2 457.6L480.1 457.7L480.1 457.7L480.1 457.8L480.1 457.8L480.1 457.9L480.2 457.9L480.3 457.9L480.4 457.9L480.6 457.9L480.8 457.8L481 457.8L481.2 457.7L481.5 457.7L481.8 457.6L482.1 457.5L482.5 457.4L482.8 457.3L483.2 457.2L483.7 457L484.1 456.9L484.6 456.7L485.1 456.5L485.6 456.3L486.1 456.1L486.7 455.8L487.3 455.6L487.9 455.3L488.5 455L489.2 454.7L489.8 454.4L490.5 454.1L491.2 453.7L491.9 453.4L492.6 453L493.3 452.6L494.1 452.1L494.9 451.7L495.6 451.3L496.4 450.8L497.2 450.3L498 449.8L498.8 449.3L499.6 448.7L500.4 448.2L501.2 447.6L502.1 447.1L502.9 446.5L503.7 445.9L504.5 445.3L505.3 444.6L506.2 444L507 443.4L507.8 442.7L508.6 442.1L509.4 441.4L510.2 440.7L511 440L511.8 439.4L512.5 438.7L513.3 438L514.1 437.3L514.8 436.6L515.5 436L516.2 435.3L516.9 434.6L517.6 434L518.2 433.3L518.9 432.7L519.5 432.1L520.1 431.4L520.7 430.8L521.3 430.2L521.8 429.7L522.3 429.1L522.8 428.6L523.3 428L523.7 427.5L524.2 427.1L524.6 426.6L524.9 426.2L525.3 425.8L525.6 425.4L525.9 425L526.2 424.7L526.4 424.4L526.6 424.1L526.8 423.9L527 423.6L527.1 423.5L527.2 423.3L527.3 423.2L527.3 423.1L527.3 423Z" stroke="#5ec962" stroke-width="1.1" fill="none" stroke-linejoin="round" clip-path="url(#c9)"/>
<path d="M453.7 485v3M553.7 485v3" stroke="#8e8e8e" stroke-width="0.8" fill="none"/>
<text class="tk" x="453.7" y="503.4" text-anchor="middle">0</text>
<text class="tk" x="553.7" y="503.4" text-anchor="middle">2</text>
<path d="M390.9 462.9h-3M390.9 426.1h-3M390.9 389.3h-3M390.9 352.5h-3" stroke="#8e8e8e" stroke-width="0.8" fill="none"/>
<text class="tk" x="385.4" y="468.9" text-anchor="end">0</text>
<text class="tk" x="385.4" y="432.1" text-anchor="end">2</text>
<text class="tk" x="385.4" y="395.3" text-anchor="end">4</text>
<text class="tk" x="385.4" y="358.5" text-anchor="end">6</text>
<text class="th" x="498.5" y="520" text-anchor="middle"><tspan font-style="italic">θ</tspan><tspan font-size="11" dy="3.4">1</tspan></text>
<text class="th" x="369" y="418.5" text-anchor="middle" transform="rotate(-90 369 414)"><tspan font-style="italic">θ</tspan><tspan font-size="11" dy="3.4">2</tspan></text>
<clipPath id="c10"><rect x="630.3" y="343.8" width="59.7" height="141.2"/></clipPath>
<rect x="630.3" y="343.8" width="59.7" height="141.2" fill="#e8e8e8"/>
<path d="M632.1 343.8V485M672.5 343.8V485M630.3 462.9H690M630.3 426.1H690M630.3 389.3H690M630.3 352.5H690" stroke="#ffffff" stroke-width="0.85" fill="none"/>
<path d="M632.2 341.8L632.1 343.3L632.2 344.8L632.3 346.3L632.5 347.7L632.7 349.2L633 350.7L633.3 352.1L633.7 353.6L634 355L634.4 356.5L634.8 357.9L635.2 359.3L635.6 360.8L635.9 362.2L636.3 363.7L636.6 365.2L636.8 366.7L637 368.1L637 369.6L636.9 371.1L636.7 372.5L636.3 374L635.9 375.4L635.4 376.9L634.9 378.3L634.5 379.7L634 381.2L633.6 382.6L633.3 384L633 385.5L632.8 387L632.7 388.4L632.7 389.9L632.7 391.4L632.8 392.9L633 394.4L633.2 395.9L633.4 397.4L633.6 398.9L633.7 400.3L633.8 401.8L633.7 403.3L633.6 404.8L633.4 406.3L633.3 407.8L633.4 409.3L633.6 410.7L634 412.2L634.6 413.6L635.3 414.9L636.2 416.1L637.2 417.2L638.2 418.3L639.3 419.3L640.4 420.3L641.5 421.4L642.4 422.5L643.3 423.7L644.2 424.9L645 426.2L645.8 427.4L646.6 428.7L647.5 429.9L648.4 431.1L649.4 432.2L650.5 433.2L651.7 434.2L653 435L654.2 435.9L655.4 436.9L656.4 437.9L657 439.1L657.4 440.5L657.7 442L657.9 443.6L658.2 445.1L658.6 446.6L659.2 447.9L660 449.1L661.1 450L662.4 450.8L663.8 451.6L665.2 452.2L666.6 452.7L668 453.2L669.3 453.7L670.6 454.1L671.9 454.5L673.3 455L674.8 455.5L676.4 456L678.2 456.5L680 457.1L681.7 457.8L682.9 458.5L683.5 459.3L683.1 460.1L682 461L680.4 461.8L678.7 462.6L677 463.2L675.4 463.7L673.9 464.1L672.4 464.4L670.9 464.6L669.5 464.7L668.1 464.8L666.7 464.9L665.3 465L664 465.1L662.6 465.2L661.2 465.3L659.8 465.5L658.4 465.7L657 465.9L655.6 466.2L654.1 466.5L652.7 466.8L651.2 467.1L649.7 467.4L648.2 467.7L646.7 468L645.1 468.4L643.6 468.7L642 469L640.4 469.3L638.9 469.7L637.5 470.2L636.2 470.8L635 471.6L634 472.7L633.2 473.9L632.6 475.3L632.2 476.8L631.9 478.3L631.8 479.8L631.8 481.2L631.9 482.7L632 484.2L632.2 485.7" stroke="#2b50a8" stroke-width="1.35" fill="none" stroke-linejoin="round" clip-path="url(#c10)"/>
<path d="M632.1 485v3M672.5 485v3" stroke="#8e8e8e" stroke-width="0.8" fill="none"/>
<text class="tk" x="632.1" y="503.4" text-anchor="middle">0.0</text>
<text class="tk" x="672.5" y="503.4" text-anchor="middle">0.5</text>
<text class="cap" x="493" y="549.5" textLength="61" lengthAdjust="spacingAndGlyphs">(d) HMC</text>
<clipPath id="c11"><rect x="30.3" y="581.8" width="209.7" height="31.1"/></clipPath>
<rect x="30.3" y="581.8" width="209.7" height="31.1" fill="#e8e8e8"/>
<path d="M91 581.8V612.9M189.4 581.8V612.9M30.3 611.6H240M30.3 588H240" stroke="#ffffff" stroke-width="0.85" fill="none"/>
<path d="M30.4 611.7L31.9 611.7L33.4 611.6L34.9 611.6L36.4 611.5L37.9 611.4L39.4 611.3L40.9 611.2L42.3 611.1L43.8 611L45.3 610.9L46.8 610.7L48.3 610.6L49.8 610.4L51.3 610.2L52.8 610L54.2 609.9L55.7 609.7L57.2 609.5L58.7 609.3L60.2 609.1L61.6 608.8L63.1 608.6L64.6 608.3L66 608L67.5 607.7L69 607.3L70.4 607L71.9 606.6L73.3 606.3L74.8 605.9L76.2 605.6L77.7 605.3L79.1 605L80.6 604.7L82.1 604.3L83.5 604L85 603.7L86.4 603.4L87.9 603.1L89.4 602.8L90.8 602.4L92.3 602L93.7 601.6L95.1 601.1L96.5 600.5L97.8 599.9L99.1 599.1L100.4 598.4L101.7 597.6L103 596.8L104.2 596L105.5 595.2L106.8 594.4L108.1 593.6L109.3 592.9L110.6 592.1L111.9 591.4L113.3 590.7L114.6 590L115.9 589.3L117.3 588.7L118.6 588L120 587.4L121.4 586.9L122.8 586.4L124.2 585.9L125.6 585.4L127 584.9L128.4 584.5L129.9 584.1L131.3 583.7L132.8 583.4L134.3 583.1L135.8 582.9L137.2 583L138.7 583.4L140.1 583.8L141.5 584.4L142.9 585L144.3 585.6L145.7 586.1L147.1 586.5L148.5 587L149.9 587.4L151.4 587.8L152.8 588.2L154.3 588.6L155.7 589L157.1 589.5L158.6 589.9L160 590.3L161.4 590.7L162.9 591L164.4 591.3L165.9 591.5L167.3 591.8L168.8 592.1L170.3 592.4L171.7 592.8L173.1 593.4L174.4 593.9L175.8 594.6L177.1 595.3L178.4 596L179.7 596.8L181 597.6L182.3 598.3L183.6 599.1L184.9 599.8L186.2 600.5L187.6 601.1L189 601.7L190.4 602.1L191.9 602.4L193.4 602.5L194.9 602.5L196.4 602.5L197.9 602.6L199.3 602.9L200.6 603.5L201.9 604.3L203.1 605.3L204.3 606.3L205.4 607.3L206.6 608.2L207.8 609.1L209.1 609.8L210.4 610.5L211.9 611L213.3 611.3L214.8 611.6L216.3 611.7L217.8 611.8L219.3 611.8L220.8 611.8L222.3 611.8L223.8 611.8L225.2 611.8L226.7 611.8L228.2 611.8L229.7 611.8L231.2 611.8L232.7 611.8L234.2 611.8L235.7 611.8L237.2 611.8L238.7 611.8L240.2 611.8" stroke="#2b50a8" stroke-width="1.35" fill="none" stroke-linejoin="round" clip-path="url(#c11)"/>
<path d="M30.3 611.6h-3M30.3 588h-3" stroke="#8e8e8e" stroke-width="0.8" fill="none"/>
<text class="tk" x="24.8" y="617.6" text-anchor="end">0.0</text>
<text class="tk" x="24.8" y="594" text-anchor="end">0.5</text>
<clipPath id="c12"><rect x="30.3" y="636.9" width="209.7" height="141.8"/></clipPath>
<rect x="30.3" y="636.9" width="209.7" height="141.8" fill="#e8e8e8"/>
<path d="M91 636.9V778.7M189.4 636.9V778.7M30.3 756.1H240M30.3 719.4H240M30.3 682.7H240M30.3 646H240" stroke="#ffffff" stroke-width="0.85" fill="none"/>
<g class="dots" fill="#264eb0" stroke="#03061c" stroke-width="0.75" clip-path="url(#c12)"><circle cx="148" cy="728.5" r="2.2"/><circle cx="156.3" cy="723.3" r="2.2"/><circle cx="135.9" cy="741.4" r="2.2"/><circle cx="112.9" cy="750.6" r="2.2"/><circle cx="166.7" cy="708.7" r="2.2"/><circle cx="88.6" cy="754" r="2.2"/><circle cx="126.3" cy="742.7" r="2.2"/><circle cx="168.5" cy="711.8" r="2.2"/><circle cx="85.7" cy="753.8" r="2.2"/><circle cx="133.1" cy="743.5" r="2.2"/><circle cx="126" cy="745.4" r="2.2"/><circle cx="120.2" cy="747.9" r="2.2"/><circle cx="155.6" cy="726.1" r="2.2"/><circle cx="141.8" cy="737.9" r="2.2"/><circle cx="68" cy="753.4" r="2.2"/><circle cx="104.7" cy="755.8" r="2.2"/><circle cx="160.9" cy="716.9" r="2.2"/><circle cx="131.4" cy="740.3" r="2.2"/><circle cx="146.7" cy="731.9" r="2.2"/><circle cx="165.8" cy="713.9" r="2.2"/><circle cx="197.9" cy="670.9" r="2.2"/><circle cx="151.7" cy="727.6" r="2.2"/><circle cx="117.1" cy="748.3" r="2.2"/><circle cx="138.9" cy="740.8" r="2.2"/><circle cx="134.6" cy="739.5" r="2.2"/><circle cx="111.6" cy="751.9" r="2.2"/><circle cx="56.2" cy="746.9" r="2.2"/><circle cx="98.2" cy="757.1" r="2.2"/><circle cx="149.4" cy="731.3" r="2.2"/><circle cx="117.9" cy="749.4" r="2.2"/><circle cx="128.1" cy="747.8" r="2.2"/><circle cx="166" cy="712.4" r="2.2"/><circle cx="146.4" cy="734.4" r="2.2"/><circle cx="112.8" cy="754.4" r="2.2"/><circle cx="110.5" cy="752.6" r="2.2"/><circle cx="142" cy="736.4" r="2.2"/><circle cx="113" cy="752.5" r="2.2"/><circle cx="157.5" cy="724" r="2.2"/><circle cx="92.7" cy="756.1" r="2.2"/><circle cx="172.5" cy="706.5" r="2.2"/><circle cx="93.7" cy="757.1" r="2.2"/><circle cx="93.1" cy="755.1" r="2.2"/><circle cx="144.4" cy="735" r="2.2"/><circle cx="117.9" cy="750.7" r="2.2"/><circle cx="151.5" cy="728.8" r="2.2"/><circle cx="182.8" cy="693.4" r="2.2"/><circle cx="180.3" cy="694.4" r="2.2"/><circle cx="41" cy="736.3" r="2.2"/><circle cx="127.5" cy="744.6" r="2.2"/><circle cx="140.7" cy="739.1" r="2.2"/><circle cx="183.7" cy="691.1" r="2.2"/><circle cx="88.7" cy="755.2" r="2.2"/><circle cx="139.7" cy="736.9" r="2.2"/><circle cx="120.2" cy="751.7" r="2.2"/><circle cx="122.5" cy="748.3" r="2.2"/><circle cx="104.6" cy="757.4" r="2.2"/><circle cx="108.4" cy="755.2" r="2.2"/><circle cx="176.5" cy="699.6" r="2.2"/><circle cx="202.4" cy="661.1" r="2.2"/><circle cx="144.8" cy="737.7" r="2.2"/><circle cx="139" cy="739.3" r="2.2"/><circle cx="137.3" cy="735.8" r="2.2"/><circle cx="74.3" cy="755" r="2.2"/><circle cx="143.5" cy="738.1" r="2.2"/><circle cx="144.9" cy="736.5" r="2.2"/><circle cx="105.2" cy="754.3" r="2.2"/><circle cx="153.5" cy="729.4" r="2.2"/><circle cx="152.1" cy="726.5" r="2.2"/><circle cx="106.6" cy="757.5" r="2.2"/><circle cx="107.7" cy="752.6" r="2.2"/><circle cx="150.1" cy="728.5" r="2.2"/><circle cx="101.9" cy="754.2" r="2.2"/><circle cx="126.1" cy="748.5" r="2.2"/><circle cx="182" cy="691.2" r="2.2"/><circle cx="132" cy="744.6" r="2.2"/><circle cx="164.6" cy="714.1" r="2.2"/><circle cx="111.1" cy="750.7" r="2.2"/><circle cx="85.2" cy="756.3" r="2.2"/><circle cx="177.2" cy="700.7" r="2.2"/><circle cx="146.6" cy="737.9" r="2.2"/><circle cx="109.1" cy="756.2" r="2.2"/><circle cx="168.6" cy="710.4" r="2.2"/><circle cx="124.7" cy="744.2" r="2.2"/><circle cx="124.9" cy="746" r="2.2"/><circle cx="116.1" cy="753.4" r="2.2"/><circle cx="152.2" cy="724.9" r="2.2"/><circle cx="79.8" cy="752.1" r="2.2"/><circle cx="103" cy="755.5" r="2.2"/><circle cx="136" cy="743.9" r="2.2"/><circle cx="71.7" cy="753.7" r="2.2"/><circle cx="89.4" cy="758.5" r="2.2"/><circle cx="194.1" cy="677.7" r="2.2"/><circle cx="97.2" cy="756.4" r="2.2"/><circle cx="147.9" cy="730.6" r="2.2"/><circle cx="100.8" cy="757.7" r="2.2"/><circle cx="164.1" cy="719.2" r="2.2"/><circle cx="175.1" cy="703.3" r="2.2"/><circle cx="171.9" cy="707.4" r="2.2"/><circle cx="130.5" cy="744.7" r="2.2"/><circle cx="160" cy="720.2" r="2.2"/><circle cx="190.6" cy="682.7" r="2.2"/><circle cx="114.9" cy="753.2" r="2.2"/><circle cx="178.5" cy="697.4" r="2.2"/><circle cx="143" cy="731.1" r="2.2"/><circle cx="128.1" cy="743.4" r="2.2"/><circle cx="80.5" cy="756.3" r="2.2"/><circle cx="144.6" cy="733.5" r="2.2"/><circle cx="120.8" cy="750.6" r="2.2"/><circle cx="182.6" cy="690.1" r="2.2"/><circle cx="151.2" cy="724.7" r="2.2"/><circle cx="99.5" cy="754.6" r="2.2"/><circle cx="192.8" cy="676.6" r="2.2"/><circle cx="159.3" cy="718.8" r="2.2"/><circle cx="114.9" cy="750.1" r="2.2"/><circle cx="143.2" cy="732.5" r="2.2"/><circle cx="200.9" cy="660.7" r="2.2"/><circle cx="166.9" cy="714" r="2.2"/><circle cx="93.1" cy="753.2" r="2.2"/><circle cx="96.5" cy="753.6" r="2.2"/><circle cx="68.4" cy="751.6" r="2.2"/><circle cx="143.8" cy="735.9" r="2.2"/><circle cx="118.8" cy="747.8" r="2.2"/><circle cx="79.9" cy="757.9" r="2.2"/><circle cx="125.3" cy="749.7" r="2.2"/><circle cx="163.5" cy="716.7" r="2.2"/><circle cx="158.2" cy="720.3" r="2.2"/><circle cx="134.6" cy="737" r="2.2"/><circle cx="84.2" cy="755.6" r="2.2"/><circle cx="162.1" cy="714.2" r="2.2"/><circle cx="116.3" cy="750.7" r="2.2"/><circle cx="115.9" cy="752" r="2.2"/><circle cx="129.3" cy="746.7" r="2.2"/><circle cx="111.9" cy="753.9" r="2.2"/><circle cx="140" cy="735.5" r="2.2"/><circle cx="163.9" cy="715.4" r="2.2"/><circle cx="181.3" cy="699" r="2.2"/><circle cx="171.5" cy="705.6" r="2.2"/><circle cx="80.7" cy="752.8" r="2.2"/><circle cx="110.9" cy="755.8" r="2.2"/><circle cx="92.1" cy="757.2" r="2.2"/><circle cx="159.2" cy="723.6" r="2.2"/><circle cx="181.6" cy="693.7" r="2.2"/><circle cx="142.7" cy="733.8" r="2.2"/><circle cx="74.2" cy="758.4" r="2.2"/><circle cx="180.8" cy="692.7" r="2.2"/><circle cx="204.1" cy="658.5" r="2.2"/><circle cx="105.7" cy="755.2" r="2.2"/><circle cx="177.5" cy="698.4" r="2.2"/><circle cx="77.7" cy="755.4" r="2.2"/><circle cx="155.6" cy="724.2" r="2.2"/><circle cx="179.8" cy="695.4" r="2.2"/><circle cx="103.2" cy="752.2" r="2.2"/><circle cx="149.7" cy="734.3" r="2.2"/><circle cx="95.4" cy="755.9" r="2.2"/><circle cx="149" cy="732.3" r="2.2"/><circle cx="123.2" cy="750.9" r="2.2"/><circle cx="188.2" cy="683.3" r="2.2"/><circle cx="150.1" cy="729.5" r="2.2"/><circle cx="133.4" cy="739.5" r="2.2"/><circle cx="80.8" cy="751.8" r="2.2"/><circle cx="103.8" cy="754.2" r="2.2"/><circle cx="141.4" cy="735.4" r="2.2"/><circle cx="198.8" cy="669" r="2.2"/><circle cx="133.1" cy="741.5" r="2.2"/><circle cx="153" cy="727.8" r="2.2"/><circle cx="158.9" cy="721.8" r="2.2"/><circle cx="101.2" cy="752.7" r="2.2"/><circle cx="53.5" cy="741.5" r="2.2"/><circle cx="154.7" cy="730.8" r="2.2"/><circle cx="80.2" cy="754.5" r="2.2"/><circle cx="150.4" cy="725.6" r="2.2"/><circle cx="130.1" cy="740.8" r="2.2"/><circle cx="129.4" cy="744.6" r="2.2"/><circle cx="197.7" cy="669.4" r="2.2"/><circle cx="160.9" cy="718.8" r="2.2"/><circle cx="132.1" cy="742.3" r="2.2"/><circle cx="124.5" cy="748.7" r="2.2"/><circle cx="165.2" cy="711.6" r="2.2"/><circle cx="136.9" cy="742.2" r="2.2"/><circle cx="81.9" cy="752.9" r="2.2"/><circle cx="181.9" cy="692.6" r="2.2"/><circle cx="78.6" cy="754.2" r="2.2"/><circle cx="137.7" cy="738.2" r="2.2"/><circle cx="159" cy="725.2" r="2.2"/><circle cx="170.2" cy="706.4" r="2.2"/><circle cx="186.9" cy="685.9" r="2.2"/><circle cx="88.9" cy="756.3" r="2.2"/><circle cx="105.1" cy="752.4" r="2.2"/><circle cx="163.5" cy="723" r="2.2"/><circle cx="187.2" cy="683.4" r="2.2"/><circle cx="191.2" cy="680.2" r="2.2"/><circle cx="163.2" cy="718" r="2.2"/><circle cx="138.1" cy="737.3" r="2.2"/><circle cx="134.8" cy="741.7" r="2.2"/><circle cx="172.7" cy="703.7" r="2.2"/><circle cx="109.6" cy="755.1" r="2.2"/><circle cx="100.5" cy="755.7" r="2.2"/><circle cx="135.8" cy="740.1" r="2.2"/><circle cx="158" cy="719.1" r="2.2"/><circle cx="140.6" cy="741.7" r="2.2"/><circle cx="173.7" cy="701.8" r="2.2"/><circle cx="168" cy="706.3" r="2.2"/><circle cx="58.4" cy="747.9" r="2.2"/><circle cx="154.9" cy="725.3" r="2.2"/><circle cx="162.2" cy="716.4" r="2.2"/><circle cx="118.4" cy="751.8" r="2.2"/><circle cx="102.9" cy="756.7" r="2.2"/><circle cx="147.6" cy="729.5" r="2.2"/><circle cx="93.5" cy="760.7" r="2.2"/><circle cx="131.8" cy="743.5" r="2.2"/><circle cx="170.2" cy="710.7" r="2.2"/><circle cx="141.4" cy="731.2" r="2.2"/><circle cx="114.2" cy="751.2" r="2.2"/><circle cx="198" cy="673.7" r="2.2"/><circle cx="147.4" cy="734" r="2.2"/><circle cx="127.9" cy="745.8" r="2.2"/><circle cx="76.2" cy="753.9" r="2.2"/><circle cx="203" cy="663" r="2.2"/><circle cx="195" cy="671.7" r="2.2"/><circle cx="90.6" cy="754" r="2.2"/><circle cx="103.3" cy="750.6" r="2.2"/><circle cx="143" cy="737.1" r="2.2"/><circle cx="145.9" cy="730.8" r="2.2"/><circle cx="131.9" cy="747" r="2.2"/><circle cx="96.6" cy="755.4" r="2.2"/><circle cx="191.2" cy="678.5" r="2.2"/><circle cx="107.4" cy="750.4" r="2.2"/><circle cx="98.1" cy="756" r="2.2"/><circle cx="136.7" cy="738.8" r="2.2"/><circle cx="122.1" cy="746.9" r="2.2"/><circle cx="156.4" cy="719.8" r="2.2"/><circle cx="120" cy="749.1" r="2.2"/><circle cx="129.3" cy="745.7" r="2.2"/><circle cx="153.3" cy="726" r="2.2"/><circle cx="159.8" cy="724.5" r="2.2"/><circle cx="105.9" cy="751.3" r="2.2"/><circle cx="182.2" cy="694.7" r="2.2"/><circle cx="181.4" cy="696" r="2.2"/><circle cx="62.2" cy="753.7" r="2.2"/><circle cx="156.4" cy="725" r="2.2"/><circle cx="42.8" cy="738.5" r="2.2"/><circle cx="127.7" cy="750" r="2.2"/><circle cx="151" cy="726.9" r="2.2"/><circle cx="87.5" cy="755.8" r="2.2"/><circle cx="150.3" cy="731.9" r="2.2"/><circle cx="157.5" cy="722.9" r="2.2"/><circle cx="126.5" cy="746.8" r="2.2"/><circle cx="179.4" cy="696.9" r="2.2"/><circle cx="130.3" cy="743.2" r="2.2"/><circle cx="154.7" cy="727.6" r="2.2"/><circle cx="94.7" cy="754.6" r="2.2"/><circle cx="87.4" cy="757" r="2.2"/><circle cx="132.7" cy="740.6" r="2.2"/><circle cx="82.8" cy="755.4" r="2.2"/><circle cx="146.5" cy="733" r="2.2"/><circle cx="143" cy="735.3" r="2.2"/><circle cx="66.6" cy="749.2" r="2.2"/><circle cx="85.2" cy="757.6" r="2.2"/><circle cx="174.2" cy="705.6" r="2.2"/><circle cx="59.7" cy="746.7" r="2.2"/><circle cx="171.1" cy="708.1" r="2.2"/><circle cx="72.7" cy="753.2" r="2.2"/><circle cx="107.2" cy="754" r="2.2"/><circle cx="185.9" cy="687.7" r="2.2"/><circle cx="163.3" cy="714" r="2.2"/><circle cx="164" cy="712.7" r="2.2"/><circle cx="138.5" cy="736.1" r="2.2"/><circle cx="76" cy="752.5" r="2.2"/><circle cx="171.9" cy="709.3" r="2.2"/><circle cx="123.3" cy="749.7" r="2.2"/><circle cx="149" cy="729.5" r="2.2"/><circle cx="198" cy="664" r="2.2"/><circle cx="119.6" cy="746.1" r="2.2"/><circle cx="146.1" cy="737" r="2.2"/><circle cx="97.4" cy="759.8" r="2.2"/><circle cx="122.1" cy="750.9" r="2.2"/><circle cx="184.8" cy="690.7" r="2.2"/><circle cx="115.5" cy="749.2" r="2.2"/><circle cx="117.4" cy="752.6" r="2.2"/><circle cx="120.9" cy="752.6" r="2.2"/><circle cx="133.2" cy="744.9" r="2.2"/><circle cx="137.6" cy="733.6" r="2.2"/><circle cx="193.3" cy="674.4" r="2.2"/><circle cx="193" cy="673.2" r="2.2"/><circle cx="138" cy="741.4" r="2.2"/><circle cx="107.7" cy="756.4" r="2.2"/><circle cx="44.9" cy="743.2" r="2.2"/><circle cx="185.8" cy="689" r="2.2"/><circle cx="176.4" cy="704.8" r="2.2"/><circle cx="173.5" cy="706.8" r="2.2"/><circle cx="146.5" cy="735.4" r="2.2"/><circle cx="136.5" cy="736.9" r="2.2"/><circle cx="162" cy="718" r="2.2"/><circle cx="170.6" cy="709.5" r="2.2"/><circle cx="108.9" cy="753.2" r="2.2"/><circle cx="153.9" cy="723.2" r="2.2"/><circle cx="118.1" cy="755.2" r="2.2"/><circle cx="197.1" cy="672" r="2.2"/><circle cx="137.6" cy="746.1" r="2.2"/><circle cx="182.9" cy="691.9" r="2.2"/><circle cx="151" cy="730.2" r="2.2"/><circle cx="169" cy="706.8" r="2.2"/><circle cx="178" cy="702" r="2.2"/><circle cx="99.6" cy="756.5" r="2.2"/><circle cx="124.3" cy="750" r="2.2"/><circle cx="168.7" cy="708.6" r="2.2"/><circle cx="165.1" cy="716.5" r="2.2"/><circle cx="101.5" cy="756.2" r="2.2"/><circle cx="153.3" cy="724.5" r="2.2"/><circle cx="118.6" cy="745.7" r="2.2"/><circle cx="158.3" cy="727" r="2.2"/><circle cx="142.1" cy="732.1" r="2.2"/><circle cx="130.6" cy="737.6" r="2.2"/><circle cx="165.5" cy="715.5" r="2.2"/><circle cx="97.3" cy="757.9" r="2.2"/><circle cx="87.5" cy="758.3" r="2.2"/><circle cx="69.7" cy="754.8" r="2.2"/><circle cx="97.9" cy="753.2" r="2.2"/><circle cx="176.3" cy="702.4" r="2.2"/><circle cx="147.8" cy="732.5" r="2.2"/><circle cx="170" cy="707.7" r="2.2"/><circle cx="171.2" cy="712.3" r="2.2"/><circle cx="126.8" cy="743.8" r="2.2"/><circle cx="131.1" cy="746" r="2.2"/><circle cx="117.9" cy="743.8" r="2.2"/><circle cx="137.8" cy="742.7" r="2.2"/><circle cx="197.2" cy="678" r="2.2"/><circle cx="161.1" cy="720.9" r="2.2"/><circle cx="118.9" cy="750.3" r="2.2"/><circle cx="90.6" cy="755.3" r="2.2"/><circle cx="135.9" cy="742.7" r="2.2"/><circle cx="133.2" cy="747" r="2.2"/><circle cx="200.7" cy="662.4" r="2.2"/><circle cx="139.1" cy="741.9" r="2.2"/><circle cx="195.4" cy="670.3" r="2.2"/><circle cx="139.2" cy="738" r="2.2"/><circle cx="98.1" cy="754.4" r="2.2"/><circle cx="54.3" cy="747.2" r="2.2"/><circle cx="157.3" cy="721.8" r="2.2"/><circle cx="179.3" cy="694.3" r="2.2"/><circle cx="157.2" cy="725.8" r="2.2"/><circle cx="110.7" cy="753.7" r="2.2"/><circle cx="112.2" cy="748.9" r="2.2"/><circle cx="201.9" cy="662.5" r="2.2"/><circle cx="94.7" cy="753.1" r="2.2"/><circle cx="162.5" cy="719.5" r="2.2"/><circle cx="96.3" cy="758" r="2.2"/><circle cx="159.6" cy="722.6" r="2.2"/><circle cx="194.4" cy="674.2" r="2.2"/><circle cx="108.5" cy="754.2" r="2.2"/><circle cx="172.5" cy="704.7" r="2.2"/><circle cx="74.1" cy="751" r="2.2"/><circle cx="123.3" cy="745.1" r="2.2"/><circle cx="81.3" cy="755.3" r="2.2"/><circle cx="50.8" cy="742.8" r="2.2"/><circle cx="91" cy="752.5" r="2.2"/><circle cx="102.2" cy="752.9" r="2.2"/><circle cx="127.3" cy="742.1" r="2.2"/><circle cx="151.6" cy="731.2" r="2.2"/><circle cx="91.6" cy="754.8" r="2.2"/><circle cx="52.7" cy="747.1" r="2.2"/><circle cx="149.6" cy="726.8" r="2.2"/><circle cx="118.9" cy="754.4" r="2.2"/><circle cx="103.5" cy="762.5" r="2.2"/><circle cx="77.2" cy="754.6" r="2.2"/><circle cx="117" cy="754.1" r="2.2"/><circle cx="173.1" cy="702.6" r="2.2"/><circle cx="184.8" cy="692.7" r="2.2"/><circle cx="172.9" cy="707.6" r="2.2"/><circle cx="66.4" cy="750.8" r="2.2"/><circle cx="168.1" cy="714" r="2.2"/><circle cx="119.6" cy="752.9" r="2.2"/><circle cx="134.4" cy="740.6" r="2.2"/><circle cx="131.1" cy="747.5" r="2.2"/><circle cx="159.9" cy="721.3" r="2.2"/><circle cx="84.1" cy="757.4" r="2.2"/><circle cx="142.2" cy="739.3" r="2.2"/><circle cx="189.2" cy="685.5" r="2.2"/><circle cx="116.3" cy="747.3" r="2.2"/><circle cx="121.7" cy="749.6" r="2.2"/><circle cx="104.8" cy="750.1" r="2.2"/><circle cx="105.8" cy="756.7" r="2.2"/><circle cx="194.4" cy="675.4" r="2.2"/><circle cx="93.8" cy="751.9" r="2.2"/><circle cx="107.1" cy="755.4" r="2.2"/><circle cx="112" cy="755.4" r="2.2"/><circle cx="134.7" cy="742.8" r="2.2"/><circle cx="164.5" cy="717.5" r="2.2"/><circle cx="137.3" cy="739.9" r="2.2"/><circle cx="173.7" cy="704.5" r="2.2"/><circle cx="167.4" cy="711.7" r="2.2"/><circle cx="89.9" cy="757.1" r="2.2"/><circle cx="106.7" cy="753.1" r="2.2"/><circle cx="129.4" cy="742.6" r="2.2"/><circle cx="155.2" cy="721.9" r="2.2"/><circle cx="135.7" cy="738" r="2.2"/><circle cx="123.4" cy="754.5" r="2.2"/><circle cx="193.1" cy="681.4" r="2.2"/><circle cx="114.1" cy="756.1" r="2.2"/><circle cx="125.4" cy="747.2" r="2.2"/><circle cx="174.9" cy="700" r="2.2"/><circle cx="199.9" cy="667" r="2.2"/><circle cx="189.1" cy="682.7" r="2.2"/><circle cx="113.8" cy="753.6" r="2.2"/><circle cx="128.5" cy="741" r="2.2"/><circle cx="149.2" cy="727.8" r="2.2"/><circle cx="77.6" cy="751.3" r="2.2"/><circle cx="52.1" cy="745.3" r="2.2"/><circle cx="122.4" cy="745.6" r="2.2"/><circle cx="83" cy="753.6" r="2.2"/><circle cx="78" cy="756.9" r="2.2"/><circle cx="152.2" cy="733.3" r="2.2"/><circle cx="154.2" cy="728.5" r="2.2"/><circle cx="144.9" cy="732.1" r="2.2"/><circle cx="140.8" cy="740.6" r="2.2"/><circle cx="196.7" cy="673.5" r="2.2"/><circle cx="135.7" cy="744.9" r="2.2"/><circle cx="187.9" cy="687.3" r="2.2"/><circle cx="108.9" cy="752" r="2.2"/><circle cx="102.1" cy="751.3" r="2.2"/><circle cx="154.4" cy="726.6" r="2.2"/><circle cx="152.2" cy="723.4" r="2.2"/><circle cx="100.3" cy="759.2" r="2.2"/><circle cx="123.3" cy="747.5" r="2.2"/><circle cx="178.1" cy="700" r="2.2"/><circle cx="95.5" cy="753.8" r="2.2"/><circle cx="183.3" cy="694.8" r="2.2"/><circle cx="118.1" cy="746.6" r="2.2"/><circle cx="141" cy="737.1" r="2.2"/><circle cx="173.5" cy="709.5" r="2.2"/><circle cx="161.5" cy="721.9" r="2.2"/><circle cx="109.6" cy="748.9" r="2.2"/><circle cx="71.8" cy="749.8" r="2.2"/><circle cx="145.6" cy="735.2" r="2.2"/><circle cx="137.9" cy="735" r="2.2"/><circle cx="86.4" cy="756.6" r="2.2"/><circle cx="140.4" cy="733.8" r="2.2"/><circle cx="168.7" cy="712.8" r="2.2"/><circle cx="88.2" cy="757.5" r="2.2"/><circle cx="175.1" cy="701.6" r="2.2"/><circle cx="99.2" cy="757.6" r="2.2"/><circle cx="167" cy="712.8" r="2.2"/><circle cx="189.9" cy="681.6" r="2.2"/><circle cx="134.8" cy="744.4" r="2.2"/><circle cx="109.9" cy="750.1" r="2.2"/><circle cx="103.6" cy="753.1" r="2.2"/><circle cx="49.8" cy="742.4" r="2.2"/><circle cx="109.8" cy="757.4" r="2.2"/><circle cx="71.8" cy="756.7" r="2.2"/><circle cx="183.7" cy="687.9" r="2.2"/><circle cx="90.7" cy="757.9" r="2.2"/><circle cx="128.6" cy="749.7" r="2.2"/><circle cx="77.7" cy="752.5" r="2.2"/><circle cx="104.2" cy="751.4" r="2.2"/><circle cx="153.9" cy="720.5" r="2.2"/><circle cx="134.2" cy="738.4" r="2.2"/><circle cx="109" cy="750.9" r="2.2"/><circle cx="155.1" cy="723" r="2.2"/><circle cx="118.9" cy="749" r="2.2"/><circle cx="123.1" cy="746.4" r="2.2"/><circle cx="186" cy="690" r="2.2"/><circle cx="152.5" cy="730" r="2.2"/><circle cx="194.1" cy="676.6" r="2.2"/><circle cx="98.5" cy="758.7" r="2.2"/><circle cx="94.2" cy="758.1" r="2.2"/><circle cx="102.1" cy="759" r="2.2"/><circle cx="180.2" cy="698.1" r="2.2"/><circle cx="60.5" cy="749.8" r="2.2"/><circle cx="87.9" cy="753.1" r="2.2"/><circle cx="99.8" cy="758.4" r="2.2"/><circle cx="57.5" cy="745" r="2.2"/><circle cx="97.7" cy="752.2" r="2.2"/><circle cx="163.1" cy="721.6" r="2.2"/><circle cx="156.2" cy="722.2" r="2.2"/><circle cx="94.7" cy="756.7" r="2.2"/><circle cx="89.9" cy="759.5" r="2.2"/><circle cx="141.8" cy="733.1" r="2.2"/><circle cx="143.3" cy="729.8" r="2.2"/><circle cx="140.5" cy="732.8" r="2.2"/><circle cx="133.7" cy="742.6" r="2.2"/><circle cx="93.2" cy="758.6" r="2.2"/><circle cx="162.8" cy="720.6" r="2.2"/><circle cx="55.1" cy="745.4" r="2.2"/><circle cx="82.3" cy="756.6" r="2.2"/><circle cx="145.1" cy="729.7" r="2.2"/><circle cx="131.1" cy="741.3" r="2.2"/><circle cx="193.9" cy="679.4" r="2.2"/><circle cx="129.5" cy="748.6" r="2.2"/><circle cx="187.8" cy="682.3" r="2.2"/><circle cx="136.9" cy="741" r="2.2"/><circle cx="159.8" cy="716.4" r="2.2"/><circle cx="105.6" cy="753.4" r="2.2"/><circle cx="199.8" cy="664.1" r="2.2"/><circle cx="64.6" cy="750.4" r="2.2"/><circle cx="59.4" cy="748" r="2.2"/><circle cx="48.4" cy="739.3" r="2.2"/><circle cx="184.6" cy="684.5" r="2.2"/><circle cx="165.1" cy="712.9" r="2.2"/><circle cx="99.6" cy="752.5" r="2.2"/><circle cx="204.5" cy="657.1" r="2.2"/><circle cx="85.2" cy="755.2" r="2.2"/><circle cx="132.6" cy="745.9" r="2.2"/><circle cx="120.6" cy="746.5" r="2.2"/><circle cx="177.4" cy="696.7" r="2.2"/><circle cx="105.9" cy="758.7" r="2.2"/><circle cx="87.3" cy="754.8" r="2.2"/><circle cx="111.8" cy="747.3" r="2.2"/><circle cx="188.1" cy="685" r="2.2"/><circle cx="156.1" cy="728.2" r="2.2"/><circle cx="50" cy="743.9" r="2.2"/><circle cx="78.8" cy="755.4" r="2.2"/><circle cx="106.9" cy="751.7" r="2.2"/><circle cx="182.3" cy="697" r="2.2"/><circle cx="123.2" cy="752.1" r="2.2"/><circle cx="185.3" cy="686.8" r="2.2"/><circle cx="107.5" cy="758" r="2.2"/><circle cx="79.3" cy="756.4" r="2.2"/><circle cx="124.8" cy="751.4" r="2.2"/><circle cx="55.7" cy="743.9" r="2.2"/><circle cx="178.9" cy="693.3" r="2.2"/><circle cx="186.9" cy="688.5" r="2.2"/><circle cx="179.1" cy="699.9" r="2.2"/><circle cx="66.2" cy="753.9" r="2.2"/><circle cx="62.9" cy="752" r="2.2"/><circle cx="148.7" cy="736.4" r="2.2"/><circle cx="82.7" cy="758.6" r="2.2"/><circle cx="117" cy="751.5" r="2.2"/><circle cx="171.6" cy="703.7" r="2.2"/><circle cx="53.2" cy="745.9" r="2.2"/><circle cx="83.5" cy="756.4" r="2.2"/><circle cx="96.1" cy="756.7" r="2.2"/><circle cx="166.5" cy="711.1" r="2.2"/><circle cx="95.2" cy="758.3" r="2.2"/><circle cx="167.5" cy="717.1" r="2.2"/><circle cx="162.4" cy="715.1" r="2.2"/><circle cx="151.2" cy="732.5" r="2.2"/><circle cx="86.6" cy="752.4" r="2.2"/><circle cx="115.8" cy="745.5" r="2.2"/><circle cx="62.9" cy="749.1" r="2.2"/><circle cx="65.3" cy="752.9" r="2.2"/><circle cx="158.5" cy="718" r="2.2"/><circle cx="110.7" cy="754.8" r="2.2"/><circle cx="147.8" cy="726" r="2.2"/><circle cx="89.6" cy="754.5" r="2.2"/><circle cx="72.8" cy="756.2" r="2.2"/><circle cx="97.1" cy="754.5" r="2.2"/><circle cx="129.5" cy="740" r="2.2"/><circle cx="185.4" cy="691.6" r="2.2"/><circle cx="115.3" cy="754.4" r="2.2"/><circle cx="125.7" cy="743.8" r="2.2"/><circle cx="86" cy="760.4" r="2.2"/><circle cx="199.5" cy="668" r="2.2"/><circle cx="166.7" cy="709.8" r="2.2"/><circle cx="154.4" cy="724" r="2.2"/><circle cx="141.5" cy="734.1" r="2.2"/><circle cx="103.9" cy="756.6" r="2.2"/><circle cx="195.9" cy="672.9" r="2.2"/><circle cx="203.8" cy="660.6" r="2.2"/><circle cx="183.9" cy="692.3" r="2.2"/><circle cx="73" cy="754.9" r="2.2"/><circle cx="121.3" cy="747.7" r="2.2"/><circle cx="71.3" cy="752" r="2.2"/><circle cx="64.8" cy="748.7" r="2.2"/><circle cx="120.8" cy="754.4" r="2.2"/><circle cx="47.9" cy="741.9" r="2.2"/><circle cx="156" cy="721.1" r="2.2"/><circle cx="199" cy="666.7" r="2.2"/><circle cx="61.9" cy="751.2" r="2.2"/><circle cx="84.6" cy="752.7" r="2.2"/><circle cx="49.1" cy="744.8" r="2.2"/><circle cx="143.3" cy="739.6" r="2.2"/><circle cx="112.8" cy="756.7" r="2.2"/><circle cx="187" cy="684.5" r="2.2"/><circle cx="130" cy="739.1" r="2.2"/><circle cx="124.5" cy="752.5" r="2.2"/><circle cx="84.4" cy="754.4" r="2.2"/><circle cx="176.8" cy="703.8" r="2.2"/><circle cx="82.4" cy="754.4" r="2.2"/><circle cx="84.4" cy="751.6" r="2.2"/><circle cx="77.5" cy="757.8" r="2.2"/><circle cx="101.8" cy="760.1" r="2.2"/><circle cx="204.3" cy="666.2" r="2.2"/><circle cx="167.9" cy="716.1" r="2.2"/><circle cx="121.9" cy="753.6" r="2.2"/><circle cx="73.6" cy="752.5" r="2.2"/><circle cx="146.7" cy="730.1" r="2.2"/><circle cx="169.6" cy="709" r="2.2"/><circle cx="166.5" cy="715" r="2.2"/><circle cx="171.2" cy="710.3" r="2.2"/><circle cx="140.4" cy="738" r="2.2"/><circle cx="44.1" cy="737.8" r="2.2"/><circle cx="181.1" cy="697.4" r="2.2"/><circle cx="132.2" cy="738.5" r="2.2"/><circle cx="69.3" cy="753.1" r="2.2"/><circle cx="118.5" cy="752.9" r="2.2"/><circle cx="130" cy="747.6" r="2.2"/><circle cx="70.1" cy="751.2" r="2.2"/><circle cx="63.1" cy="747" r="2.2"/><circle cx="167.2" cy="719.1" r="2.2"/><circle cx="126.6" cy="751" r="2.2"/><circle cx="178.1" cy="695.7" r="2.2"/><circle cx="110" cy="751.6" r="2.2"/><circle cx="68.1" cy="747" r="2.2"/><circle cx="175.1" cy="705" r="2.2"/><circle cx="83.1" cy="761.5" r="2.2"/><circle cx="203.1" cy="657.6" r="2.2"/><circle cx="78.5" cy="757.8" r="2.2"/><circle cx="96.1" cy="752.5" r="2.2"/><circle cx="149" cy="733.4" r="2.2"/><circle cx="133.1" cy="737.8" r="2.2"/><circle cx="126.6" cy="749.8" r="2.2"/><circle cx="146.3" cy="729" r="2.2"/><circle cx="169.1" cy="705.7" r="2.2"/><circle cx="176.1" cy="700.9" r="2.2"/><circle cx="75.9" cy="751.3" r="2.2"/><circle cx="114" cy="749" r="2.2"/><circle cx="100.9" cy="754.7" r="2.2"/><circle cx="127.3" cy="752.1" r="2.2"/><circle cx="76.7" cy="755.6" r="2.2"/><circle cx="175.8" cy="697.1" r="2.2"/><circle cx="146.6" cy="728" r="2.2"/><circle cx="87.8" cy="751.9" r="2.2"/><circle cx="100.9" cy="750.6" r="2.2"/><circle cx="203.9" cy="663.4" r="2.2"/><circle cx="184.2" cy="689" r="2.2"/><circle cx="138.2" cy="743.8" r="2.2"/><circle cx="199.2" cy="671" r="2.2"/><circle cx="58.6" cy="748.9" r="2.2"/><circle cx="127.3" cy="748.6" r="2.2"/><circle cx="60.7" cy="747.8" r="2.2"/><circle cx="114.1" cy="752.3" r="2.2"/><circle cx="175.6" cy="698.7" r="2.2"/><circle cx="102.3" cy="757.6" r="2.2"/><circle cx="201.3" cy="659.2" r="2.2"/><circle cx="153.5" cy="731.4" r="2.2"/><circle cx="62.5" cy="744.6" r="2.2"/><circle cx="111" cy="757.3" r="2.2"/><circle cx="48.8" cy="743" r="2.2"/><circle cx="124.2" cy="746.8" r="2.2"/><circle cx="184.8" cy="694.7" r="2.2"/><circle cx="53.6" cy="744.6" r="2.2"/><circle cx="200.7" cy="666.1" r="2.2"/><circle cx="188.8" cy="686.5" r="2.2"/><circle cx="177.3" cy="694.3" r="2.2"/><circle cx="121.2" cy="743.6" r="2.2"/><circle cx="168" cy="709.6" r="2.2"/><circle cx="68.1" cy="749.9" r="2.2"/><circle cx="86.1" cy="754.8" r="2.2"/><circle cx="77.7" cy="753.5" r="2.2"/><circle cx="67" cy="752.4" r="2.2"/><circle cx="175.3" cy="706.9" r="2.2"/><circle cx="41.6" cy="738.2" r="2.2"/><circle cx="73.8" cy="753.7" r="2.2"/><circle cx="116.8" cy="746.2" r="2.2"/><circle cx="195.5" cy="675.1" r="2.2"/><circle cx="52.1" cy="742.3" r="2.2"/><circle cx="174.3" cy="700.9" r="2.2"/><circle cx="198.6" cy="670" r="2.2"/><circle cx="131.1" cy="749.3" r="2.2"/><circle cx="148.3" cy="727.4" r="2.2"/><circle cx="176.5" cy="698.2" r="2.2"/><circle cx="170.2" cy="705.2" r="2.2"/><circle cx="91" cy="761.3" r="2.2"/><circle cx="114.2" cy="754.5" r="2.2"/><circle cx="99.1" cy="759.9" r="2.2"/><circle cx="72.6" cy="751.8" r="2.2"/><circle cx="86.9" cy="760" r="2.2"/><circle cx="93.9" cy="756.1" r="2.2"/><circle cx="157.2" cy="720.8" r="2.2"/><circle cx="165.9" cy="717.5" r="2.2"/><circle cx="180.8" cy="690.8" r="2.2"/><circle cx="198.2" cy="667.5" r="2.2"/><circle cx="201.3" cy="667.2" r="2.2"/><circle cx="155" cy="720.5" r="2.2"/><circle cx="75.6" cy="758.3" r="2.2"/><circle cx="189.9" cy="683.6" r="2.2"/><circle cx="65.1" cy="751.4" r="2.2"/><circle cx="76.4" cy="756.8" r="2.2"/><circle cx="60.4" cy="744.5" r="2.2"/><circle cx="106.5" cy="749.5" r="2.2"/><circle cx="196.5" cy="674.7" r="2.2"/><circle cx="182.1" cy="689" r="2.2"/><circle cx="196.7" cy="669.4" r="2.2"/><circle cx="197" cy="666.9" r="2.2"/><circle cx="104.5" cy="759" r="2.2"/><circle cx="160.4" cy="715.4" r="2.2"/><circle cx="124.3" cy="740.7" r="2.2"/><circle cx="59.5" cy="752.3" r="2.2"/><circle cx="58.9" cy="750" r="2.2"/><circle cx="75.1" cy="757.1" r="2.2"/><circle cx="134.4" cy="745.5" r="2.2"/><circle cx="124.8" cy="742.5" r="2.2"/><circle cx="92.4" cy="759.8" r="2.2"/><circle cx="203.7" cy="659.6" r="2.2"/><circle cx="159.8" cy="717.6" r="2.2"/><circle cx="79.7" cy="753.5" r="2.2"/><circle cx="189.5" cy="678.4" r="2.2"/><circle cx="144.2" cy="730.3" r="2.2"/><circle cx="174.2" cy="698.9" r="2.2"/><circle cx="81.3" cy="759.2" r="2.2"/><circle cx="66.1" cy="747.3" r="2.2"/><circle cx="190.6" cy="684.3" r="2.2"/><circle cx="116" cy="748.3" r="2.2"/><circle cx="136.7" cy="745.4" r="2.2"/><circle cx="88" cy="759.3" r="2.2"/><circle cx="145.1" cy="726.7" r="2.2"/><circle cx="131.6" cy="739.3" r="2.2"/><circle cx="173.8" cy="703.5" r="2.2"/><circle cx="192.1" cy="677.8" r="2.2"/><circle cx="45.5" cy="737.9" r="2.2"/><circle cx="147.8" cy="735.7" r="2.2"/><circle cx="83" cy="757.4" r="2.2"/><circle cx="192.6" cy="679.5" r="2.2"/><circle cx="173.5" cy="699.6" r="2.2"/><circle cx="195.7" cy="676.7" r="2.2"/><circle cx="194" cy="672.9" r="2.2"/><circle cx="86.6" cy="757.7" r="2.2"/><circle cx="33.6" cy="731.7" r="2.2"/><circle cx="139" cy="735.1" r="2.2"/><circle cx="103.5" cy="758" r="2.2"/><circle cx="75.1" cy="753.3" r="2.2"/><circle cx="99.2" cy="755.6" r="2.2"/><circle cx="115.3" cy="747.5" r="2.2"/><circle cx="94.4" cy="759.6" r="2.2"/><circle cx="111.9" cy="752.9" r="2.2"/><circle cx="90.7" cy="756.5" r="2.2"/><circle cx="96.7" cy="751.7" r="2.2"/><circle cx="75.1" cy="754.3" r="2.2"/><circle cx="96.5" cy="759" r="2.2"/><circle cx="188.9" cy="681.6" r="2.2"/><circle cx="72.3" cy="759.1" r="2.2"/><circle cx="95" cy="751.6" r="2.2"/><circle cx="44.8" cy="741.3" r="2.2"/><circle cx="159.3" cy="727.4" r="2.2"/><circle cx="90.1" cy="760.5" r="2.2"/><circle cx="172.4" cy="701.5" r="2.2"/><circle cx="62.5" cy="748.1" r="2.2"/><circle cx="110.4" cy="758.5" r="2.2"/><circle cx="189.9" cy="680.4" r="2.2"/><circle cx="130.9" cy="742.3" r="2.2"/><circle cx="158.5" cy="716.2" r="2.2"/><circle cx="100" cy="753.6" r="2.2"/><circle cx="171.9" cy="702.7" r="2.2"/><circle cx="36.2" cy="734.7" r="2.2"/><circle cx="91.5" cy="756" r="2.2"/><circle cx="73.4" cy="756.9" r="2.2"/><circle cx="134.2" cy="735.7" r="2.2"/><circle cx="57" cy="747.6" r="2.2"/><circle cx="198.4" cy="665.5" r="2.2"/><circle cx="65.4" cy="749.8" r="2.2"/><circle cx="51.9" cy="748.1" r="2.2"/><circle cx="145.6" cy="733.8" r="2.2"/><circle cx="89.5" cy="752.9" r="2.2"/><circle cx="134.4" cy="746.9" r="2.2"/><circle cx="179.1" cy="698.8" r="2.2"/><circle cx="116.7" cy="749.4" r="2.2"/><circle cx="127.1" cy="740.6" r="2.2"/><circle cx="155.9" cy="727.1" r="2.2"/><circle cx="111.8" cy="759" r="2.2"/><circle cx="63.1" cy="750.9" r="2.2"/><circle cx="71.7" cy="755" r="2.2"/><circle cx="92.2" cy="758.2" r="2.2"/><circle cx="183.2" cy="696.1" r="2.2"/><circle cx="94.8" cy="761" r="2.2"/><circle cx="122.7" cy="743.9" r="2.2"/><circle cx="139.9" cy="739.9" r="2.2"/><circle cx="121.1" cy="748.8" r="2.2"/><circle cx="189.7" cy="688.4" r="2.2"/><circle cx="154.8" cy="729.6" r="2.2"/><circle cx="56.5" cy="750.5" r="2.2"/><circle cx="143.7" cy="734.1" r="2.2"/><circle cx="166.9" cy="707" r="2.2"/><circle cx="79.1" cy="758.7" r="2.2"/><circle cx="81.9" cy="749.9" r="2.2"/><circle cx="135.7" cy="746.5" r="2.2"/><circle cx="99" cy="753.4" r="2.2"/><circle cx="110.8" cy="748.4" r="2.2"/><circle cx="59" cy="744.8" r="2.2"/><circle cx="120.6" cy="744.9" r="2.2"/><circle cx="69.4" cy="749.1" r="2.2"/><circle cx="125.8" cy="752.3" r="2.2"/><circle cx="179.9" cy="693.1" r="2.2"/><circle cx="187.9" cy="681.2" r="2.2"/><circle cx="54.3" cy="749" r="2.2"/><circle cx="107.9" cy="751.3" r="2.2"/><circle cx="32.9" cy="730" r="2.2"/><circle cx="34.4" cy="728.6" r="2.2"/><circle cx="35.9" cy="734.1" r="2.2"/></g>
<path d="M202.6 661.7L202.6 661.6L202.5 661.7L202.3 661.9L202 662.2L201.7 662.6L201.3 663.2L200.8 663.9L200.2 664.7L199.6 665.6L198.9 666.7L198.1 667.8L197.2 669.1L196.3 670.4L195.3 671.9L194.3 673.4L193.1 675.1L191.9 676.8L190.7 678.6L189.4 680.5L188 682.4L186.6 684.4L185.1 686.4L183.6 688.5L182 690.6L180.3 692.8L178.6 695L176.9 697.2L175.1 699.4L173.3 701.7L171.4 703.9L169.5 706.1L167.6 708.4L165.6 710.6L163.6 712.8L161.5 714.9L159.5 717L157.4 719.1L155.3 721.2L153.2 723.2L151 725.1L148.9 727.1L146.7 728.9L144.6 730.7L142.4 732.4L140.2 734.1L138 735.7L135.8 737.2L133.7 738.6L131.5 740L129.4 741.3L127.2 742.6L125.1 743.7L123 744.8L120.9 745.8L118.9 746.8L116.8 747.6L114.8 748.4L112.8 749.2L110.9 749.8L109 750.5L107.1 751L105.3 751.5L103.5 751.9L101.8 752.3L100.1 752.7L98.4 752.9L96.8 753.2L95.3 753.4L93.8 753.6L92.4 753.7L91 753.8L89.7 753.9L88.5 754L87.3 754L86.1 754.1L85.1 754.1L84.1 754.1L83.2 754.1L82.3 754.2L81.5 754.2L80.8 754.2L80.2 754.2L79.6 754.2L79.1 754.3L78.7 754.3L78.4 754.4L78.1 754.5L77.9 754.5L77.8 754.7L77.8 754.8L77.8 754.9L77.9 755.1L78.1 755.2L78.4 755.4L78.7 755.6L79.1 755.8L79.6 756L80.2 756.2L80.8 756.5L81.5 756.7L82.3 756.9L83.2 757.1L84.1 757.4L85.1 757.6L86.1 757.8L87.3 757.9L88.5 758.1L89.7 758.3L91 758.4L92.4 758.5L93.8 758.5L95.3 758.5L96.8 758.5L98.4 758.4L100.1 758.3L101.8 758.1L103.5 757.9L105.3 757.6L107.1 757.3L109 756.8L110.9 756.3L112.8 755.8L114.8 755.2L116.8 754.5L118.9 753.7L120.9 752.8L123 751.9L125.1 750.9L127.2 749.8L129.4 748.6L131.5 747.3L133.7 746L135.8 744.5L138 743L140.2 741.4L142.4 739.8L144.6 738L146.7 736.2L148.9 734.3L151 732.4L153.2 730.4L155.3 728.3L157.4 726.2L159.5 724L161.5 721.8L163.6 719.6L165.6 717.3L167.6 715L169.5 712.6L171.4 710.3L173.3 707.9L175.1 705.5L176.9 703.2L178.6 700.8L180.3 698.4L182 696.1L183.6 693.8L185.1 691.5L186.6 689.3L188 687.1L189.4 685L190.7 682.9L191.9 680.9L193.1 679L194.3 677.1L195.3 675.3L196.3 673.7L197.2 672.1L198.1 670.6L198.9 669.2L199.6 667.9L200.2 666.7L200.8 665.7L201.3 664.7L201.7 663.9L202 663.2L202.3 662.6L202.5 662.2L202.6 661.9L202.6 661.7Z" stroke="#46075a" stroke-width="1.1" fill="none" stroke-linejoin="round" clip-path="url(#c12)"/>
<path d="M187.3 685.8L187.3 685.8L187.2 685.8L187 685.9L186.8 686.1L186.6 686.4L186.3 686.7L185.9 687.2L185.5 687.7L185 688.3L184.5 688.9L183.9 689.7L183.2 690.5L182.5 691.4L181.8 692.3L181 693.3L180.1 694.4L179.2 695.5L178.3 696.7L177.3 697.9L176.3 699.2L175.2 700.5L174.1 701.8L172.9 703.2L171.7 704.7L170.5 706.1L169.2 707.6L167.9 709L166.5 710.5L165.2 712.1L163.7 713.6L162.3 715.1L160.8 716.6L159.4 718.1L157.8 719.7L156.3 721.2L154.8 722.6L153.2 724.1L151.6 725.6L150 727L148.4 728.4L146.8 729.8L145.1 731.1L143.5 732.4L141.8 733.7L140.2 735L138.6 736.2L136.9 737.3L135.3 738.5L133.6 739.6L132 740.6L130.4 741.6L128.8 742.6L127.2 743.5L125.6 744.4L124.1 745.2L122.6 746L121 746.7L119.6 747.4L118.1 748.1L116.7 748.7L115.2 749.3L113.9 749.8L112.5 750.3L111.2 750.8L109.9 751.3L108.7 751.7L107.5 752L106.3 752.4L105.2 752.7L104.1 753L103.1 753.3L102.1 753.5L101.2 753.8L100.3 754L99.4 754.2L98.6 754.4L97.9 754.5L97.2 754.7L96.5 754.8L95.9 755L95.4 755.1L94.9 755.2L94.5 755.3L94.1 755.4L93.8 755.6L93.6 755.7L93.4 755.8L93.2 755.9L93.1 756L93.1 756.1L93.1 756.2L93.2 756.3L93.4 756.3L93.6 756.4L93.8 756.5L94.1 756.6L94.5 756.7L94.9 756.7L95.4 756.8L95.9 756.9L96.5 756.9L97.2 756.9L97.9 757L98.6 757L99.4 757L100.3 756.9L101.2 756.9L102.1 756.8L103.1 756.7L104.1 756.6L105.2 756.4L106.3 756.2L107.5 756L108.7 755.8L109.9 755.5L111.2 755.2L112.5 754.8L113.9 754.4L115.2 754L116.7 753.5L118.1 753L119.6 752.4L121 751.8L122.6 751.1L124.1 750.4L125.6 749.6L127.2 748.8L128.8 748L130.4 747L132 746.1L133.6 745.1L135.3 744L136.9 742.9L138.6 741.7L140.2 740.5L141.8 739.3L143.5 738L145.1 736.7L146.8 735.3L148.4 733.9L150 732.4L151.6 731L153.2 729.5L154.8 727.9L156.3 726.4L157.8 724.8L159.4 723.2L160.8 721.6L162.3 720L163.7 718.4L165.2 716.8L166.5 715.2L167.9 713.5L169.2 711.9L170.5 710.3L171.7 708.8L172.9 707.2L174.1 705.7L175.2 704.2L176.3 702.8L177.3 701.3L178.3 700L179.2 698.6L180.1 697.3L181 696.1L181.8 694.9L182.5 693.8L183.2 692.8L183.9 691.8L184.5 690.8L185 690L185.5 689.2L185.9 688.5L186.3 687.9L186.6 687.3L186.8 686.9L187 686.5L187.2 686.2L187.3 685.9L187.3 685.8Z" stroke="#3b528b" stroke-width="1.1" fill="none" stroke-linejoin="round" clip-path="url(#c12)"/>
<path d="M175.4 702.1L175.3 702.1L175.3 702.1L175.2 702.2L175 702.3L174.8 702.5L174.6 702.7L174.3 703L174 703.3L173.6 703.7L173.2 704.1L172.8 704.6L172.3 705.1L171.8 705.7L171.2 706.3L170.7 707L170 707.7L169.4 708.4L168.6 709.2L167.9 710L167.1 710.8L166.3 711.7L165.5 712.6L164.6 713.5L163.7 714.5L162.8 715.4L161.8 716.4L160.9 717.4L159.9 718.4L158.8 719.5L157.8 720.5L156.7 721.5L155.6 722.6L154.5 723.6L153.4 724.7L152.2 725.7L151.1 726.8L149.9 727.8L148.7 728.8L147.5 729.9L146.3 730.9L145.1 731.9L143.9 732.8L142.7 733.8L141.4 734.8L140.2 735.7L139 736.6L137.7 737.5L136.5 738.3L135.3 739.2L134.1 740L132.9 740.8L131.7 741.5L130.5 742.3L129.3 743L128.2 743.7L127 744.3L125.9 745L124.8 745.6L123.7 746.2L122.6 746.7L121.6 747.3L120.5 747.8L119.5 748.3L118.6 748.7L117.6 749.1L116.7 749.6L115.8 750L114.9 750.3L114.1 750.7L113.3 751L112.5 751.3L111.8 751.6L111 751.9L110.4 752.2L109.7 752.4L109.2 752.6L108.6 752.8L108.1 753L107.6 753.2L107.2 753.4L106.8 753.6L106.4 753.7L106.1 753.9L105.8 754L105.6 754.1L105.4 754.2L105.2 754.3L105.1 754.4L105.1 754.5L105 754.6L105.1 754.7L105.1 754.7L105.2 754.8L105.4 754.8L105.6 754.9L105.8 754.9L106.1 754.9L106.4 754.9L106.8 754.9L107.2 754.8L107.6 754.8L108.1 754.7L108.6 754.7L109.2 754.6L109.7 754.5L110.4 754.4L111 754.2L111.8 754.1L112.5 753.9L113.3 753.7L114.1 753.5L114.9 753.2L115.8 752.9L116.7 752.6L117.6 752.3L118.6 752L119.5 751.6L120.5 751.2L121.6 750.8L122.6 750.3L123.7 749.8L124.8 749.3L125.9 748.8L127 748.2L128.2 747.6L129.3 746.9L130.5 746.3L131.7 745.6L132.9 744.8L134.1 744.1L135.3 743.3L136.5 742.5L137.7 741.6L139 740.7L140.2 739.8L141.4 738.9L142.7 737.9L143.9 737L145.1 736L146.3 735L147.5 733.9L148.7 732.9L149.9 731.8L151.1 730.7L152.2 729.6L153.4 728.5L154.5 727.4L155.6 726.3L156.7 725.2L157.8 724.1L158.8 723L159.9 721.9L160.9 720.8L161.8 719.7L162.8 718.6L163.7 717.5L164.6 716.5L165.5 715.5L166.3 714.5L167.1 713.5L167.9 712.5L168.6 711.6L169.4 710.7L170 709.9L170.7 709L171.2 708.3L171.8 707.5L172.3 706.8L172.8 706.1L173.2 705.5L173.6 705L174 704.4L174.3 704L174.6 703.6L174.8 703.2L175 702.9L175.2 702.6L175.3 702.4L175.3 702.2L175.4 702.1Z" stroke="#21918c" stroke-width="1.1" fill="none" stroke-linejoin="round" clip-path="url(#c12)"/>
<path d="M163.4 716.3L163.4 716.3L163.4 716.3L163.3 716.3L163.2 716.4L163.1 716.5L162.9 716.6L162.8 716.7L162.5 716.9L162.3 717.1L162 717.4L161.7 717.6L161.4 717.9L161.1 718.3L160.7 718.6L160.3 719L159.9 719.4L159.5 719.8L159 720.2L158.5 720.7L158 721.2L157.5 721.7L156.9 722.2L156.3 722.7L155.8 723.3L155.1 723.9L154.5 724.4L153.9 725L153.2 725.6L152.5 726.3L151.8 726.9L151.1 727.5L150.4 728.1L149.7 728.8L148.9 729.4L148.1 730.1L147.4 730.7L146.6 731.3L145.8 732L145 732.6L144.2 733.3L143.4 733.9L142.6 734.5L141.8 735.2L141 735.8L140.2 736.4L139.4 737L138.6 737.6L137.8 738.2L137 738.7L136.2 739.3L135.4 739.8L134.6 740.4L133.8 740.9L133 741.4L132.3 741.9L131.5 742.4L130.7 742.9L130 743.3L129.3 743.8L128.6 744.2L127.9 744.6L127.2 745L126.5 745.4L125.9 745.8L125.3 746.2L124.6 746.5L124.1 746.8L123.5 747.1L122.9 747.5L122.4 747.7L121.9 748L121.4 748.3L120.9 748.5L120.5 748.8L120.1 749L119.7 749.2L119.3 749.4L119 749.6L118.7 749.8L118.4 750L118.1 750.1L117.9 750.3L117.6 750.4L117.5 750.5L117.3 750.6L117.2 750.7L117.1 750.8L117 750.9L117 750.9L117 751L117 751L117 751.1L117.1 751.1L117.2 751.1L117.3 751.1L117.5 751.1L117.6 751L117.9 751L118.1 751L118.4 750.9L118.7 750.8L119 750.7L119.3 750.6L119.7 750.5L120.1 750.4L120.5 750.2L120.9 750.1L121.4 749.9L121.9 749.7L122.4 749.5L122.9 749.3L123.5 749.1L124.1 748.8L124.6 748.5L125.3 748.3L125.9 748L126.5 747.6L127.2 747.3L127.9 746.9L128.6 746.6L129.3 746.2L130 745.8L130.7 745.4L131.5 744.9L132.3 744.5L133 744L133.8 743.5L134.6 743L135.4 742.5L136.2 742L137 741.4L137.8 740.9L138.6 740.3L139.4 739.7L140.2 739.1L141 738.5L141.8 737.9L142.6 737.3L143.4 736.6L144.2 736L145 735.3L145.8 734.6L146.6 734L147.4 733.3L148.1 732.6L148.9 732L149.7 731.3L150.4 730.6L151.1 729.9L151.8 729.2L152.5 728.6L153.2 727.9L153.9 727.3L154.5 726.6L155.1 726L155.8 725.3L156.3 724.7L156.9 724.1L157.5 723.5L158 722.9L158.5 722.4L159 721.9L159.5 721.3L159.9 720.8L160.3 720.4L160.7 719.9L161.1 719.5L161.4 719.1L161.7 718.7L162 718.3L162.3 718L162.5 717.7L162.8 717.4L162.9 717.2L163.1 716.9L163.2 716.8L163.3 716.6L163.4 716.5L163.4 716.4L163.4 716.3Z" stroke="#5ec962" stroke-width="1.1" fill="none" stroke-linejoin="round" clip-path="url(#c12)"/>
<path d="M91 778.7v3M189.4 778.7v3" stroke="#8e8e8e" stroke-width="0.8" fill="none"/>
<text class="tk" x="91" y="797.1" text-anchor="middle">0</text>
<text class="tk" x="189.4" y="797.1" text-anchor="middle">2</text>
<path d="M30.3 756.1h-3M30.3 719.4h-3M30.3 682.7h-3M30.3 646h-3" stroke="#8e8e8e" stroke-width="0.8" fill="none"/>
<text class="tk" x="24.8" y="762.1" text-anchor="end">0</text>
<text class="tk" x="24.8" y="725.4" text-anchor="end">2</text>
<text class="tk" x="24.8" y="688.7" text-anchor="end">4</text>
<text class="tk" x="24.8" y="652" text-anchor="end">6</text>
<text class="th" x="135" y="813.5" text-anchor="middle"><tspan font-style="italic">θ</tspan><tspan font-size="11" dy="3.4">1</tspan></text>
<text class="th" x="9" y="712.5" text-anchor="middle" transform="rotate(-90 9 708)"><tspan font-style="italic">θ</tspan><tspan font-size="11" dy="3.4">2</tspan></text>
<clipPath id="c13"><rect x="264.3" y="636.9" width="53.8" height="141.8"/></clipPath>
<rect x="264.3" y="636.9" width="53.8" height="141.8" fill="#e8e8e8"/>
<path d="M266.3 636.9V778.7M315.9 636.9V778.7M264.3 756.1H318.1M264.3 719.4H318.1M264.3 682.7H318.1M264.3 646H318.1" stroke="#ffffff" stroke-width="0.85" fill="none"/>
<path d="M265.9 635.4L265.9 636.9L265.8 638.4L265.8 639.9L265.7 641.4L265.6 643L265.5 644.5L265.5 646L265.5 647.5L265.6 648.9L265.8 650.4L266 651.9L266.4 653.3L266.9 654.7L267.5 656L268.3 657.4L269.1 658.7L270 659.9L270.9 661.2L271.6 662.5L272.2 663.8L272.4 665.2L272.3 666.7L271.9 668.2L271.4 669.7L270.9 671.1L270.3 672.5L269.9 673.9L269.6 675.4L269.6 676.8L269.7 678.3L270 679.7L270.5 681.2L270.9 682.7L271.4 684.2L271.9 685.6L272.4 687L272.8 688.5L273.3 689.9L273.8 691.3L274.2 692.7L274.7 694.1L275.2 695.5L275.8 696.8L276.4 698.2L276.9 699.6L277.5 701L278.1 702.4L278.6 703.8L279.1 705.2L279.5 706.6L279.8 708.1L280.1 709.6L280.4 711L280.5 712.5L280.6 714L280.8 715.5L281 717L281.4 718.4L281.8 719.8L282.4 721.2L283.2 722.5L283.9 723.8L284.8 725.1L285.6 726.3L286.5 727.6L287.4 728.7L288.3 729.9L289.2 731.1L290.2 732.2L291.2 733.3L292.2 734.4L293.3 735.5L294.4 736.5L295.6 737.5L296.7 738.5L297.9 739.5L299.1 740.4L300.3 741.3L301.4 742.2L302.6 743L303.7 743.8L304.9 744.5L306.1 745.2L307.3 746L308.6 746.7L310 747.5L311.5 748.4L313.1 749.3L314.6 750.2L315.5 751.2L315.4 752.2L314.5 753.1L313 754L311.3 754.8L309.7 755.5L308.1 756.1L306.5 756.6L305 757.1L303.5 757.4L302.1 757.7L300.7 758L299.4 758.2L298 758.3L296.6 758.5L295.3 758.6L293.9 758.8L292.5 758.9L291.1 759.1L289.7 759.3L288.3 759.5L286.8 759.8L285.4 760L283.9 760.3L282.4 760.5L280.9 760.8L279.4 761.1L277.8 761.4L276.3 761.8L274.7 762.1L273.2 762.5L271.7 763L270.3 763.6L269 764.3L268 765.3L267.1 766.4L266.5 767.8L266 769.3L265.7 770.8L265.5 772.3L265.5 773.8L265.5 775.2L265.6 776.7L265.7 778.2L265.9 779.7" stroke="#2b50a8" stroke-width="1.35" fill="none" stroke-linejoin="round" clip-path="url(#c13)"/>
<path d="M266.3 778.7v3M315.9 778.7v3" stroke="#8e8e8e" stroke-width="0.8" fill="none"/>
<text class="tk" x="266.3" y="797.1" text-anchor="middle">0.0</text>
<text class="tk" x="315.9" y="797.1" text-anchor="middle">0.5</text>
<text class="cap" x="108.5" y="836" textLength="65" lengthAdjust="spacingAndGlyphs">(e) NUTS</text>
<clipPath id="c14"><rect x="390.9" y="581.8" width="214.1" height="31.1"/></clipPath>
<rect x="390.9" y="581.8" width="214.1" height="31.1" fill="#e8e8e8"/>
<path d="M453.7 581.8V612.9M552.5 581.8V612.9M390.9 611.6H605M390.9 585.8H605" stroke="#ffffff" stroke-width="0.85" fill="none"/>
<path d="M389.9 611.4L391.4 611.4L392.9 611.4L394.4 611.3L395.9 611.2L397.4 611.1L398.9 611L400.4 610.8L401.8 610.7L403.3 610.5L404.8 610.4L406.3 610.2L407.8 610.1L409.3 609.9L410.8 609.8L412.2 609.7L413.7 609.5L415.2 609.4L416.7 609.2L418.2 609L419.7 608.9L421.1 608.7L422.6 608.5L424.1 608.3L425.6 608.1L427.1 607.9L428.5 607.6L430 607.3L431.5 607.1L432.9 606.7L434.4 606.4L435.8 606L437.3 605.6L438.7 605.2L440.1 604.8L441.5 604.3L442.9 603.8L444.3 603.3L445.7 602.8L447.1 602.2L448.5 601.6L449.9 601.1L451.3 600.5L452.6 599.9L454 599.3L455.4 598.7L456.7 598.1L458.1 597.5L459.5 596.9L460.9 596.4L462.2 595.8L463.6 595.3L465 594.7L466.4 594.2L467.8 593.6L469.2 593.1L470.6 592.5L471.9 591.9L473.3 591.4L474.7 590.8L476.1 590.2L477.5 589.6L478.8 589.1L480.2 588.5L481.6 588L483 587.5L484.4 587L485.8 586.5L487.3 586.1L488.7 585.7L490.1 585.3L491.6 584.9L493.1 584.6L494.5 584.3L496 584L497.5 583.7L498.9 583.5L500.4 583.3L501.9 583.1L503.4 582.9L504.9 582.8L506.4 582.8L507.9 582.9L509.3 583L510.8 583.2L512.3 583.4L513.8 583.7L515.2 584.1L516.7 584.5L518.1 585L519.5 585.5L520.9 586L522.3 586.6L523.6 587.2L525 587.9L526.3 588.6L527.6 589.3L528.9 590L530.2 590.7L531.5 591.5L532.8 592.2L534.1 593L535.4 593.7L536.7 594.5L538 595.2L539.3 595.9L540.7 596.6L542 597.2L543.3 597.8L544.7 598.4L546.1 598.9L547.5 599.5L548.9 600L550.3 600.5L551.7 601L553.1 601.5L554.6 601.9L556 602.4L557.4 602.9L558.8 603.4L560.2 603.9L561.6 604.4L563 604.8L564.5 605.3L565.9 605.7L567.3 606.1L568.8 606.5L570.2 606.9L571.7 607.2L573.1 607.5L574.6 607.8L576.1 608.1L577.5 608.3L579 608.6L580.5 608.8L582 609L583.4 609.2L584.9 609.5L586.4 609.7L587.9 609.8L589.4 610L590.8 610.2L592.3 610.3L593.8 610.5L595.3 610.6L596.8 610.7L598.3 610.8L599.8 610.8L601.3 610.9L602.7 611L604.2 611L605.7 611.1" stroke="#2b50a8" stroke-width="1.35" fill="none" stroke-linejoin="round" clip-path="url(#c14)"/>
<path d="M390.9 611.6h-3M390.9 585.8h-3" stroke="#8e8e8e" stroke-width="0.8" fill="none"/>
<text class="tk" x="385.4" y="617.6" text-anchor="end">0.0</text>
<text class="tk" x="385.4" y="591.8" text-anchor="end">0.5</text>
<clipPath id="c15"><rect x="390.9" y="636.9" width="214.1" height="141.8"/></clipPath>
<rect x="390.9" y="636.9" width="214.1" height="141.8" fill="#e8e8e8"/>
<path d="M453.7 636.9V778.7M552.5 636.9V778.7M390.9 756.1H605M390.9 719.4H605M390.9 682.7H605M390.9 646H605" stroke="#ffffff" stroke-width="0.85" fill="none"/>
<g class="dots" fill="#264eb0" stroke="#03061c" stroke-width="0.75" clip-path="url(#c15)"><circle cx="508.2" cy="734" r="2.2"/><circle cx="507.2" cy="736.3" r="2.2"/><circle cx="481.8" cy="749.6" r="2.2"/><circle cx="523.5" cy="720.5" r="2.2"/><circle cx="489.5" cy="748.1" r="2.2"/><circle cx="553.9" cy="679.4" r="2.2"/><circle cx="448.8" cy="757" r="2.2"/><circle cx="469.5" cy="754.7" r="2.2"/><circle cx="539.1" cy="700" r="2.2"/><circle cx="486.4" cy="748.3" r="2.2"/><circle cx="534.5" cy="706.7" r="2.2"/><circle cx="527.4" cy="714.5" r="2.2"/><circle cx="540.4" cy="700.1" r="2.2"/><circle cx="549.7" cy="684.8" r="2.2"/><circle cx="548.6" cy="688" r="2.2"/><circle cx="482.9" cy="749.7" r="2.2"/><circle cx="551.2" cy="684.4" r="2.2"/><circle cx="531.5" cy="709" r="2.2"/><circle cx="486.2" cy="744.1" r="2.2"/><circle cx="441.3" cy="757.1" r="2.2"/><circle cx="521" cy="722.7" r="2.2"/><circle cx="561.1" cy="668.5" r="2.2"/><circle cx="524.5" cy="721.9" r="2.2"/><circle cx="447.5" cy="756.3" r="2.2"/><circle cx="536.5" cy="704.3" r="2.2"/><circle cx="486.8" cy="750.7" r="2.2"/><circle cx="427.3" cy="750" r="2.2"/><circle cx="456.1" cy="754.8" r="2.2"/><circle cx="542.8" cy="698" r="2.2"/><circle cx="487.3" cy="745.4" r="2.2"/><circle cx="497.4" cy="737.9" r="2.2"/><circle cx="525.3" cy="712.2" r="2.2"/><circle cx="454.3" cy="757.6" r="2.2"/><circle cx="442.7" cy="758.3" r="2.2"/><circle cx="468" cy="754" r="2.2"/><circle cx="503.7" cy="737.7" r="2.2"/><circle cx="487.5" cy="751.8" r="2.2"/><circle cx="462.1" cy="758.3" r="2.2"/><circle cx="502.5" cy="737.5" r="2.2"/><circle cx="472" cy="753.5" r="2.2"/><circle cx="517.4" cy="723.7" r="2.2"/><circle cx="478.7" cy="753.9" r="2.2"/><circle cx="407" cy="741.1" r="2.2"/><circle cx="533.7" cy="708.8" r="2.2"/><circle cx="495.8" cy="746.7" r="2.2"/><circle cx="569.6" cy="655.9" r="2.2"/><circle cx="452.9" cy="756.5" r="2.2"/><circle cx="505.9" cy="737.6" r="2.2"/><circle cx="485.5" cy="747.8" r="2.2"/><circle cx="555.2" cy="678.9" r="2.2"/><circle cx="489" cy="745.4" r="2.2"/><circle cx="458" cy="759.7" r="2.2"/><circle cx="563.1" cy="664.5" r="2.2"/><circle cx="495.8" cy="742.2" r="2.2"/><circle cx="479.9" cy="747.7" r="2.2"/><circle cx="500.4" cy="736.6" r="2.2"/><circle cx="468.9" cy="752.5" r="2.2"/><circle cx="481" cy="747.1" r="2.2"/><circle cx="498.7" cy="738.3" r="2.2"/><circle cx="547.4" cy="691.5" r="2.2"/><circle cx="575.4" cy="649.2" r="2.2"/><circle cx="533.1" cy="711.9" r="2.2"/><circle cx="528.2" cy="712.6" r="2.2"/><circle cx="558" cy="676.2" r="2.2"/><circle cx="445.9" cy="756.5" r="2.2"/><circle cx="440.4" cy="755.3" r="2.2"/><circle cx="463.5" cy="754.9" r="2.2"/><circle cx="512.9" cy="731.2" r="2.2"/><circle cx="495.3" cy="745.3" r="2.2"/><circle cx="522.8" cy="719.7" r="2.2"/><circle cx="522.3" cy="721.3" r="2.2"/><circle cx="450.7" cy="754.8" r="2.2"/><circle cx="496" cy="740.3" r="2.2"/><circle cx="476.7" cy="752.7" r="2.2"/><circle cx="491.6" cy="743.7" r="2.2"/><circle cx="539.1" cy="702" r="2.2"/><circle cx="473.2" cy="755.6" r="2.2"/><circle cx="507" cy="731.8" r="2.2"/><circle cx="493.7" cy="746.1" r="2.2"/><circle cx="410.8" cy="741.7" r="2.2"/><circle cx="488.9" cy="747" r="2.2"/><circle cx="553.2" cy="682" r="2.2"/><circle cx="514.3" cy="728.5" r="2.2"/><circle cx="487.8" cy="747.1" r="2.2"/><circle cx="517.4" cy="725.9" r="2.2"/><circle cx="449" cy="759.9" r="2.2"/><circle cx="537.5" cy="703" r="2.2"/><circle cx="473.1" cy="751.8" r="2.2"/><circle cx="453.8" cy="754.6" r="2.2"/><circle cx="471.5" cy="756.2" r="2.2"/><circle cx="497.2" cy="741.1" r="2.2"/><circle cx="531.5" cy="714.5" r="2.2"/><circle cx="569.7" cy="653.1" r="2.2"/><circle cx="479.8" cy="752.7" r="2.2"/><circle cx="484.2" cy="746.1" r="2.2"/><circle cx="529.6" cy="711.1" r="2.2"/><circle cx="500" cy="737.9" r="2.2"/><circle cx="495.3" cy="743.7" r="2.2"/><circle cx="563.8" cy="666.2" r="2.2"/><circle cx="548.3" cy="686.9" r="2.2"/><circle cx="519.4" cy="722.2" r="2.2"/><circle cx="518.1" cy="729.9" r="2.2"/><circle cx="497.1" cy="739" r="2.2"/><circle cx="480.7" cy="748.9" r="2.2"/><circle cx="571.7" cy="649.1" r="2.2"/><circle cx="533.9" cy="710.2" r="2.2"/><circle cx="430.9" cy="752.4" r="2.2"/><circle cx="467.1" cy="754.8" r="2.2"/><circle cx="474.5" cy="754.1" r="2.2"/><circle cx="485.2" cy="752.1" r="2.2"/><circle cx="506.2" cy="735.8" r="2.2"/><circle cx="483.3" cy="750.9" r="2.2"/><circle cx="565" cy="659.5" r="2.2"/><circle cx="513.1" cy="729.9" r="2.2"/><circle cx="515.3" cy="729.1" r="2.2"/><circle cx="464.5" cy="757.6" r="2.2"/><circle cx="478.2" cy="750.9" r="2.2"/><circle cx="519.7" cy="725.6" r="2.2"/><circle cx="554.6" cy="676.9" r="2.2"/><circle cx="541.6" cy="701.9" r="2.2"/><circle cx="500.5" cy="739.2" r="2.2"/><circle cx="519.6" cy="724.3" r="2.2"/><circle cx="470.7" cy="753.9" r="2.2"/><circle cx="508.9" cy="731.7" r="2.2"/><circle cx="504.9" cy="737.3" r="2.2"/><circle cx="551.4" cy="688.5" r="2.2"/><circle cx="501.7" cy="740.2" r="2.2"/><circle cx="454.9" cy="755.2" r="2.2"/><circle cx="508.4" cy="732.6" r="2.2"/><circle cx="581" cy="634.6" r="2.2"/><circle cx="477.2" cy="751.3" r="2.2"/><circle cx="446.4" cy="753.6" r="2.2"/><circle cx="505.1" cy="735.4" r="2.2"/><circle cx="485" cy="749.5" r="2.2"/><circle cx="545.2" cy="693.1" r="2.2"/><circle cx="515.3" cy="726.7" r="2.2"/><circle cx="543.3" cy="695.8" r="2.2"/><circle cx="541.5" cy="692.4" r="2.2"/><circle cx="536.5" cy="708.6" r="2.2"/><circle cx="478.3" cy="753" r="2.2"/><circle cx="510.1" cy="731.5" r="2.2"/><circle cx="474.8" cy="752" r="2.2"/><circle cx="469.9" cy="750.8" r="2.2"/><circle cx="510.1" cy="733.1" r="2.2"/><circle cx="524.7" cy="717.3" r="2.2"/><circle cx="509" cy="736.9" r="2.2"/><circle cx="450.5" cy="756.7" r="2.2"/><circle cx="526.6" cy="716" r="2.2"/><circle cx="458.6" cy="754.3" r="2.2"/><circle cx="505.6" cy="733.5" r="2.2"/><circle cx="458.8" cy="755.7" r="2.2"/><circle cx="511.4" cy="730.3" r="2.2"/><circle cx="410.2" cy="739" r="2.2"/><circle cx="477.4" cy="753.8" r="2.2"/><circle cx="467.4" cy="756" r="2.2"/><circle cx="442.9" cy="754.4" r="2.2"/><circle cx="460.7" cy="760" r="2.2"/><circle cx="526.9" cy="719.1" r="2.2"/><circle cx="566.2" cy="661.6" r="2.2"/><circle cx="559.1" cy="672.8" r="2.2"/><circle cx="482.6" cy="748" r="2.2"/><circle cx="475.5" cy="754.9" r="2.2"/><circle cx="542.1" cy="699" r="2.2"/><circle cx="521.6" cy="717.4" r="2.2"/><circle cx="524.2" cy="719.7" r="2.2"/><circle cx="444.4" cy="753.2" r="2.2"/><circle cx="491" cy="745" r="2.2"/><circle cx="497.6" cy="744.8" r="2.2"/><circle cx="543.4" cy="693.5" r="2.2"/><circle cx="449.5" cy="755.9" r="2.2"/><circle cx="471.1" cy="752" r="2.2"/><circle cx="437.6" cy="753.8" r="2.2"/><circle cx="499.6" cy="744" r="2.2"/><circle cx="572.3" cy="651.4" r="2.2"/><circle cx="504.9" cy="734.3" r="2.2"/><circle cx="438.7" cy="752.8" r="2.2"/><circle cx="459.1" cy="756.8" r="2.2"/><circle cx="448.4" cy="751.9" r="2.2"/><circle cx="498.6" cy="743.2" r="2.2"/><circle cx="492.3" cy="742" r="2.2"/><circle cx="494.6" cy="741.1" r="2.2"/><circle cx="576.6" cy="643.8" r="2.2"/><circle cx="467.9" cy="752.4" r="2.2"/><circle cx="509.9" cy="728.8" r="2.2"/><circle cx="505.8" cy="740.8" r="2.2"/><circle cx="447.2" cy="759.1" r="2.2"/><circle cx="516.4" cy="729.7" r="2.2"/><circle cx="578.2" cy="638.7" r="2.2"/><circle cx="556.4" cy="678" r="2.2"/><circle cx="567.9" cy="658.7" r="2.2"/><circle cx="539.9" cy="702.9" r="2.2"/><circle cx="461.8" cy="753.6" r="2.2"/><circle cx="508.2" cy="735.2" r="2.2"/><circle cx="433.7" cy="754.7" r="2.2"/><circle cx="564.9" cy="661" r="2.2"/><circle cx="580.5" cy="635.7" r="2.2"/><circle cx="455.7" cy="753.5" r="2.2"/><circle cx="503.8" cy="735.8" r="2.2"/><circle cx="526.1" cy="717.9" r="2.2"/><circle cx="456.4" cy="755.9" r="2.2"/><circle cx="553.6" cy="685.1" r="2.2"/><circle cx="499.9" cy="740.5" r="2.2"/><circle cx="435.2" cy="751.5" r="2.2"/><circle cx="502.9" cy="734.2" r="2.2"/><circle cx="435.6" cy="755.7" r="2.2"/><circle cx="524.2" cy="716.2" r="2.2"/><circle cx="516.1" cy="731" r="2.2"/><circle cx="479.4" cy="751.4" r="2.2"/><circle cx="484.1" cy="753.1" r="2.2"/><circle cx="441.4" cy="754.5" r="2.2"/><circle cx="537.5" cy="700.1" r="2.2"/><circle cx="439.3" cy="755.2" r="2.2"/><circle cx="521.8" cy="720" r="2.2"/><circle cx="525.4" cy="715.5" r="2.2"/><circle cx="525.9" cy="714.5" r="2.2"/><circle cx="425.7" cy="745.7" r="2.2"/><circle cx="446.5" cy="755.3" r="2.2"/><circle cx="545.3" cy="695.1" r="2.2"/><circle cx="480.6" cy="753.7" r="2.2"/><circle cx="462.5" cy="756.4" r="2.2"/><circle cx="544.5" cy="689.6" r="2.2"/><circle cx="522.1" cy="724.7" r="2.2"/><circle cx="508" cy="730" r="2.2"/><circle cx="523.6" cy="718.1" r="2.2"/><circle cx="475.8" cy="747.3" r="2.2"/><circle cx="530.3" cy="711.9" r="2.2"/><circle cx="528.3" cy="717.3" r="2.2"/><circle cx="492.4" cy="746" r="2.2"/><circle cx="480.7" cy="751.9" r="2.2"/><circle cx="557.7" cy="674.1" r="2.2"/><circle cx="473.3" cy="752.9" r="2.2"/><circle cx="560.4" cy="673.9" r="2.2"/><circle cx="443.3" cy="750.6" r="2.2"/><circle cx="556" cy="680.5" r="2.2"/><circle cx="454.4" cy="752.8" r="2.2"/><circle cx="491.2" cy="748.2" r="2.2"/><circle cx="558.9" cy="674.4" r="2.2"/><circle cx="498.3" cy="740.6" r="2.2"/><circle cx="552.5" cy="682.8" r="2.2"/><circle cx="547.7" cy="689.2" r="2.2"/><circle cx="486.1" cy="751.5" r="2.2"/><circle cx="440.3" cy="753.1" r="2.2"/><circle cx="476" cy="751.6" r="2.2"/><circle cx="549.9" cy="683.1" r="2.2"/><circle cx="525.5" cy="719.7" r="2.2"/><circle cx="536.6" cy="706.2" r="2.2"/><circle cx="550.4" cy="685.8" r="2.2"/><circle cx="503.3" cy="739.6" r="2.2"/><circle cx="544.7" cy="690.7" r="2.2"/><circle cx="463.3" cy="757.1" r="2.2"/><circle cx="540.3" cy="702" r="2.2"/><circle cx="511.8" cy="726.9" r="2.2"/><circle cx="552.2" cy="684.4" r="2.2"/><circle cx="472.1" cy="754.9" r="2.2"/><circle cx="537.5" cy="704.6" r="2.2"/><circle cx="481.5" cy="751.3" r="2.2"/><circle cx="507.1" cy="735.2" r="2.2"/><circle cx="521.2" cy="719.2" r="2.2"/><circle cx="531.4" cy="712.2" r="2.2"/><circle cx="452.2" cy="758.5" r="2.2"/><circle cx="441.4" cy="755.8" r="2.2"/><circle cx="418.5" cy="746" r="2.2"/><circle cx="460" cy="754.8" r="2.2"/><circle cx="444.5" cy="755.2" r="2.2"/><circle cx="419.6" cy="746.8" r="2.2"/><circle cx="510.5" cy="734.8" r="2.2"/><circle cx="536.6" cy="701.3" r="2.2"/><circle cx="424.8" cy="746.6" r="2.2"/><circle cx="554.6" cy="680.6" r="2.2"/><circle cx="519.8" cy="723.3" r="2.2"/><circle cx="445.8" cy="758" r="2.2"/><circle cx="528" cy="715.9" r="2.2"/><circle cx="544.6" cy="694.2" r="2.2"/><circle cx="560.4" cy="669.7" r="2.2"/><circle cx="471.4" cy="750.7" r="2.2"/><circle cx="513.3" cy="733.3" r="2.2"/><circle cx="513.1" cy="728.1" r="2.2"/><circle cx="516.8" cy="724.6" r="2.2"/><circle cx="501" cy="742.1" r="2.2"/><circle cx="500.8" cy="734.3" r="2.2"/><circle cx="531.2" cy="710" r="2.2"/><circle cx="540.3" cy="694.7" r="2.2"/><circle cx="577.7" cy="639.8" r="2.2"/><circle cx="477" cy="755.3" r="2.2"/><circle cx="497.3" cy="742.5" r="2.2"/><circle cx="510.8" cy="732.3" r="2.2"/><circle cx="462.1" cy="755.2" r="2.2"/><circle cx="547.2" cy="694.2" r="2.2"/><circle cx="468.4" cy="755.9" r="2.2"/><circle cx="567.1" cy="655.1" r="2.2"/><circle cx="517.9" cy="724.9" r="2.2"/><circle cx="475.2" cy="751.1" r="2.2"/><circle cx="529.2" cy="714.1" r="2.2"/><circle cx="533" cy="707.7" r="2.2"/><circle cx="548" cy="690.4" r="2.2"/><circle cx="532.6" cy="706.6" r="2.2"/><circle cx="523.5" cy="722.6" r="2.2"/><circle cx="481.9" cy="745.7" r="2.2"/><circle cx="535.5" cy="704.9" r="2.2"/><circle cx="530.3" cy="715.7" r="2.2"/><circle cx="577.4" cy="645.2" r="2.2"/><circle cx="568.6" cy="656.7" r="2.2"/><circle cx="513.4" cy="727" r="2.2"/><circle cx="571.5" cy="647.3" r="2.2"/><circle cx="462.7" cy="754.3" r="2.2"/><circle cx="493.1" cy="741.1" r="2.2"/><circle cx="487" cy="749.4" r="2.2"/><circle cx="430.9" cy="753.8" r="2.2"/><circle cx="421.8" cy="749.8" r="2.2"/><circle cx="462.3" cy="761.3" r="2.2"/><circle cx="531.8" cy="713.4" r="2.2"/><circle cx="486" cy="745.7" r="2.2"/><circle cx="470.2" cy="755.4" r="2.2"/><circle cx="466.2" cy="753.9" r="2.2"/><circle cx="494.4" cy="742.6" r="2.2"/><circle cx="465.3" cy="755.3" r="2.2"/><circle cx="465" cy="756.4" r="2.2"/><circle cx="393.1" cy="729.6" r="2.2"/><circle cx="539" cy="703.3" r="2.2"/><circle cx="465.8" cy="751.6" r="2.2"/><circle cx="488.9" cy="741.5" r="2.2"/><circle cx="432.8" cy="752.1" r="2.2"/><circle cx="478.4" cy="749.8" r="2.2"/><circle cx="496.3" cy="743.4" r="2.2"/><circle cx="501.3" cy="735.4" r="2.2"/><circle cx="400.9" cy="733.3" r="2.2"/><circle cx="560" cy="671" r="2.2"/><circle cx="424.8" cy="748.5" r="2.2"/><circle cx="409.4" cy="740.7" r="2.2"/><circle cx="423.6" cy="748.5" r="2.2"/><circle cx="454.4" cy="756.4" r="2.2"/><circle cx="546.3" cy="689.8" r="2.2"/><circle cx="549.3" cy="686.3" r="2.2"/><circle cx="574.4" cy="645.4" r="2.2"/><circle cx="512.1" cy="729.4" r="2.2"/><circle cx="434.4" cy="752.6" r="2.2"/><circle cx="548.4" cy="685.8" r="2.2"/><circle cx="535.7" cy="701.9" r="2.2"/><circle cx="492.5" cy="745" r="2.2"/><circle cx="554.1" cy="678.2" r="2.2"/><circle cx="548.7" cy="689.5" r="2.2"/><circle cx="422.2" cy="748.4" r="2.2"/><circle cx="501.8" cy="738.7" r="2.2"/><circle cx="578.2" cy="637.6" r="2.2"/><circle cx="512" cy="733.7" r="2.2"/><circle cx="448" cy="753.7" r="2.2"/><circle cx="515.4" cy="723.7" r="2.2"/><circle cx="530.2" cy="707.6" r="2.2"/><circle cx="564.6" cy="666.9" r="2.2"/><circle cx="451.7" cy="756.6" r="2.2"/><circle cx="463.3" cy="752.2" r="2.2"/><circle cx="516.9" cy="727" r="2.2"/><circle cx="514.4" cy="727.4" r="2.2"/><circle cx="499" cy="736.9" r="2.2"/><circle cx="457.3" cy="753.1" r="2.2"/><circle cx="545.7" cy="692.3" r="2.2"/><circle cx="513.7" cy="724.8" r="2.2"/><circle cx="438" cy="757.2" r="2.2"/><circle cx="580.1" cy="638.2" r="2.2"/><circle cx="435.7" cy="754.4" r="2.2"/><circle cx="518.9" cy="727.6" r="2.2"/><circle cx="528.4" cy="709.2" r="2.2"/><circle cx="402.1" cy="733.7" r="2.2"/><circle cx="477.3" cy="749" r="2.2"/><circle cx="512" cy="732.1" r="2.2"/><circle cx="485.1" cy="746.8" r="2.2"/><circle cx="467.7" cy="759.2" r="2.2"/><circle cx="541.9" cy="696.6" r="2.2"/><circle cx="438.8" cy="750.6" r="2.2"/><circle cx="460.6" cy="757.4" r="2.2"/><circle cx="453.1" cy="757.9" r="2.2"/><circle cx="562.2" cy="671.4" r="2.2"/><circle cx="564.5" cy="663.5" r="2.2"/><circle cx="485.2" cy="745.2" r="2.2"/><circle cx="562.6" cy="667.5" r="2.2"/><circle cx="459.5" cy="752.6" r="2.2"/><circle cx="479.8" cy="749.9" r="2.2"/><circle cx="569.3" cy="654.2" r="2.2"/><circle cx="529.2" cy="712.8" r="2.2"/><circle cx="461" cy="755.3" r="2.2"/><circle cx="443.9" cy="757.4" r="2.2"/><circle cx="501.7" cy="736.7" r="2.2"/><circle cx="550.4" cy="688" r="2.2"/><circle cx="466.4" cy="757.9" r="2.2"/><circle cx="470.2" cy="757.1" r="2.2"/><circle cx="505.7" cy="732.1" r="2.2"/><circle cx="553.4" cy="683.7" r="2.2"/><circle cx="499.4" cy="741.7" r="2.2"/><circle cx="522.7" cy="715.2" r="2.2"/><circle cx="514.2" cy="730.8" r="2.2"/><circle cx="490.1" cy="743.2" r="2.2"/><circle cx="526" cy="716.9" r="2.2"/><circle cx="424.4" cy="753.2" r="2.2"/><circle cx="488.2" cy="746" r="2.2"/><circle cx="567" cy="657.9" r="2.2"/><circle cx="494.1" cy="747.2" r="2.2"/><circle cx="457.9" cy="756.6" r="2.2"/><circle cx="445" cy="754.2" r="2.2"/><circle cx="569.3" cy="657.5" r="2.2"/><circle cx="531.1" cy="706.6" r="2.2"/><circle cx="438.4" cy="751.5" r="2.2"/><circle cx="432.8" cy="750.4" r="2.2"/><circle cx="579.6" cy="640.6" r="2.2"/><circle cx="529.8" cy="717.8" r="2.2"/><circle cx="546" cy="691.2" r="2.2"/><circle cx="431.9" cy="754" r="2.2"/><circle cx="494.7" cy="739.5" r="2.2"/><circle cx="493.6" cy="745" r="2.2"/><circle cx="486.3" cy="746.8" r="2.2"/><circle cx="477.1" cy="750.3" r="2.2"/><circle cx="551.6" cy="681.5" r="2.2"/><circle cx="542.3" cy="691.7" r="2.2"/><circle cx="474" cy="747.9" r="2.2"/><circle cx="458.3" cy="753.1" r="2.2"/><circle cx="460.2" cy="756.3" r="2.2"/><circle cx="556.2" cy="674.5" r="2.2"/><circle cx="488.4" cy="749.5" r="2.2"/><circle cx="532.5" cy="709.6" r="2.2"/><circle cx="562" cy="666.6" r="2.2"/><circle cx="490.4" cy="746.4" r="2.2"/><circle cx="539.9" cy="696.1" r="2.2"/><circle cx="515.4" cy="724.9" r="2.2"/><circle cx="452.9" cy="753.5" r="2.2"/><circle cx="443.1" cy="755.5" r="2.2"/><circle cx="466.3" cy="752.6" r="2.2"/><circle cx="428.2" cy="751.7" r="2.2"/><circle cx="450.7" cy="759.1" r="2.2"/><circle cx="463.8" cy="753.5" r="2.2"/><circle cx="430.7" cy="750.6" r="2.2"/><circle cx="464" cy="751.4" r="2.2"/><circle cx="582.3" cy="635.4" r="2.2"/><circle cx="451.6" cy="752.9" r="2.2"/><circle cx="567.6" cy="660.6" r="2.2"/><circle cx="484.3" cy="751.5" r="2.2"/><circle cx="524.2" cy="713.4" r="2.2"/><circle cx="577.4" cy="641.2" r="2.2"/><circle cx="483.6" cy="748.8" r="2.2"/><circle cx="468.1" cy="757.1" r="2.2"/><circle cx="476.5" cy="754.3" r="2.2"/><circle cx="530.1" cy="713.5" r="2.2"/><circle cx="576.7" cy="642.3" r="2.2"/><circle cx="442.5" cy="759.6" r="2.2"/><circle cx="453.2" cy="751.9" r="2.2"/><circle cx="520.3" cy="721.2" r="2.2"/><circle cx="431.8" cy="752" r="2.2"/><circle cx="459.8" cy="758.3" r="2.2"/><circle cx="506.5" cy="734.2" r="2.2"/><circle cx="429.1" cy="749.1" r="2.2"/><circle cx="449" cy="754.1" r="2.2"/><circle cx="472.4" cy="750.8" r="2.2"/><circle cx="413.2" cy="745" r="2.2"/><circle cx="553" cy="680.9" r="2.2"/><circle cx="421.1" cy="750.7" r="2.2"/><circle cx="416.8" cy="749.2" r="2.2"/><circle cx="498.2" cy="739.5" r="2.2"/><circle cx="484" cy="749.7" r="2.2"/><circle cx="544.1" cy="695.2" r="2.2"/><circle cx="540.3" cy="697.7" r="2.2"/><circle cx="466.8" cy="751.6" r="2.2"/><circle cx="508.8" cy="728.2" r="2.2"/><circle cx="559.5" cy="666.8" r="2.2"/><circle cx="533.3" cy="703.6" r="2.2"/><circle cx="456.7" cy="759.7" r="2.2"/><circle cx="418.8" cy="743.8" r="2.2"/><circle cx="503.4" cy="740.8" r="2.2"/><circle cx="484.6" cy="748.4" r="2.2"/><circle cx="468.1" cy="751" r="2.2"/><circle cx="547.1" cy="687" r="2.2"/><circle cx="455.9" cy="757.4" r="2.2"/><circle cx="562.2" cy="669.4" r="2.2"/><circle cx="499.3" cy="739.2" r="2.2"/><circle cx="518.3" cy="723" r="2.2"/><circle cx="457.1" cy="757.4" r="2.2"/><circle cx="429.4" cy="750.1" r="2.2"/><circle cx="533.8" cy="705.6" r="2.2"/><circle cx="490.1" cy="749.6" r="2.2"/><circle cx="501.4" cy="737.8" r="2.2"/><circle cx="426.2" cy="748.8" r="2.2"/><circle cx="445.2" cy="752" r="2.2"/><circle cx="498.2" cy="742" r="2.2"/><circle cx="420.1" cy="745.7" r="2.2"/><circle cx="554.3" cy="682.9" r="2.2"/><circle cx="540.8" cy="703.5" r="2.2"/><circle cx="542.4" cy="695.1" r="2.2"/><circle cx="557.8" cy="672.7" r="2.2"/><circle cx="491.7" cy="746.9" r="2.2"/><circle cx="492.1" cy="740.3" r="2.2"/><circle cx="518.8" cy="725.9" r="2.2"/><circle cx="558.1" cy="677.7" r="2.2"/><circle cx="552.2" cy="680" r="2.2"/><circle cx="464.3" cy="758.7" r="2.2"/><circle cx="504.4" cy="740.2" r="2.2"/><circle cx="567.5" cy="656.1" r="2.2"/><circle cx="483.8" cy="747.7" r="2.2"/><circle cx="490" cy="744.7" r="2.2"/><circle cx="572.4" cy="650.1" r="2.2"/><circle cx="566" cy="657.7" r="2.2"/><circle cx="504.1" cy="738.7" r="2.2"/><circle cx="484" cy="754.6" r="2.2"/><circle cx="564.2" cy="668" r="2.2"/><circle cx="489.6" cy="750.7" r="2.2"/><circle cx="475" cy="749.4" r="2.2"/><circle cx="543.8" cy="697.4" r="2.2"/><circle cx="515.8" cy="727.9" r="2.2"/><circle cx="413.9" cy="743" r="2.2"/><circle cx="538.3" cy="701.4" r="2.2"/><circle cx="541.9" cy="697.6" r="2.2"/><circle cx="454.9" cy="754.2" r="2.2"/><circle cx="407.9" cy="739.1" r="2.2"/><circle cx="564.2" cy="662.1" r="2.2"/><circle cx="447.6" cy="752.6" r="2.2"/><circle cx="534.5" cy="711.5" r="2.2"/><circle cx="557.1" cy="677.1" r="2.2"/><circle cx="426.3" cy="751.2" r="2.2"/><circle cx="509.4" cy="739.1" r="2.2"/><circle cx="543.3" cy="691.9" r="2.2"/><circle cx="575.9" cy="645.1" r="2.2"/><circle cx="431.3" cy="755.3" r="2.2"/><circle cx="527.3" cy="716.9" r="2.2"/><circle cx="500.2" cy="742.8" r="2.2"/><circle cx="507.5" cy="737.3" r="2.2"/><circle cx="518.4" cy="721.8" r="2.2"/><circle cx="404.1" cy="732.7" r="2.2"/><circle cx="449.9" cy="752.7" r="2.2"/><circle cx="527" cy="713" r="2.2"/><circle cx="466" cy="756.9" r="2.2"/><circle cx="488.7" cy="751.2" r="2.2"/><circle cx="478.6" cy="748" r="2.2"/><circle cx="473.8" cy="757.3" r="2.2"/><circle cx="519.1" cy="720.9" r="2.2"/><circle cx="455.1" cy="760.4" r="2.2"/><circle cx="457.8" cy="755.6" r="2.2"/><circle cx="415.1" cy="745.1" r="2.2"/><circle cx="420.6" cy="752" r="2.2"/><circle cx="465.6" cy="749.2" r="2.2"/><circle cx="548.7" cy="691.3" r="2.2"/><circle cx="450" cy="751.6" r="2.2"/><circle cx="520.1" cy="717.1" r="2.2"/><circle cx="478.1" cy="752" r="2.2"/><circle cx="447.8" cy="757.9" r="2.2"/><circle cx="442.2" cy="753.4" r="2.2"/><circle cx="437.5" cy="755.3" r="2.2"/><circle cx="445" cy="760.3" r="2.2"/><circle cx="492.7" cy="743.3" r="2.2"/><circle cx="554.1" cy="681.5" r="2.2"/><circle cx="423.6" cy="750.5" r="2.2"/><circle cx="450.1" cy="758.3" r="2.2"/><circle cx="534.5" cy="704.2" r="2.2"/><circle cx="411.1" cy="744.4" r="2.2"/><circle cx="487.5" cy="748.5" r="2.2"/><circle cx="508.6" cy="738.1" r="2.2"/><circle cx="420.7" cy="748.6" r="2.2"/><circle cx="513.2" cy="732.3" r="2.2"/><circle cx="448" cy="754.8" r="2.2"/><circle cx="509.3" cy="734.3" r="2.2"/><circle cx="388" cy="724.6" r="2.2"/><circle cx="572.1" cy="653.1" r="2.2"/><circle cx="533.7" cy="713.2" r="2.2"/><circle cx="546.1" cy="694.2" r="2.2"/><circle cx="527.3" cy="718" r="2.2"/><circle cx="567.2" cy="662.9" r="2.2"/><circle cx="566.5" cy="660.2" r="2.2"/><circle cx="464.4" cy="752.6" r="2.2"/><circle cx="493.9" cy="743.4" r="2.2"/><circle cx="422.3" cy="744.7" r="2.2"/><circle cx="495.7" cy="738.3" r="2.2"/><circle cx="514.3" cy="722.7" r="2.2"/><circle cx="504" cy="733.7" r="2.2"/><circle cx="433.6" cy="756.3" r="2.2"/><circle cx="521.1" cy="724.2" r="2.2"/><circle cx="482.8" cy="752.2" r="2.2"/><circle cx="557.3" cy="675.1" r="2.2"/><circle cx="430.3" cy="746.5" r="2.2"/><circle cx="514.8" cy="725.8" r="2.2"/><circle cx="570.5" cy="661.1" r="2.2"/><circle cx="544.3" cy="696.1" r="2.2"/><circle cx="525" cy="718.4" r="2.2"/><circle cx="517.5" cy="722.3" r="2.2"/><circle cx="425.3" cy="751.6" r="2.2"/><circle cx="409.5" cy="742.2" r="2.2"/><circle cx="475.5" cy="753.6" r="2.2"/><circle cx="468.9" cy="753.5" r="2.2"/><circle cx="408.4" cy="740.2" r="2.2"/><circle cx="478.8" cy="755.4" r="2.2"/><circle cx="535.3" cy="705.9" r="2.2"/><circle cx="573.5" cy="646.7" r="2.2"/><circle cx="541.7" cy="700.7" r="2.2"/><circle cx="409.7" cy="744.5" r="2.2"/><circle cx="415.7" cy="741.8" r="2.2"/><circle cx="418.2" cy="748.3" r="2.2"/><circle cx="517.9" cy="727.1" r="2.2"/><circle cx="429.3" cy="755.5" r="2.2"/><circle cx="543.2" cy="699.4" r="2.2"/><circle cx="437.2" cy="750.5" r="2.2"/><circle cx="474.8" cy="757" r="2.2"/><circle cx="505.4" cy="739" r="2.2"/><circle cx="420.8" cy="743" r="2.2"/><circle cx="549.7" cy="689.9" r="2.2"/><circle cx="575.5" cy="642.3" r="2.2"/><circle cx="579.3" cy="635.1" r="2.2"/><circle cx="517.2" cy="728.5" r="2.2"/><circle cx="403.2" cy="737.7" r="2.2"/><circle cx="577.6" cy="643.5" r="2.2"/><circle cx="570.7" cy="651.6" r="2.2"/><circle cx="507.5" cy="733.1" r="2.2"/><circle cx="461.4" cy="756.5" r="2.2"/><circle cx="531.5" cy="711.1" r="2.2"/><circle cx="446.2" cy="759.5" r="2.2"/><circle cx="578.6" cy="641" r="2.2"/><circle cx="439.7" cy="756.4" r="2.2"/><circle cx="544.2" cy="692.8" r="2.2"/><circle cx="509.2" cy="735.9" r="2.2"/><circle cx="460.2" cy="751.8" r="2.2"/><circle cx="393.1" cy="726.6" r="2.2"/><circle cx="502.9" cy="738.5" r="2.2"/><circle cx="469.8" cy="753" r="2.2"/><circle cx="552.9" cy="686.1" r="2.2"/><circle cx="559.1" cy="668.5" r="2.2"/><circle cx="538.8" cy="699" r="2.2"/><circle cx="559.2" cy="671.7" r="2.2"/><circle cx="555.5" cy="683.1" r="2.2"/><circle cx="532.5" cy="710.8" r="2.2"/><circle cx="512.8" cy="735.7" r="2.2"/><circle cx="486.9" cy="743.1" r="2.2"/><circle cx="427.7" cy="749" r="2.2"/><circle cx="571" cy="653.8" r="2.2"/><circle cx="452.9" cy="755.4" r="2.2"/><circle cx="464.6" cy="754.4" r="2.2"/><circle cx="527.9" cy="711.1" r="2.2"/><circle cx="480.4" cy="755.3" r="2.2"/><circle cx="517.4" cy="719.6" r="2.2"/><circle cx="572.6" cy="645.5" r="2.2"/><circle cx="561.9" cy="670.4" r="2.2"/><circle cx="472.2" cy="748.3" r="2.2"/><circle cx="541" cy="699" r="2.2"/><circle cx="528.3" cy="713.8" r="2.2"/><circle cx="501.1" cy="741.1" r="2.2"/><circle cx="551.8" cy="685.9" r="2.2"/><circle cx="419.2" cy="751.2" r="2.2"/><circle cx="492.5" cy="748.4" r="2.2"/><circle cx="536.3" cy="710.1" r="2.2"/><circle cx="428.5" cy="754.6" r="2.2"/><circle cx="530.1" cy="708.8" r="2.2"/><circle cx="405" cy="735.9" r="2.2"/><circle cx="528.3" cy="719.7" r="2.2"/><circle cx="536.6" cy="707.3" r="2.2"/><circle cx="511.2" cy="731.3" r="2.2"/><circle cx="483" cy="746.7" r="2.2"/><circle cx="519.7" cy="719.4" r="2.2"/><circle cx="566.6" cy="664" r="2.2"/><circle cx="509.3" cy="730.6" r="2.2"/><circle cx="420.8" cy="746.7" r="2.2"/><circle cx="491.9" cy="750.4" r="2.2"/><circle cx="427.2" cy="751.7" r="2.2"/><circle cx="488.3" cy="744.4" r="2.2"/><circle cx="406.7" cy="739" r="2.2"/><circle cx="565.4" cy="662.6" r="2.2"/><circle cx="502.1" cy="742.7" r="2.2"/><circle cx="539.2" cy="705.4" r="2.2"/><circle cx="469.5" cy="749.8" r="2.2"/><circle cx="568.9" cy="658.4" r="2.2"/><circle cx="486" cy="749.6" r="2.2"/><circle cx="551.7" cy="687.2" r="2.2"/><circle cx="426" cy="756" r="2.2"/><circle cx="426.4" cy="753.4" r="2.2"/><circle cx="571.7" cy="656.2" r="2.2"/><circle cx="456.2" cy="758.8" r="2.2"/><circle cx="522.5" cy="718.3" r="2.2"/><circle cx="406" cy="737" r="2.2"/><circle cx="547.3" cy="688.1" r="2.2"/><circle cx="443.2" cy="756.6" r="2.2"/><circle cx="393.1" cy="728.2" r="2.2"/><circle cx="543.3" cy="700.8" r="2.2"/><circle cx="468.3" cy="758.2" r="2.2"/><circle cx="401.6" cy="735.8" r="2.2"/><circle cx="391" cy="725.9" r="2.2"/><circle cx="473.9" cy="750.9" r="2.2"/><circle cx="452.7" cy="759.8" r="2.2"/><circle cx="570.1" cy="648.4" r="2.2"/><circle cx="423.6" cy="746.3" r="2.2"/><circle cx="472.7" cy="756.7" r="2.2"/><circle cx="502.7" cy="736.2" r="2.2"/><circle cx="438.7" cy="758.5" r="2.2"/><circle cx="421.8" cy="747.3" r="2.2"/><circle cx="536.2" cy="703.2" r="2.2"/><circle cx="481.6" cy="753.4" r="2.2"/><circle cx="398" cy="735.5" r="2.2"/><circle cx="505.1" cy="731" r="2.2"/><circle cx="497.3" cy="743.6" r="2.2"/><circle cx="506.5" cy="732.8" r="2.2"/><circle cx="573.1" cy="648.6" r="2.2"/><circle cx="535" cy="703.1" r="2.2"/><circle cx="435.3" cy="758.1" r="2.2"/><circle cx="575" cy="643.3" r="2.2"/><circle cx="448.6" cy="758.7" r="2.2"/><circle cx="442.6" cy="752" r="2.2"/><circle cx="454.4" cy="758.7" r="2.2"/><circle cx="556.5" cy="676.1" r="2.2"/><circle cx="417.6" cy="747.5" r="2.2"/><circle cx="506.5" cy="730.9" r="2.2"/><circle cx="508.9" cy="729.3" r="2.2"/><circle cx="507.5" cy="738.6" r="2.2"/><circle cx="461.2" cy="759.1" r="2.2"/><circle cx="395.2" cy="729.7" r="2.2"/><circle cx="464" cy="759.8" r="2.2"/><circle cx="457.4" cy="754.3" r="2.2"/><circle cx="451.9" cy="751.2" r="2.2"/><circle cx="422.8" cy="752.9" r="2.2"/><circle cx="450.7" cy="753.5" r="2.2"/><circle cx="415.4" cy="747.4" r="2.2"/><circle cx="511.3" cy="728.5" r="2.2"/><circle cx="407" cy="737.1" r="2.2"/><circle cx="457.1" cy="751.8" r="2.2"/><circle cx="577.1" cy="638.7" r="2.2"/><circle cx="501.5" cy="745.9" r="2.2"/><circle cx="458.9" cy="757.8" r="2.2"/><circle cx="574.5" cy="648.6" r="2.2"/><circle cx="558.2" cy="671.5" r="2.2"/><circle cx="412.3" cy="739.2" r="2.2"/><circle cx="551.6" cy="683.4" r="2.2"/><circle cx="389.8" cy="726.9" r="2.2"/><circle cx="561.3" cy="671.8" r="2.2"/><circle cx="580" cy="636.9" r="2.2"/><circle cx="521.8" cy="723.4" r="2.2"/><circle cx="396.3" cy="729.9" r="2.2"/><circle cx="524.9" cy="714.7" r="2.2"/><circle cx="421.1" cy="744.5" r="2.2"/><circle cx="552.4" cy="678.1" r="2.2"/><circle cx="404.1" cy="738.8" r="2.2"/><circle cx="473.1" cy="754.2" r="2.2"/><circle cx="556.8" cy="672.6" r="2.2"/><circle cx="412.4" cy="743.1" r="2.2"/><circle cx="416.7" cy="744.9" r="2.2"/><circle cx="529.3" cy="715.9" r="2.2"/><circle cx="538.5" cy="697.1" r="2.2"/><circle cx="575.2" cy="646.9" r="2.2"/><circle cx="554.9" cy="674.7" r="2.2"/><circle cx="578.6" cy="634.3" r="2.2"/><circle cx="431.7" cy="750.3" r="2.2"/><circle cx="516.1" cy="725.8" r="2.2"/><circle cx="460.3" cy="753.7" r="2.2"/><circle cx="463.7" cy="760.7" r="2.2"/><circle cx="479.9" cy="746.7" r="2.2"/><circle cx="434.3" cy="750.1" r="2.2"/><circle cx="548.6" cy="693.3" r="2.2"/><circle cx="482.2" cy="754.3" r="2.2"/><circle cx="513.8" cy="726" r="2.2"/><circle cx="526.6" cy="720.9" r="2.2"/><circle cx="510.6" cy="725.6" r="2.2"/><circle cx="493.4" cy="742.3" r="2.2"/><circle cx="510.2" cy="737.1" r="2.2"/><circle cx="483.9" cy="744.1" r="2.2"/><circle cx="439.6" cy="754" r="2.2"/><circle cx="425.2" cy="749.5" r="2.2"/><circle cx="501.9" cy="734.3" r="2.2"/><circle cx="564.7" cy="658.4" r="2.2"/><circle cx="484.9" cy="750.6" r="2.2"/><circle cx="464" cy="756.2" r="2.2"/><circle cx="474.1" cy="756.3" r="2.2"/><circle cx="416.7" cy="743.2" r="2.2"/><circle cx="519.4" cy="729.1" r="2.2"/><circle cx="443.5" cy="753.6" r="2.2"/><circle cx="424.1" cy="745.2" r="2.2"/><circle cx="537.7" cy="698.8" r="2.2"/><circle cx="435.5" cy="752.9" r="2.2"/><circle cx="491.3" cy="742.4" r="2.2"/><circle cx="555.8" cy="681.7" r="2.2"/><circle cx="419.7" cy="743.3" r="2.2"/><circle cx="539.9" cy="698.8" r="2.2"/><circle cx="502.2" cy="744.4" r="2.2"/><circle cx="446.8" cy="760.4" r="2.2"/><circle cx="457.7" cy="758.4" r="2.2"/><circle cx="445.9" cy="751.3" r="2.2"/><circle cx="514.5" cy="731.7" r="2.2"/><circle cx="420" cy="749.2" r="2.2"/><circle cx="399.1" cy="735.5" r="2.2"/><circle cx="574.3" cy="647.6" r="2.2"/><circle cx="502" cy="732.5" r="2.2"/><circle cx="500.6" cy="744.3" r="2.2"/><circle cx="481.6" cy="755.9" r="2.2"/><circle cx="423.7" cy="751.7" r="2.2"/><circle cx="512.6" cy="726" r="2.2"/><circle cx="522.7" cy="716.5" r="2.2"/><circle cx="457.1" cy="750.3" r="2.2"/><circle cx="406.7" cy="744.6" r="2.2"/><circle cx="476" cy="749" r="2.2"/><circle cx="538.3" cy="705.9" r="2.2"/><circle cx="488.2" cy="743.2" r="2.2"/><circle cx="410.6" cy="737.8" r="2.2"/><circle cx="522.1" cy="722.3" r="2.2"/><circle cx="489.9" cy="742" r="2.2"/><circle cx="443.7" cy="758.9" r="2.2"/><circle cx="479.2" cy="749.1" r="2.2"/><circle cx="535.2" cy="709.3" r="2.2"/><circle cx="413.4" cy="741.6" r="2.2"/><circle cx="427.6" cy="752.6" r="2.2"/><circle cx="510.4" cy="729.8" r="2.2"/><circle cx="476.6" cy="758.4" r="2.2"/><circle cx="451.8" cy="754.4" r="2.2"/><circle cx="415.9" cy="746.3" r="2.2"/><circle cx="437.2" cy="752.7" r="2.2"/><circle cx="427.6" cy="748" r="2.2"/><circle cx="482.4" cy="750.6" r="2.2"/><circle cx="448.5" cy="756" r="2.2"/><circle cx="398.4" cy="732.7" r="2.2"/><circle cx="550.6" cy="687" r="2.2"/><circle cx="515" cy="730.1" r="2.2"/><circle cx="555.5" cy="675.5" r="2.2"/><circle cx="394.8" cy="728.3" r="2.2"/><circle cx="393.9" cy="731.4" r="2.2"/><circle cx="489.5" cy="751.9" r="2.2"/><circle cx="403.4" cy="735.5" r="2.2"/><circle cx="459.5" cy="760" r="2.2"/><circle cx="480.4" cy="750.8" r="2.2"/><circle cx="505.5" cy="742.2" r="2.2"/><circle cx="535.6" cy="707.7" r="2.2"/><circle cx="464" cy="748.6" r="2.2"/><circle cx="525.4" cy="721" r="2.2"/><circle cx="478" cy="756.4" r="2.2"/><circle cx="436.5" cy="756" r="2.2"/><circle cx="550" cy="692.4" r="2.2"/><circle cx="576.2" cy="639.8" r="2.2"/><circle cx="462.7" cy="759.2" r="2.2"/><circle cx="402.8" cy="740" r="2.2"/><circle cx="530.1" cy="714.6" r="2.2"/><circle cx="428.8" cy="753.2" r="2.2"/><circle cx="545.2" cy="697.6" r="2.2"/><circle cx="423.3" cy="747.5" r="2.2"/><circle cx="412.1" cy="740.3" r="2.2"/><circle cx="564.2" cy="665.1" r="2.2"/><circle cx="446.9" cy="757.4" r="2.2"/><circle cx="547.2" cy="695.4" r="2.2"/><circle cx="439.9" cy="758.4" r="2.2"/><circle cx="539.7" cy="700.9" r="2.2"/><circle cx="472.8" cy="747.3" r="2.2"/><circle cx="466.7" cy="759.8" r="2.2"/><circle cx="496" cy="744.5" r="2.2"/><circle cx="402.5" cy="736.5" r="2.2"/><circle cx="417.9" cy="744.3" r="2.2"/><circle cx="429.8" cy="752.5" r="2.2"/><circle cx="534.4" cy="708.1" r="2.2"/><circle cx="483.1" cy="745.3" r="2.2"/><circle cx="444.9" cy="756.7" r="2.2"/><circle cx="572.7" cy="647.3" r="2.2"/><circle cx="502.3" cy="741.4" r="2.2"/><circle cx="496.9" cy="746.3" r="2.2"/><circle cx="497" cy="740" r="2.2"/><circle cx="560.8" cy="663.9" r="2.2"/><circle cx="472.7" cy="749.3" r="2.2"/><circle cx="532.4" cy="705.6" r="2.2"/><circle cx="574" cy="649.7" r="2.2"/><circle cx="439.8" cy="752.1" r="2.2"/><circle cx="529.6" cy="709.8" r="2.2"/><circle cx="544.7" cy="688.4" r="2.2"/><circle cx="548.4" cy="684.5" r="2.2"/><circle cx="405" cy="739.7" r="2.2"/><circle cx="570.1" cy="650.8" r="2.2"/><circle cx="443.6" cy="751.7" r="2.2"/><circle cx="411.2" cy="746.3" r="2.2"/><circle cx="480.9" cy="744.8" r="2.2"/><circle cx="451.4" cy="755.6" r="2.2"/><circle cx="579.1" cy="639.6" r="2.2"/><circle cx="523" cy="725.7" r="2.2"/><circle cx="546.8" cy="692.7" r="2.2"/><circle cx="558.7" cy="670.3" r="2.2"/><circle cx="565.2" cy="664.9" r="2.2"/><circle cx="531.5" cy="715.5" r="2.2"/><circle cx="490.2" cy="747.4" r="2.2"/><circle cx="471.4" cy="757.7" r="2.2"/><circle cx="497.8" cy="736.5" r="2.2"/><circle cx="560" cy="675.4" r="2.2"/><circle cx="503.8" cy="741.9" r="2.2"/><circle cx="511.7" cy="737.9" r="2.2"/><circle cx="418.3" cy="742.9" r="2.2"/><circle cx="411.9" cy="745.6" r="2.2"/><circle cx="441.3" cy="752.7" r="2.2"/><circle cx="413.9" cy="744" r="2.2"/><circle cx="397" cy="732.5" r="2.2"/><circle cx="472.7" cy="758.2" r="2.2"/><circle cx="426.4" cy="747" r="2.2"/><circle cx="556.9" cy="681.1" r="2.2"/><circle cx="570.8" cy="655" r="2.2"/><circle cx="456.9" cy="760.8" r="2.2"/><circle cx="436" cy="749.5" r="2.2"/><circle cx="527.1" cy="711.8" r="2.2"/><circle cx="532.2" cy="704.4" r="2.2"/><circle cx="433.2" cy="747.8" r="2.2"/><circle cx="567.1" cy="659.2" r="2.2"/><circle cx="494.5" cy="738.2" r="2.2"/><circle cx="427.7" cy="755.7" r="2.2"/><circle cx="451.1" cy="758.1" r="2.2"/><circle cx="538.3" cy="707" r="2.2"/><circle cx="560.5" cy="667.6" r="2.2"/><circle cx="394.4" cy="730.4" r="2.2"/><circle cx="449.2" cy="761" r="2.2"/><circle cx="535.5" cy="700.7" r="2.2"/><circle cx="469.3" cy="757.8" r="2.2"/><circle cx="450.3" cy="762.5" r="2.2"/><circle cx="525.9" cy="713.4" r="2.2"/><circle cx="435.7" cy="756.7" r="2.2"/><circle cx="555.8" cy="673.5" r="2.2"/><circle cx="540.1" cy="704.4" r="2.2"/><circle cx="465.4" cy="753.3" r="2.2"/><circle cx="501.2" cy="743.1" r="2.2"/><circle cx="389.6" cy="723.4" r="2.2"/><circle cx="551.4" cy="678.7" r="2.2"/><circle cx="561.1" cy="672.8" r="2.2"/><circle cx="458.5" cy="751" r="2.2"/><circle cx="520.8" cy="725.6" r="2.2"/><circle cx="441.2" cy="750.3" r="2.2"/><circle cx="528.4" cy="714.9" r="2.2"/><circle cx="426" cy="754.8" r="2.2"/><circle cx="516.6" cy="723.1" r="2.2"/><circle cx="458.9" cy="759.1" r="2.2"/><circle cx="461.5" cy="751.4" r="2.2"/><circle cx="510.5" cy="735.8" r="2.2"/><circle cx="455" cy="751.6" r="2.2"/><circle cx="433.9" cy="751.3" r="2.2"/><circle cx="562.7" cy="663.5" r="2.2"/><circle cx="399.6" cy="733.7" r="2.2"/><circle cx="510.9" cy="727.5" r="2.2"/><circle cx="520.2" cy="726.7" r="2.2"/><circle cx="456" cy="751.5" r="2.2"/><circle cx="549.4" cy="687.4" r="2.2"/><circle cx="432.3" cy="758" r="2.2"/><circle cx="397.1" cy="730.6" r="2.2"/><circle cx="531.6" cy="707.8" r="2.2"/><circle cx="445.3" cy="759" r="2.2"/><circle cx="523.2" cy="724.5" r="2.2"/><circle cx="556" cy="677" r="2.2"/><circle cx="550.6" cy="690.7" r="2.2"/><circle cx="478.6" cy="745.6" r="2.2"/><circle cx="418.9" cy="749.6" r="2.2"/><circle cx="502.9" cy="731.5" r="2.2"/><circle cx="436.4" cy="753.4" r="2.2"/><circle cx="515.7" cy="732.9" r="2.2"/><circle cx="546.5" cy="688.8" r="2.2"/><circle cx="462.5" cy="750.5" r="2.2"/><circle cx="557.6" cy="679.9" r="2.2"/><circle cx="392" cy="727.9" r="2.2"/><circle cx="465.8" cy="759" r="2.2"/><circle cx="485.8" cy="740.5" r="2.2"/><circle cx="455.2" cy="758.1" r="2.2"/><circle cx="418.6" cy="747.2" r="2.2"/><circle cx="568.5" cy="655.1" r="2.2"/><circle cx="398.7" cy="734.2" r="2.2"/><circle cx="492.9" cy="747" r="2.2"/><circle cx="410.1" cy="743" r="2.2"/><circle cx="560.6" cy="665.8" r="2.2"/><circle cx="541.2" cy="695.6" r="2.2"/><circle cx="399.5" cy="730.5" r="2.2"/><circle cx="400.8" cy="737" r="2.2"/><circle cx="483.3" cy="755.9" r="2.2"/><circle cx="494.6" cy="744.5" r="2.2"/><circle cx="563" cy="670.2" r="2.2"/><circle cx="499.1" cy="747.1" r="2.2"/><circle cx="436.1" cy="751.8" r="2.2"/><circle cx="433.5" cy="753.5" r="2.2"/><circle cx="394.7" cy="727.2" r="2.2"/><circle cx="518.7" cy="719.5" r="2.2"/><circle cx="431.6" cy="748.3" r="2.2"/><circle cx="500.3" cy="735.4" r="2.2"/><circle cx="498.3" cy="745.5" r="2.2"/><circle cx="513" cy="724" r="2.2"/><circle cx="440.9" cy="758.4" r="2.2"/><circle cx="563.5" cy="660.4" r="2.2"/><circle cx="570.6" cy="656.5" r="2.2"/><circle cx="470.3" cy="747.9" r="2.2"/><circle cx="492.9" cy="749.7" r="2.2"/><circle cx="436.5" cy="759.8" r="2.2"/><circle cx="553.5" cy="677.4" r="2.2"/><circle cx="400.7" cy="735.1" r="2.2"/><circle cx="575.5" cy="644.2" r="2.2"/><circle cx="507" cy="740.1" r="2.2"/><circle cx="560.9" cy="670.8" r="2.2"/><circle cx="514.2" cy="729.6" r="2.2"/><circle cx="560.2" cy="672.4" r="2.2"/><circle cx="495.4" cy="748.5" r="2.2"/><circle cx="503.9" cy="734.7" r="2.2"/><circle cx="572.9" cy="652.2" r="2.2"/><circle cx="458.9" cy="761.2" r="2.2"/><circle cx="404.7" cy="741.9" r="2.2"/><circle cx="447.8" cy="760.8" r="2.2"/><circle cx="490.8" cy="741.1" r="2.2"/><circle cx="557.4" cy="669.6" r="2.2"/><circle cx="403.5" cy="733.8" r="2.2"/><circle cx="463.4" cy="758.2" r="2.2"/><circle cx="517" cy="720.9" r="2.2"/><circle cx="399" cy="731.4" r="2.2"/><circle cx="432.5" cy="755.3" r="2.2"/><circle cx="430.1" cy="748.9" r="2.2"/><circle cx="440.5" cy="751.2" r="2.2"/><circle cx="505.5" cy="729.9" r="2.2"/><circle cx="515.2" cy="734.2" r="2.2"/><circle cx="581.4" cy="637.5" r="2.2"/><circle cx="566" cy="659" r="2.2"/><circle cx="411.2" cy="742.7" r="2.2"/><circle cx="405" cy="738.2" r="2.2"/><circle cx="475.2" cy="748.2" r="2.2"/><circle cx="515.7" cy="722" r="2.2"/><circle cx="546.9" cy="685.3" r="2.2"/><circle cx="518.6" cy="724.1" r="2.2"/><circle cx="577.7" cy="642.4" r="2.2"/><circle cx="438.2" cy="756.1" r="2.2"/><circle cx="472.1" cy="751.8" r="2.2"/><circle cx="464.3" cy="749.8" r="2.2"/><circle cx="565.4" cy="663.8" r="2.2"/><circle cx="409.3" cy="745.5" r="2.2"/><circle cx="567.7" cy="653.7" r="2.2"/><circle cx="425.8" cy="750.3" r="2.2"/><circle cx="471.7" cy="749.7" r="2.2"/><circle cx="405.7" cy="741" r="2.2"/></g>
<path d="M565.8 661.7L565.7 661.6L565.6 661.7L565.4 661.9L565.2 662.2L564.8 662.6L564.4 663.2L563.9 663.9L563.3 664.7L562.7 665.6L562 666.7L561.2 667.8L560.4 669.1L559.4 670.4L558.4 671.9L557.4 673.4L556.2 675.1L555.1 676.8L553.8 678.6L552.5 680.5L551.1 682.4L549.7 684.4L548.2 686.4L546.6 688.5L545 690.6L543.4 692.8L541.7 695L539.9 697.2L538.1 699.4L536.3 701.7L534.4 703.9L532.5 706.1L530.6 708.4L528.6 710.6L526.6 712.8L524.5 714.9L522.5 717L520.4 719.1L518.3 721.2L516.1 723.2L514 725.1L511.8 727.1L509.7 728.9L507.5 730.7L505.3 732.4L503.1 734.1L500.9 735.7L498.7 737.2L496.5 738.6L494.4 740L492.2 741.3L490.1 742.6L487.9 743.7L485.8 744.8L483.7 745.8L481.7 746.8L479.6 747.6L477.6 748.4L475.6 749.2L473.7 749.8L471.8 750.5L469.9 751L468.1 751.5L466.3 751.9L464.5 752.3L462.8 752.7L461.2 752.9L459.6 753.2L458 753.4L456.5 753.6L455.1 753.7L453.7 753.8L452.4 753.9L451.1 754L450 754L448.8 754.1L447.8 754.1L446.8 754.1L445.8 754.1L445 754.2L444.2 754.2L443.5 754.2L442.9 754.2L442.3 754.2L441.8 754.3L441.4 754.3L441 754.4L440.8 754.5L440.6 754.5L440.5 754.7L440.4 754.8L440.5 754.9L440.6 755.1L440.8 755.2L441 755.4L441.4 755.6L441.8 755.8L442.3 756L442.9 756.2L443.5 756.5L444.2 756.7L445 756.9L445.8 757.1L446.8 757.4L447.8 757.6L448.8 757.8L450 757.9L451.1 758.1L452.4 758.3L453.7 758.4L455.1 758.5L456.5 758.5L458 758.5L459.6 758.5L461.2 758.4L462.8 758.3L464.5 758.1L466.3 757.9L468.1 757.6L469.9 757.3L471.8 756.8L473.7 756.3L475.6 755.8L477.6 755.2L479.6 754.5L481.7 753.7L483.7 752.8L485.8 751.9L487.9 750.9L490.1 749.8L492.2 748.6L494.4 747.3L496.5 746L498.7 744.5L500.9 743L503.1 741.4L505.3 739.8L507.5 738L509.7 736.2L511.8 734.3L514 732.4L516.1 730.4L518.3 728.3L520.4 726.2L522.5 724L524.5 721.8L526.6 719.6L528.6 717.3L530.6 715L532.5 712.6L534.4 710.3L536.3 707.9L538.1 705.5L539.9 703.2L541.7 700.8L543.4 698.4L545 696.1L546.6 693.8L548.2 691.5L549.7 689.3L551.1 687.1L552.5 685L553.8 682.9L555.1 680.9L556.2 679L557.4 677.1L558.4 675.3L559.4 673.7L560.4 672.1L561.2 670.6L562 669.2L562.7 667.9L563.3 666.7L563.9 665.7L564.4 664.7L564.8 663.9L565.2 663.2L565.4 662.6L565.6 662.2L565.7 661.9L565.8 661.7Z" stroke="#46075a" stroke-width="1.1" fill="none" stroke-linejoin="round" clip-path="url(#c15)"/>
<path d="M550.4 685.8L550.4 685.8L550.3 685.8L550.1 685.9L549.9 686.1L549.7 686.4L549.4 686.7L549 687.2L548.6 687.7L548.1 688.3L547.5 688.9L546.9 689.7L546.3 690.5L545.6 691.4L544.9 692.3L544.1 693.3L543.2 694.4L542.3 695.5L541.4 696.7L540.4 697.9L539.3 699.2L538.2 700.5L537.1 701.8L535.9 703.2L534.7 704.7L533.5 706.1L532.2 707.6L530.9 709L529.5 710.5L528.2 712.1L526.7 713.6L525.3 715.1L523.8 716.6L522.3 718.1L520.8 719.7L519.3 721.2L517.7 722.6L516.1 724.1L514.5 725.6L512.9 727L511.3 728.4L509.7 729.8L508 731.1L506.4 732.4L504.8 733.7L503.1 735L501.4 736.2L499.8 737.3L498.2 738.5L496.5 739.6L494.9 740.6L493.3 741.6L491.7 742.6L490.1 743.5L488.5 744.4L486.9 745.2L485.4 746L483.9 746.7L482.4 747.4L480.9 748.1L479.5 748.7L478 749.3L476.7 749.8L475.3 750.3L474 750.8L472.7 751.3L471.5 751.7L470.3 752L469.1 752.4L468 752.7L466.9 753L465.8 753.3L464.8 753.5L463.9 753.8L463 754L462.1 754.2L461.3 754.4L460.6 754.5L459.9 754.7L459.3 754.8L458.7 755L458.1 755.1L457.6 755.2L457.2 755.3L456.8 755.4L456.5 755.6L456.3 755.7L456.1 755.8L455.9 755.9L455.8 756L455.8 756.1L455.8 756.2L455.9 756.3L456.1 756.3L456.3 756.4L456.5 756.5L456.8 756.6L457.2 756.7L457.6 756.7L458.1 756.8L458.7 756.9L459.3 756.9L459.9 756.9L460.6 757L461.3 757L462.1 757L463 756.9L463.9 756.9L464.8 756.8L465.8 756.7L466.9 756.6L468 756.4L469.1 756.2L470.3 756L471.5 755.8L472.7 755.5L474 755.2L475.3 754.8L476.7 754.4L478 754L479.5 753.5L480.9 753L482.4 752.4L483.9 751.8L485.4 751.1L486.9 750.4L488.5 749.6L490.1 748.8L491.7 748L493.3 747L494.9 746.1L496.5 745.1L498.2 744L499.8 742.9L501.4 741.7L503.1 740.5L504.8 739.3L506.4 738L508 736.7L509.7 735.3L511.3 733.9L512.9 732.4L514.5 731L516.1 729.5L517.7 727.9L519.3 726.4L520.8 724.8L522.3 723.2L523.8 721.6L525.3 720L526.7 718.4L528.2 716.8L529.5 715.2L530.9 713.5L532.2 711.9L533.5 710.3L534.7 708.8L535.9 707.2L537.1 705.7L538.2 704.2L539.3 702.8L540.4 701.3L541.4 700L542.3 698.6L543.2 697.3L544.1 696.1L544.9 694.9L545.6 693.8L546.3 692.8L546.9 691.8L547.5 690.8L548.1 690L548.6 689.2L549 688.5L549.4 687.9L549.7 687.3L549.9 686.9L550.1 686.5L550.3 686.2L550.4 685.9L550.4 685.8Z" stroke="#3b528b" stroke-width="1.1" fill="none" stroke-linejoin="round" clip-path="url(#c15)"/>
<path d="M538.4 702.1L538.4 702.1L538.3 702.1L538.2 702.2L538.1 702.3L537.9 702.5L537.6 702.7L537.4 703L537 703.3L536.7 703.7L536.3 704.1L535.8 704.6L535.4 705.1L534.8 705.7L534.3 706.3L533.7 707L533 707.7L532.4 708.4L531.7 709.2L530.9 710L530.1 710.8L529.3 711.7L528.5 712.6L527.6 713.5L526.7 714.5L525.8 715.4L524.8 716.4L523.9 717.4L522.8 718.4L521.8 719.5L520.8 720.5L519.7 721.5L518.6 722.6L517.5 723.6L516.3 724.7L515.2 725.7L514 726.8L512.8 727.8L511.6 728.8L510.4 729.9L509.2 730.9L508 731.9L506.8 732.8L505.6 733.8L504.3 734.8L503.1 735.7L501.9 736.6L500.6 737.5L499.4 738.3L498.2 739.2L497 740L495.8 740.8L494.6 741.5L493.4 742.3L492.2 743L491 743.7L489.9 744.3L488.7 745L487.6 745.6L486.5 746.2L485.4 746.7L484.4 747.3L483.4 747.8L482.3 748.3L481.4 748.7L480.4 749.1L479.5 749.6L478.6 750L477.7 750.3L476.9 750.7L476.1 751L475.3 751.3L474.5 751.6L473.8 751.9L473.2 752.2L472.5 752.4L471.9 752.6L471.4 752.8L470.8 753L470.4 753.2L469.9 753.4L469.5 753.6L469.2 753.7L468.8 753.9L468.6 754L468.3 754.1L468.1 754.2L468 754.3L467.9 754.4L467.8 754.5L467.8 754.6L467.8 754.7L467.9 754.7L468 754.8L468.1 754.8L468.3 754.9L468.6 754.9L468.8 754.9L469.2 754.9L469.5 754.9L469.9 754.8L470.4 754.8L470.8 754.7L471.4 754.7L471.9 754.6L472.5 754.5L473.2 754.4L473.8 754.2L474.5 754.1L475.3 753.9L476.1 753.7L476.9 753.5L477.7 753.2L478.6 752.9L479.5 752.6L480.4 752.3L481.4 752L482.3 751.6L483.4 751.2L484.4 750.8L485.4 750.3L486.5 749.8L487.6 749.3L488.7 748.8L489.9 748.2L491 747.6L492.2 746.9L493.4 746.3L494.6 745.6L495.8 744.8L497 744.1L498.2 743.3L499.4 742.5L500.6 741.6L501.9 740.7L503.1 739.8L504.3 738.9L505.6 737.9L506.8 737L508 736L509.2 735L510.4 733.9L511.6 732.9L512.8 731.8L514 730.7L515.2 729.6L516.3 728.5L517.5 727.4L518.6 726.3L519.7 725.2L520.8 724.1L521.8 723L522.8 721.9L523.9 720.8L524.8 719.7L525.8 718.6L526.7 717.5L527.6 716.5L528.5 715.5L529.3 714.5L530.1 713.5L530.9 712.5L531.7 711.6L532.4 710.7L533 709.9L533.7 709L534.3 708.3L534.8 707.5L535.4 706.8L535.8 706.1L536.3 705.5L536.7 705L537 704.4L537.4 704L537.6 703.6L537.9 703.2L538.1 702.9L538.2 702.6L538.3 702.4L538.4 702.2L538.4 702.1Z" stroke="#21918c" stroke-width="1.1" fill="none" stroke-linejoin="round" clip-path="url(#c15)"/>
<path d="M526.4 716.3L526.4 716.3L526.4 716.3L526.3 716.3L526.2 716.4L526.1 716.5L525.9 716.6L525.7 716.7L525.5 716.9L525.3 717.1L525 717.4L524.7 717.6L524.4 717.9L524.1 718.3L523.7 718.6L523.3 719L522.9 719.4L522.4 719.8L522 720.2L521.5 720.7L521 721.2L520.4 721.7L519.9 722.2L519.3 722.7L518.7 723.3L518.1 723.9L517.5 724.4L516.8 725L516.1 725.6L515.5 726.3L514.8 726.9L514.1 727.5L513.3 728.1L512.6 728.8L511.8 729.4L511.1 730.1L510.3 730.7L509.5 731.3L508.7 732L508 732.6L507.2 733.3L506.3 733.9L505.5 734.5L504.7 735.2L503.9 735.8L503.1 736.4L502.3 737L501.5 737.6L500.7 738.2L499.9 738.7L499 739.3L498.2 739.8L497.5 740.4L496.7 740.9L495.9 741.4L495.1 741.9L494.4 742.4L493.6 742.9L492.9 743.3L492.1 743.8L491.4 744.2L490.7 744.6L490.1 745L489.4 745.4L488.7 745.8L488.1 746.2L487.5 746.5L486.9 746.8L486.3 747.1L485.8 747.5L485.2 747.7L484.7 748L484.2 748.3L483.8 748.5L483.3 748.8L482.9 749L482.5 749.2L482.1 749.4L481.8 749.6L481.5 749.8L481.2 750L480.9 750.1L480.7 750.3L480.5 750.4L480.3 750.5L480.1 750.6L480 750.7L479.9 750.8L479.8 750.9L479.8 750.9L479.8 751L479.8 751L479.8 751.1L479.9 751.1L480 751.1L480.1 751.1L480.3 751.1L480.5 751L480.7 751L480.9 751L481.2 750.9L481.5 750.8L481.8 750.7L482.1 750.6L482.5 750.5L482.9 750.4L483.3 750.2L483.8 750.1L484.2 749.9L484.7 749.7L485.2 749.5L485.8 749.3L486.3 749.1L486.9 748.8L487.5 748.5L488.1 748.3L488.7 748L489.4 747.6L490.1 747.3L490.7 746.9L491.4 746.6L492.1 746.2L492.9 745.8L493.6 745.4L494.4 744.9L495.1 744.5L495.9 744L496.7 743.5L497.5 743L498.2 742.5L499 742L499.9 741.4L500.7 740.9L501.5 740.3L502.3 739.7L503.1 739.1L503.9 738.5L504.7 737.9L505.5 737.3L506.3 736.6L507.2 736L508 735.3L508.7 734.6L509.5 734L510.3 733.3L511.1 732.6L511.8 732L512.6 731.3L513.3 730.6L514.1 729.9L514.8 729.2L515.5 728.6L516.1 727.9L516.8 727.3L517.5 726.6L518.1 726L518.7 725.3L519.3 724.7L519.9 724.1L520.4 723.5L521 722.9L521.5 722.4L522 721.9L522.4 721.3L522.9 720.8L523.3 720.4L523.7 719.9L524.1 719.5L524.4 719.1L524.7 718.7L525 718.3L525.3 718L525.5 717.7L525.7 717.4L525.9 717.2L526.1 716.9L526.2 716.8L526.3 716.6L526.4 716.5L526.4 716.4L526.4 716.3Z" stroke="#5ec962" stroke-width="1.1" fill="none" stroke-linejoin="round" clip-path="url(#c15)"/>
<path d="M453.7 778.7v3M552.5 778.7v3" stroke="#8e8e8e" stroke-width="0.8" fill="none"/>
<text class="tk" x="453.7" y="797.1" text-anchor="middle">0</text>
<text class="tk" x="552.5" y="797.1" text-anchor="middle">2</text>
<path d="M390.9 756.1h-3M390.9 719.4h-3M390.9 682.7h-3M390.9 646h-3" stroke="#8e8e8e" stroke-width="0.8" fill="none"/>
<text class="tk" x="385.4" y="762.1" text-anchor="end">0</text>
<text class="tk" x="385.4" y="725.4" text-anchor="end">2</text>
<text class="tk" x="385.4" y="688.7" text-anchor="end">4</text>
<text class="tk" x="385.4" y="652" text-anchor="end">6</text>
<text class="th" x="498" y="813.5" text-anchor="middle"><tspan font-style="italic">θ</tspan><tspan font-size="11" dy="3.4">1</tspan></text>
<text class="th" x="369" y="712.5" text-anchor="middle" transform="rotate(-90 369 708)"><tspan font-style="italic">θ</tspan><tspan font-size="11" dy="3.4">2</tspan></text>
<clipPath id="c16"><rect x="632.5" y="636.9" width="57.5" height="141.8"/></clipPath>
<rect x="632.5" y="636.9" width="57.5" height="141.8" fill="#e8e8e8"/>
<path d="M634.6 636.9V778.7M660.5 636.9V778.7M632.5 756.1H690M632.5 719.4H690M632.5 682.7H690M632.5 646H690" stroke="#ffffff" stroke-width="0.85" fill="none"/>
<path d="M636.1 635.4L636.1 636.9L636.1 638.4L636.1 639.9L636.1 641.4L636.2 642.9L636.2 644.4L636.2 645.9L636.3 647.4L636.3 648.8L636.4 650.3L636.4 651.8L636.5 653.3L636.6 654.8L636.7 656.3L636.8 657.8L636.8 659.3L637 660.8L637.1 662.3L637.2 663.7L637.3 665.2L637.5 666.7L637.7 668.2L637.9 669.7L638.1 671.1L638.3 672.6L638.5 674.1L638.8 675.6L639 677L639.3 678.5L639.6 680L639.8 681.4L640.1 682.9L640.3 684.4L640.6 685.9L640.8 687.3L641 688.8L641.2 690.3L641.5 691.8L641.8 693.2L642.1 694.7L642.5 696.1L642.9 697.5L643.4 698.9L643.9 700.4L644.4 701.7L645 703.1L645.6 704.5L646.2 705.9L646.8 707.2L647.4 708.6L648 710L648.7 711.3L649.3 712.7L650 714L650.6 715.4L651.3 716.7L652 718L652.7 719.3L653.4 720.6L654.1 721.9L654.9 723.2L655.7 724.4L656.5 725.7L657.3 726.9L658.2 728.1L659 729.4L659.9 730.6L660.8 731.8L661.6 733.1L662.5 734.3L663.5 735.5L664.4 736.7L665.3 737.9L666.3 739L667.2 740.1L668.2 741.2L669.2 742.2L670.2 743.1L671.2 744L672.4 744.9L673.6 745.7L675 746.5L676.5 747.2L678.2 748L680 748.7L681.6 749.5L682.8 750.3L683.4 751.2L683.3 752.2L682.5 753.3L681.1 754.4L679.6 755.4L678.1 756.1L676.6 756.8L675.1 757.2L673.7 757.5L672.2 757.8L670.8 757.9L669.3 758L667.9 758.1L666.4 758.2L665 758.2L663.6 758.4L662.1 758.5L660.7 758.8L659.3 759L657.8 759.3L656.4 759.6L654.9 759.9L653.5 760.3L652 760.6L650.5 761L649 761.3L647.5 761.7L646 762L644.4 762.4L642.9 762.8L641.5 763.3L640.1 763.8L638.9 764.6L637.8 765.5L636.8 766.6L636 767.9L635.4 769.3L634.9 770.8L634.7 772.2L634.5 773.7L634.4 775.2L634.5 776.7L634.6 778.2L634.7 779.7" stroke="#2b50a8" stroke-width="1.35" fill="none" stroke-linejoin="round" clip-path="url(#c16)"/>
<path d="M634.6 778.7v3M660.5 778.7v3" stroke="#8e8e8e" stroke-width="0.8" fill="none"/>
<text class="tk" x="634.6" y="797.1" text-anchor="middle">0.00</text>
<text class="tk" x="660.5" y="797.1" text-anchor="middle">0.25</text>
<text class="cap" x="466.5" y="836" textLength="70.5" lengthAdjust="spacingAndGlyphs">(f) DRAM</text>
</svg></body></html>
